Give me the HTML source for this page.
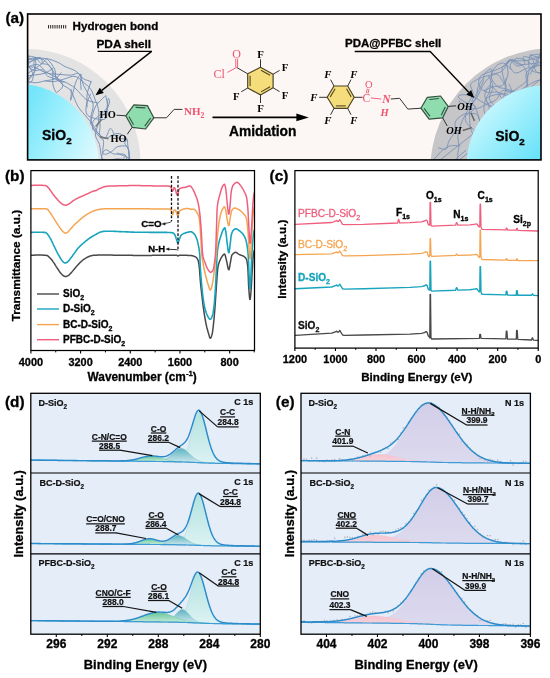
<!DOCTYPE html>
<html lang="en"><head><meta charset="utf-8"><title>Figure</title>
<style>
html,body{margin:0;padding:0;background:#fff;}
body{width:550px;height:678px;overflow:hidden;}
svg{display:block;}
</style></head><body>
<svg width="550" height="678" viewBox="0 0 550 678" font-family='"Liberation Sans", sans-serif' font-weight="bold">
<defs>
<clipPath id="clipA"><rect x="27.6" y="14" width="513.4" height="145.9"/></clipPath>
<linearGradient id="sphL" gradientUnits="userSpaceOnUse" x1="27" y1="105" x2="102" y2="140"><stop offset="0" stop-color="#74e5fa"/><stop offset="0.5" stop-color="#a6f1fd"/><stop offset="1" stop-color="#dcfafe"/></linearGradient>
<linearGradient id="sphR" gradientUnits="userSpaceOnUse" x1="541" y1="158" x2="478" y2="98"><stop offset="0" stop-color="#66e1f9"/><stop offset="0.5" stop-color="#9ceefc"/><stop offset="1" stop-color="#d4f9fe"/></linearGradient>
<clipPath id="clipB"><rect x="30.9" y="170.6" width="223.6" height="179.9"/></clipPath>
<linearGradient id="g1" x1="0" y1="0" x2="0" y2="1"><stop offset="0" stop-color="#b2e2df" stop-opacity="1"/><stop offset="1" stop-color="#dcf2f3" stop-opacity="1"/></linearGradient>
<linearGradient id="g2" x1="0" y1="0" x2="0" y2="1"><stop offset="0" stop-color="#5db4c1" stop-opacity="1"/><stop offset="1" stop-color="#d3e9ef" stop-opacity="1"/></linearGradient>
<linearGradient id="g3" x1="0" y1="0" x2="0" y2="1"><stop offset="0" stop-color="#66c69b" stop-opacity="1"/><stop offset="1" stop-color="#cdeedd" stop-opacity="1"/></linearGradient>
<linearGradient id="g4" x1="0" y1="0" x2="0" y2="1"><stop offset="0" stop-color="#d3cee9" stop-opacity="1"/><stop offset="1" stop-color="#dcdaee" stop-opacity="1"/></linearGradient>
<linearGradient id="g5" x1="0" y1="0" x2="0" y2="1"><stop offset="0" stop-color="#f6c3cf" stop-opacity="1"/><stop offset="1" stop-color="#f3d3de" stop-opacity="1"/></linearGradient>
</defs>
<rect x="0" y="0" width="550" height="678" fill="#ffffff"/>
<rect x="27.6" y="14" width="513.4" height="145.9" fill="#fcf7f4"/>
<g clip-path="url(#clipA)">
<circle cx="26" cy="163.6" r="114.5" fill="#e3e3e3"/>
<circle cx="552" cy="170" r="121.7" fill="#c6c6c8"/>
<path d="M81.14 89.47 C81.04 88.05 80.58 83.51 80.55 80.95 C80.53 78.39 81.72 74.06 80.99 74.09 C80.27 74.13 77.47 78.29 76.2 81.14 C74.92 83.99 74.32 88.01 73.36 91.21 C72.41 94.42 70.9 100.46 70.48 100.37 C70.06 100.28 72.25 93.4 70.82 90.7 C69.4 87.99 64.48 86.69 61.9 84.13 C59.33 81.58 57.11 77.94 55.37 75.37 C53.63 72.81 53.49 71.38 51.48 68.73 C49.46 66.09 46.2 61 43.29 59.51 C40.38 58.01 36.96 58.62 34 59.76 C31.03 60.89 28.23 64.49 25.49 66.32 C22.74 68.15 20.09 69.9 17.51 70.73 C14.93 71.57 12.5 72.27 10 71.33 C7.51 70.38 4.04 67.3 2.55 65.06 C1.06 62.81 0.99 59.11 1.05 57.85 C1.12 56.59 2.84 56.96 2.94 57.51 C3.04 58.07 0.59 60.77 1.68 61.2 C2.77 61.63 6.93 60.06 9.47 60.1 C12.01 60.15 13.59 61.23 16.94 61.48 C20.28 61.74 26.23 62.09 29.53 61.63 C32.84 61.17 35 59.38 36.76 58.73 C38.52 58.07 39.53 57.86 40.09 57.69" fill="none" stroke="#7590b6" stroke-width="0.95" stroke-linecap="round" stroke-linejoin="round"/>
<path d="M87.12 106.94 C87.13 104.81 86.6 98.14 87.18 94.14 C87.75 90.15 89.92 85.06 90.56 82.97 C91.21 80.89 92.27 82.37 91.03 81.63 C89.8 80.89 85.71 80.28 83.15 78.52 C80.59 76.75 78.67 73.05 75.65 71.05 C72.64 69.06 67.99 67.99 65.05 66.55 C62.1 65.1 60.68 63.62 57.96 62.38 C55.24 61.13 51.69 59.78 48.71 59.09 C45.74 58.4 43.5 58.17 40.09 58.23 C36.67 58.3 30.33 59.83 28.23 59.49 C26.14 59.15 27.69 55.13 27.52 56.2 C27.34 57.26 27.98 63.12 27.2 65.86 C26.42 68.6 23.26 69.67 22.83 72.62 C22.39 75.57 22.98 83.2 24.59 83.58 C26.2 83.96 30.56 77.5 32.5 74.89 C34.43 72.28 34.52 69.86 36.22 67.92 C37.92 65.98 40.91 64.71 42.72 63.25 C44.52 61.8 45.05 58.15 47.06 59.17 C49.06 60.2 53.19 66.01 54.73 69.39 C56.26 72.77 54.66 77.33 56.27 79.43 C57.88 81.54 63.03 81.58 64.38 82.01" fill="none" stroke="#7590b6" stroke-width="0.95" stroke-linecap="round" stroke-linejoin="round"/>
<path d="M42.47 62.38 C42.01 61.59 41.94 58.2 39.75 57.63 C37.55 57.06 32.61 58.13 29.28 58.95 C25.96 59.77 22.16 60.89 19.79 62.55 C17.41 64.21 17.21 66.81 15.04 68.9 C12.88 70.99 8.48 73.49 6.79 75.1 C5.11 76.71 4.64 79.5 4.92 78.55 C5.2 77.6 6.47 71.91 8.49 69.4 C10.5 66.9 14.49 65.75 17.01 63.52 C19.54 61.29 21.88 55.73 23.65 56.03 C25.42 56.34 25.94 62.97 27.63 65.35 C29.32 67.73 31.32 69.52 33.79 70.31 C36.26 71.1 40.16 69.12 42.46 70.08 C44.76 71.04 45.2 74.52 47.6 76.05 C49.99 77.58 53.86 78.23 56.82 79.26 C59.78 80.3 62.44 80.88 65.36 82.25 C68.29 83.62 71.9 85.64 74.36 87.5 C76.83 89.36 77.96 91.29 80.14 93.41 C82.32 95.53 84.55 98.63 87.43 100.21 C90.32 101.79 95.78 102.44 97.45 102.88" fill="none" stroke="#7590b6" stroke-width="0.95" stroke-linecap="round" stroke-linejoin="round"/>
<path d="M117.18 153.06 C119.1 153.87 126.69 157.15 128.7 157.93 C130.72 158.71 129.81 155.95 129.29 157.74 C128.77 159.52 125.85 165.46 125.57 168.64 C125.29 171.82 127.34 177.21 127.59 176.82 C127.84 176.44 127.45 169.98 127.05 166.33 C126.66 162.68 127.41 156.99 125.22 154.93 C123.02 152.86 117.19 154.82 113.89 153.97 C110.58 153.12 107.43 149.13 105.41 149.83 C103.38 150.53 100.91 156.03 101.75 158.17 C102.59 160.31 107.75 160.66 110.46 162.66 C113.16 164.67 115.04 169.68 117.97 170.21 C120.89 170.75 126.12 168.07 128 165.86 C129.88 163.65 129.26 160.31 129.24 156.96 C129.22 153.61 128.4 149.03 127.87 145.78 C127.35 142.54 127.89 139.53 126.08 137.48 C124.27 135.42 120.39 133.35 117.01 133.45 C113.64 133.56 108.82 137.96 105.84 138.13 C102.85 138.3 101.17 136.62 99.1 134.48 C97.03 132.34 95.47 128.19 93.4 125.3 C91.33 122.41 89.11 120.02 86.7 117.13 C84.3 114.23 80.94 110.83 78.97 107.93 C77 105.03 76.23 102.85 74.87 99.74 C73.51 96.63 71.49 91.02 70.81 89.27" fill="none" stroke="#7590b6" stroke-width="0.95" stroke-linecap="round" stroke-linejoin="round"/>
<path d="M45.31 80.98 C46.78 81.08 51.08 81.86 54.12 81.57 C57.16 81.28 60.06 80.12 63.57 79.25 C67.07 78.38 71.64 75.69 75.13 76.35 C78.62 77.02 81.91 81.1 84.52 83.26 C87.12 85.42 88.94 86.36 90.79 89.3 C92.64 92.24 94.33 97.47 95.62 100.9 C96.9 104.33 98.05 106.31 98.51 109.87 C98.97 113.44 98.88 118.13 98.37 122.3 C97.85 126.46 95.25 131.15 95.43 134.85 C95.62 138.55 98.45 140.8 99.49 144.48 C100.52 148.16 100.45 153.33 101.64 156.92 C102.84 160.51 104.14 163.34 106.63 166 C109.13 168.66 113.18 172.23 116.61 172.91 C120.03 173.58 125.02 171.57 127.17 170.06 C129.32 168.56 130.41 165.66 129.5 163.86 C128.59 162.07 124.57 159.96 121.69 159.29 C118.82 158.61 115.42 158.79 112.26 159.79 C109.1 160.8 104.53 163 102.73 165.33 C100.93 167.67 100.61 174.06 101.46 173.8 C102.31 173.54 104.62 165.3 107.82 163.76 C111.03 162.23 117.1 163.98 120.71 164.62 C124.31 165.25 129.15 166.42 129.46 167.56 C129.77 168.7 124.45 170.11 122.56 171.47 C120.67 172.84 118.28 176.83 118.11 175.73 C117.95 174.62 120.58 167.86 121.57 164.83 C122.57 161.81 123.66 158.77 124.08 157.56" fill="none" stroke="#7590b6" stroke-width="0.95" stroke-linecap="round" stroke-linejoin="round"/>
<path d="M52.94 68.37 C51.46 69.22 47.52 72.29 44.03 73.44 C40.54 74.59 35.88 74.68 32 75.29 C28.13 75.9 24.73 76.68 20.8 77.09 C16.87 77.51 11.26 78.65 8.41 77.78 C5.56 76.91 2.6 71.96 3.67 71.87 C4.74 71.77 12.38 75.27 14.84 77.21 C17.3 79.16 19 83.52 18.42 83.54 C17.84 83.57 13.71 79.39 11.35 77.37 C8.98 75.35 5.86 74.23 4.23 71.39 C2.59 68.56 1.71 60.86 1.52 60.35 C1.33 59.85 1.34 66.99 3.07 68.39 C4.8 69.78 8.91 68.91 11.9 68.71 C14.88 68.5 17.31 67.42 20.97 67.16 C24.63 66.9 29.97 66.35 33.84 67.16 C37.71 67.98 41.24 70.93 44.2 72.05 C47.15 73.16 48.78 73.44 51.57 73.86 C54.35 74.27 57.73 74.3 60.92 74.52 C64.12 74.73 67.66 75.27 70.72 75.16 C73.79 75.04 77.18 72.12 79.32 73.82 C81.45 75.52 81.99 81.9 83.53 85.34 C85.06 88.79 86.91 91.26 88.53 94.5 C90.14 97.74 92.81 100.92 93.21 104.76 C93.61 108.6 90.95 113.38 90.94 117.56 C90.92 121.73 92.76 127.77 93.12 129.82" fill="none" stroke="#7590b6" stroke-width="0.95" stroke-linecap="round" stroke-linejoin="round"/>
<path d="M90.51 94.11 C89.82 95.93 86.93 101.56 86.39 105.02 C85.85 108.49 85.5 112.58 87.27 114.9 C89.05 117.22 94.03 118.3 97.07 118.93 C100.1 119.56 103.78 120.17 105.47 118.66 C107.15 117.16 106.75 113.24 107.17 109.92 C107.59 106.6 107.58 100.11 107.98 98.75 C108.38 97.4 109.9 99.66 109.56 101.81 C109.22 103.97 107.49 108.85 105.95 111.67 C104.42 114.49 101.33 116.18 100.34 118.71 C99.36 121.24 100.16 124.23 100.06 126.83 C99.96 129.44 99.16 131.97 99.73 134.35 C100.3 136.73 102.93 137.9 103.49 141.12 C104.06 144.34 101.84 151.84 103.11 153.66 C104.38 155.48 108.77 153.19 111.12 152.06 C113.47 150.92 114.53 147.7 117.21 146.85 C119.9 145.99 125.21 144.91 127.24 146.92 C129.26 148.94 128.99 155.53 129.36 158.94 C129.73 162.35 129.57 164.37 129.46 167.37 C129.35 170.37 128.7 176.98 128.7 176.95 C128.71 176.92 129.35 170.01 129.47 167.19 C129.58 164.37 129.57 162.94 129.41 160.05 C129.25 157.16 129.31 152.64 128.51 149.87 C127.71 147.09 125.27 144.46 124.62 143.38" fill="none" stroke="#7590b6" stroke-width="0.95" stroke-linecap="round" stroke-linejoin="round"/>
<path d="M60.98 72.84 C60.05 73.82 57.98 77.44 55.36 78.77 C52.73 80.09 48.63 80.1 45.25 80.78 C41.86 81.45 38.35 82.83 35.03 82.82 C31.72 82.81 28.65 80.65 25.36 80.72 C22.06 80.78 18.3 83.08 15.24 83.2 C12.19 83.33 8.88 82.83 7.05 81.46 C5.22 80.09 2.94 76.39 4.25 74.97 C5.57 73.55 11.28 74.08 14.92 72.92 C18.57 71.76 22.34 69.43 26.11 68.02 C29.87 66.6 34.04 63.69 37.52 64.45 C41 65.21 43.55 70.23 46.97 72.57 C50.4 74.92 55.41 76.33 58.05 78.53 C60.7 80.73 62.95 83.54 62.85 85.78 C62.75 88.03 58.71 91.13 57.47 92.02 C56.22 92.91 56.15 92.56 55.36 91.15 C54.58 89.74 53.21 86.8 52.75 83.56 C52.29 80.32 53.38 74.83 52.61 71.71 C51.84 68.59 50.13 66.27 48.15 64.84 C46.17 63.42 43.01 64.43 40.74 63.16 C38.47 61.89 37.65 58.41 34.52 57.21 C31.39 56.02 25.93 55.75 21.94 56 C17.95 56.25 14.07 58.41 10.59 58.71 C7.11 59.02 2.64 57.99 1.05 57.85" fill="none" stroke="#7590b6" stroke-width="0.95" stroke-linecap="round" stroke-linejoin="round"/>
<path d="M27.48 79.25 C28.68 78.06 33.61 74.7 34.68 72.09 C35.74 69.48 33.79 66.11 33.89 63.59 C34 61.06 35.07 56.27 35.3 56.95 C35.53 57.62 36.38 65.01 35.29 67.64 C34.21 70.26 30.85 70.93 28.8 72.71 C26.76 74.48 24.88 76.48 23.02 78.29 C21.17 80.1 19.42 83.84 17.65 83.57 C15.87 83.3 14.5 78.22 12.39 76.69 C10.29 75.16 6.63 76.01 5.02 74.37 C3.42 72.74 2.18 66.86 2.74 66.89 C3.3 66.92 7.6 71.96 8.39 74.57 C9.18 77.18 7.32 80.92 7.5 82.54 C7.68 84.17 8.79 86.02 9.48 84.32 C10.17 82.63 9.36 75.25 11.64 72.39 C13.92 69.52 20.91 69.74 23.16 67.12 C25.41 64.5 24.17 58.48 25.13 56.67 C26.09 54.87 28.38 55 28.92 56.29 C29.45 57.58 27.63 61.3 28.34 64.41 C29.05 67.52 32.82 71.9 33.16 74.94 C33.5 77.99 32.39 81.39 30.38 82.69 C28.36 83.99 24.06 82.54 21.06 82.75 C18.06 82.96 15.02 84.42 12.37 83.96 C9.73 83.5 5.58 79.93 5.19 79.98 C4.81 80.02 9.25 83.53 10.07 84.24" fill="none" stroke="#7590b6" stroke-width="0.95" stroke-linecap="round" stroke-linejoin="round"/>
<path d="M124.93 142.27 C125.2 141.8 128.03 140.32 126.57 139.47 C125.12 138.62 118.87 139.01 116.19 137.17 C113.52 135.33 112.38 128.3 110.5 128.42 C108.62 128.55 107.34 137.49 104.9 137.93 C102.47 138.37 98.07 133.2 95.87 131.04 C93.67 128.89 92.61 126.36 91.71 124.98 C90.8 123.61 90.29 124.55 90.45 122.81 C90.6 121.06 91.67 117.38 92.61 114.51 C93.55 111.64 94.08 108.6 96.08 105.6 C98.09 102.6 102.98 97.92 104.64 96.51 C106.3 95.1 105.65 95.25 106.04 97.11 C106.43 98.98 108.25 104.53 106.99 107.69 C105.73 110.85 100.8 113.73 98.47 116.08 C96.13 118.42 93.78 119.54 92.98 121.78 C92.18 124.02 92.21 126.59 93.67 129.5 C95.12 132.4 100.37 137.6 101.71 139.22" fill="none" stroke="#7590b6" stroke-width="0.95" stroke-linecap="round" stroke-linejoin="round"/>
<path d="M538.9 57.82 C540.48 57.58 545.23 56.78 548.38 56.4 C551.54 56.02 555.02 55.72 557.81 55.54 C560.61 55.36 563.31 55.24 565.13 55.31 C566.96 55.37 568.93 55.95 568.78 55.93 C568.63 55.9 565.18 53.35 564.23 55.17 C563.28 56.99 563.5 63.34 563.07 66.85 C562.65 70.37 562.35 73.37 561.7 76.28 C561.05 79.2 560.37 82.68 559.17 84.34 C557.97 86 553.89 86.54 554.5 86.26 C555.1 85.98 561.61 85.39 562.79 82.65 C563.97 79.92 563.04 72.61 561.57 69.85 C560.1 67.1 556.92 66.66 553.96 66.12 C551 65.58 546.88 66.79 543.81 66.61 C540.75 66.42 538.45 63.98 535.57 65.01 C532.69 66.03 527.96 69.72 526.53 72.73 C525.09 75.75 526.69 80.46 526.97 83.08 C527.26 85.7 528.02 87.56 528.23 88.45" fill="none" stroke="#7b93b9" stroke-width="0.9" stroke-linecap="round" stroke-linejoin="round"/>
<path d="M482.39 79.55 C481.63 80.9 478.82 84.8 477.8 87.66 C476.78 90.52 477.55 93.52 476.28 96.71 C475.02 99.9 471.35 103.79 470.23 106.82 C469.11 109.84 469.55 111.57 469.57 114.88 C469.58 118.19 469.65 123.33 470.3 126.67 C470.96 130 472.69 134.08 473.51 134.87 C474.33 135.66 476.46 133.46 475.25 131.39 C474.03 129.33 467.66 125.26 466.21 122.47 C464.76 119.68 464.87 116.08 466.56 114.67 C468.24 113.27 474.06 112.7 476.33 114.04 C478.6 115.38 480.13 123.3 480.18 122.71 C480.24 122.12 478.03 114.08 476.66 110.49 C475.29 106.89 471.91 104.02 471.97 101.14 C472.02 98.25 475.15 96.4 476.99 93.19 C478.83 89.97 481.75 85.01 483.01 81.82 C484.27 78.63 483.13 76.17 484.55 74.06 C485.97 71.94 490.49 67.84 491.51 69.14 C492.53 70.43 491.02 78 490.66 81.83 C490.3 85.67 490.11 89.15 489.33 92.16 C488.55 95.17 485.59 97.45 485.96 99.89 C486.33 102.33 490.14 105.74 491.56 106.8 C492.98 107.85 494.86 107.6 494.49 106.2 C494.11 104.79 489.56 101.64 489.32 98.36 C489.08 95.08 493.16 90.21 493.04 86.5 C492.91 82.8 489.31 77.87 488.56 76.15" fill="none" stroke="#7b93b9" stroke-width="0.9" stroke-linecap="round" stroke-linejoin="round"/>
<path d="M468.57 102.37 C469.33 100.91 472.81 96.55 473.12 93.64 C473.43 90.73 470.1 87.07 470.43 84.9 C470.77 82.74 473.08 81.93 475.11 80.65 C477.15 79.37 479.34 78.42 482.65 77.25 C485.95 76.07 491.58 74.74 494.93 73.62 C498.28 72.5 500.49 72.64 502.75 70.54 C505.02 68.44 507.08 62.75 508.52 61.01 C509.95 59.27 512.4 58.97 511.37 60.1 C510.34 61.24 503.5 64.41 502.32 67.83 C501.14 71.24 503.66 77.24 504.28 80.61 C504.9 83.98 506.42 84.79 506.02 88.04 C505.63 91.29 503.93 97.02 501.92 100.12 C499.9 103.23 497.07 106.29 493.94 106.68 C490.8 107.08 486.74 104.29 483.12 102.5 C479.49 100.71 475.79 97.23 472.17 95.95 C468.56 94.68 463.7 94.55 461.44 94.86 C459.19 95.17 457.65 96.4 458.66 97.81 C459.67 99.22 464.66 101.9 467.49 103.35 C470.33 104.8 475.2 105.03 475.65 106.5 C476.11 107.97 472.31 110.78 470.21 112.14 C468.11 113.5 465.49 113.14 463.04 114.67 C460.59 116.19 456.87 118.56 455.53 121.29 C454.2 124.01 456.15 127.69 455.04 131.02 C453.93 134.34 450.35 138.2 448.87 141.22 C447.39 144.24 447.87 148.05 446.14 149.15 C444.42 150.24 439.79 148.02 438.52 147.8" fill="none" stroke="#7b93b9" stroke-width="0.9" stroke-linecap="round" stroke-linejoin="round"/>
<path d="M533.53 66.33 C532.29 65.32 529 61.53 526.09 60.25 C523.18 58.96 518.75 57.64 516.08 58.6 C513.4 59.56 510.11 63.6 510.05 66 C509.99 68.4 512.98 72.6 515.73 73.01 C518.48 73.42 522.83 69.66 526.54 68.45 C530.26 67.25 534.81 66.52 538.04 65.78 C541.28 65.03 542.98 64.56 545.96 64 C548.94 63.44 553.32 64 555.91 62.41 C558.51 60.82 559.4 55.54 561.54 54.46 C563.68 53.38 568.96 55.41 568.78 55.93 C568.59 56.44 562.63 55.9 560.44 57.53 C558.25 59.16 557.43 62.44 555.64 65.71 C553.84 68.98 550.28 73.76 549.64 77.16 C549.01 80.56 550.96 86.47 551.83 86.09 C552.71 85.71 553.65 78.79 554.89 74.9 C556.14 71.01 556.96 66 559.29 62.75 C561.62 59.5 568.6 55.88 568.87 55.4 C569.15 54.92 563.71 60.1 560.93 59.88 C558.15 59.66 555.32 54.04 552.2 54.08 C549.08 54.11 543.86 59.1 542.2 60.1" fill="none" stroke="#7b93b9" stroke-width="0.9" stroke-linecap="round" stroke-linejoin="round"/>
<path d="M465.78 150.69 C464.5 151.72 460.21 154.53 458.11 156.86 C456 159.19 435.26 178.61 453.16 164.67 C471.07 150.73 548.23 89.64 565.54 73.21 C582.86 56.78 559.62 68.83 557.05 66.09 C554.47 63.36 551.59 58.83 550.09 56.82 C548.6 54.8 549.7 54.42 548.06 54 C546.41 53.58 542.16 52.32 540.21 54.27 C538.25 56.22 538.11 63.17 536.35 65.71 C534.58 68.24 531.27 66.99 529.63 69.5 C527.99 72.01 528.37 77.76 526.51 80.75 C524.65 83.73 520.93 85.63 518.46 87.4 C516 89.18 514.39 90.85 511.74 91.39 C509.08 91.94 505.09 89.32 502.53 90.67 C499.96 92.01 498.84 97.28 496.34 99.45 C493.84 101.62 490.69 102.19 487.53 103.69 C484.37 105.18 480.72 107.79 477.38 108.4 C474.04 109.01 470.56 108.59 467.48 107.36 C464.41 106.12 460.35 102.05 458.93 100.99" fill="none" stroke="#7b93b9" stroke-width="0.9" stroke-linecap="round" stroke-linejoin="round"/>
<path d="M546.42 68.99 C546.86 67.05 547.97 59.79 549.06 57.31 C550.15 54.83 552.54 52.99 552.97 54.11 C553.39 55.23 550.59 62.4 551.61 64.03 C552.64 65.65 556.39 64.58 559.13 63.86 C561.87 63.14 567.59 58.54 568.07 59.71 C568.55 60.87 564.31 67.65 561.99 70.84 C559.68 74.04 557.19 78.36 554.18 78.86 C551.16 79.36 546.92 75.08 543.88 73.84 C540.85 72.59 537.76 73.73 535.96 71.39 C534.16 69.05 534 62.45 533.09 59.78 C532.17 57.11 529.29 55.8 530.47 55.37 C531.64 54.94 536.77 57.43 540.12 57.21 C543.48 56.98 547.2 54.45 550.61 54.03 C554.02 53.61 557.74 53.46 560.59 54.7 C563.45 55.95 567.14 61.44 567.73 61.51 C568.32 61.59 564.14 55.23 564.15 55.16 C564.16 55.09 568.93 60.95 567.81 61.1 C566.69 61.24 560.53 57.31 557.41 56.03 C554.3 54.74 552.22 53.44 549.11 53.39 C546.01 53.35 541.01 54.16 538.79 55.76 C536.57 57.36 537.21 59.92 535.78 63.01 C534.35 66.1 531.14 72.42 530.21 74.31" fill="none" stroke="#7b93b9" stroke-width="0.9" stroke-linecap="round" stroke-linejoin="round"/>
<path d="M508.8 84.11 C509.23 85.36 512.24 89.09 511.37 91.62 C510.5 94.15 505.95 99.33 503.56 99.28 C501.16 99.23 499.29 93.55 497 91.32 C494.71 89.09 491.88 85.15 489.83 85.88 C487.79 86.61 484.82 92.14 484.72 95.68 C484.62 99.23 489.07 103.88 489.23 107.14 C489.4 110.4 486.57 115.28 485.69 115.25 C484.81 115.22 483.82 109.73 483.94 106.96 C484.06 104.19 484.73 100.6 486.39 98.62 C488.05 96.65 490.51 95.9 493.9 95.11 C497.28 94.33 504.29 93.7 506.71 93.9 C509.13 94.11 509.98 96.62 508.41 96.34 C506.83 96.06 500.95 92.93 497.25 92.22 C493.56 91.51 489.27 93.15 486.25 92.08 C483.24 91.02 480.16 88.43 479.16 85.85 C478.16 83.26 478.61 78.85 480.24 76.57 C481.88 74.29 486.04 73.37 488.97 72.15 C491.9 70.94 494.72 70.69 497.81 69.29 C500.91 67.89 505.39 65.25 507.54 63.75 C509.68 62.26 509.15 59.97 510.7 60.33 C512.25 60.7 514.48 65.4 516.82 65.92 C519.15 66.45 523.6 65.01 524.71 63.47 C525.82 61.93 521.76 57.32 523.48 56.69 C525.2 56.07 531.67 58.27 535.05 59.71 C538.42 61.16 542.29 64.44 543.73 65.38" fill="none" stroke="#7b93b9" stroke-width="0.9" stroke-linecap="round" stroke-linejoin="round"/>
<path d="M484.38 90.35 C486.11 89.69 491.71 87.24 494.76 86.38 C497.82 85.52 500.51 87.21 502.72 85.19 C504.92 83.18 507.34 78.04 507.99 74.3 C508.64 70.56 506.1 65.09 506.62 62.74 C507.14 60.39 509 59.89 511.14 60.18 C513.27 60.47 516.06 63.89 519.43 64.47 C522.81 65.05 527.58 64.08 531.37 63.67 C535.17 63.27 538.97 63.07 542.22 62.02 C545.47 60.97 547.6 58.57 550.89 57.38 C554.18 56.19 559.12 54.35 561.96 54.87 C564.8 55.38 567.71 60.42 567.93 60.45 C568.15 60.48 565.26 55.5 563.29 55.04 C561.31 54.58 558.57 57.13 556.09 57.69 C553.61 58.26 551.77 58.43 548.43 58.44 C545.09 58.46 539.62 57.45 536.05 57.78 C532.48 58.11 530.38 59.95 527.01 60.42 C523.64 60.9 518.25 60.76 515.81 60.65 C513.36 60.55 511.18 58.97 512.33 59.78 C513.48 60.59 520.25 63.13 522.69 65.52 C525.12 67.91 526.24 70.83 526.94 74.1 C527.63 77.37 528.28 82.22 526.86 85.13 C525.44 88.05 521.88 90.96 518.42 91.59 C514.96 92.23 509.65 89.8 506.11 88.92 C502.57 88.04 499.64 88.34 497.17 86.32 C494.7 84.3 491.53 80.1 491.28 76.82 C491.03 73.54 493.62 68.93 495.69 66.64 C497.75 64.34 501.13 62.58 503.69 63.05 C506.24 63.53 509.8 68.41 511.02 69.48" fill="none" stroke="#7b93b9" stroke-width="0.9" stroke-linecap="round" stroke-linejoin="round"/>
<path d="M459.81 145.85 C457.98 145.92 452.33 144.87 448.82 146.24 C445.32 147.6 440.96 151.19 438.79 154.02 C436.62 156.86 414.12 179.6 435.79 163.25 C457.45 146.9 547.43 73.95 568.78 55.93 C590.12 37.9 565.89 54.75 563.84 55.12 C561.8 55.48 558.92 55.91 556.49 58.13 C554.07 60.36 551.71 65.2 549.31 68.47 C546.9 71.75 543.36 74.74 542.08 77.79 C540.8 80.84 540.57 85.42 541.64 86.79 C542.7 88.16 546.19 87.97 548.45 86 C550.71 84.03 554.89 78.02 555.17 74.97 C555.45 71.92 551 70.23 550.14 67.69 C549.28 65.14 550.95 61.94 550 59.67 C549.04 57.4 547.11 54.85 544.41 54.06 C541.71 53.26 536.19 54.67 533.8 54.9 C531.4 55.13 530.83 53.43 530.04 55.44 C529.24 57.44 527.94 64.07 529.02 66.92 C530.1 69.76 533.28 71.89 536.53 72.51 C539.79 73.13 545.35 71.43 548.56 70.64 C551.77 69.85 553.16 69.61 555.8 67.77 C558.44 65.93 562.24 61.58 564.4 59.62 C566.56 57.65 569.39 56.47 568.77 55.97 C568.14 55.46 562.55 55.02 560.66 56.6 C558.76 58.19 558.95 63.11 557.4 65.48 C555.85 67.85 552.38 69.94 551.38 70.83" fill="none" stroke="#7b93b9" stroke-width="0.9" stroke-linecap="round" stroke-linejoin="round"/>
<path d="M505.08 85.27 C503.86 83.48 500.3 75.91 497.71 74.57 C495.11 73.23 492.01 75.41 489.5 77.25 C487 79.1 484.59 82.6 482.69 85.63 C480.8 88.66 479.96 92.27 478.15 95.42 C476.34 98.57 473.68 101.87 471.84 104.55 C470.01 107.24 468.7 108.87 467.14 111.51 C465.58 114.14 463.8 117.38 462.47 120.37 C461.14 123.36 459.9 126.7 459.14 129.46 C458.37 132.21 457.94 134.11 457.89 136.92 C457.83 139.74 458.81 142.84 458.81 146.37 C458.8 149.9 456.78 154.93 457.86 158.12 C458.95 161.31 447.79 177.36 465.3 165.51 C482.82 153.65 546.53 101.5 562.96 86.99 C579.4 72.49 563.5 80.72 563.92 78.48 C564.34 76.24 565.79 73.28 565.48 73.57 C565.16 73.86 563.17 78.05 562.01 80.24 C560.85 82.43 558.23 86.17 558.51 86.68 C558.78 87.2 563.87 83.33 563.65 83.31 C563.44 83.28 557.25 86.41 557.22 86.53 C557.2 86.65 563.79 84.06 563.52 84.03 C563.24 84.01 557.96 86.65 555.58 86.36 C553.2 86.06 552.14 83.28 549.23 82.28 C546.33 81.28 541.9 79.7 538.14 80.34 C534.38 80.97 530.02 84.32 526.7 86.09 C523.39 87.86 521.64 90.16 518.25 90.97 C514.85 91.78 508.35 93.03 506.32 90.96 C504.29 88.88 506.1 80.58 506.06 78.51" fill="none" stroke="#7b93b9" stroke-width="0.9" stroke-linecap="round" stroke-linejoin="round"/>
<circle cx="17.3" cy="165.5" r="81.8" fill="url(#sphL)"/>
<circle cx="546" cy="164.7" r="79.4" fill="url(#sphR)"/>
</g>
<rect x="27.6" y="14" width="513.4" height="145.9" fill="none" stroke="#000" stroke-width="1.6"/>
<text x="5.4" y="23.2" font-size="15.3" stroke="#000" stroke-width="0.3">(a)</text>
<text x="42" y="140.2" font-size="14" stroke="#000" stroke-width="0.3">SiO<tspan font-size="9.8" dy="4.2">2</tspan></text>
<text x="495.2" y="140.7" font-size="14" stroke="#000" stroke-width="0.3">SiO<tspan font-size="9.8" dy="4.2">2</tspan></text>
<line x1="48" y1="26.7" x2="66.2" y2="26.7" stroke="#333" stroke-width="3.4" stroke-dasharray="1.05 1.1"/>
<text x="72.6" y="29.9" font-size="11.6" stroke="#000" stroke-width="0.3">Hydrogen bond</text>
<text x="96.5" y="47.7" font-size="11.8" stroke="#000" stroke-width="0.3">PDA shell</text>
<line x1="97.6" y1="51.4" x2="152" y2="51.4" stroke="#000" stroke-width="1.35"/>
<path d="M95.5 95.3 L99.75 87.76 L103.83 92.95 Z" fill="#000"/>
<line x1="151.6" y1="51.4" x2="101.79" y2="90.36" stroke="#000" stroke-width="1.35"/>
<text x="345.1" y="46.8" font-size="11.5" stroke="#000" stroke-width="0.3">PDA@PFBC shell</text>
<line x1="354.7" y1="51.5" x2="430.6" y2="51.5" stroke="#000" stroke-width="1.35"/>
<path d="M474.2 98 L466.32 94.43 L471.13 89.91 Z" fill="#000"/>
<line x1="430.2" y1="51.5" x2="468.72" y2="92.17" stroke="#000" stroke-width="1.35"/>
<line x1="212.5" y1="117.4" x2="299" y2="117.4" stroke="#000" stroke-width="1.8"/>
<path d="M308.8 117.4 L296.4 113.6 L296.4 121.2 Z" fill="#000"/>
<text x="229" y="136.2" font-size="13.8" stroke="#000" stroke-width="0.3">Amidation</text>
<path d="M125.8 115.8 L133.9 104.9 L147.4 105.6 L153.8 117.8 L145.6 129 L132.2 127.3Z" fill="#8fdcae" stroke="#35503f" stroke-width="1.2" stroke-linejoin="round"/>
<line x1="135.61" y1="107.39" x2="145.33" y2="107.9" stroke="#35503f" stroke-width="1.08"/>
<line x1="150.66" y1="118.03" x2="144.76" y2="126.09" stroke="#35503f" stroke-width="1.08"/>
<line x1="133.5" y1="124.71" x2="128.89" y2="116.43" stroke="#35503f" stroke-width="1.08"/>
<path d="M153.8 117.8 L166.5 117.8 L174.1 109.4 L182 109.4" fill="none" stroke="#333" stroke-width="1" stroke-linejoin="round" stroke-linecap="round"/>
<line x1="116.5" y1="115.2" x2="125.8" y2="115.8" stroke="#333" stroke-width="1"/>
<line x1="132.2" y1="127.3" x2="127.3" y2="134.2" stroke="#333" stroke-width="1"/>
<text x="107.7" y="117.9" font-size="10.4" font-family='"Liberation Serif", serif' text-anchor="middle">HO</text>
<text x="118.5" y="142.4" font-size="10.4" font-family='"Liberation Serif", serif' text-anchor="middle">HO</text>
<text x="184" y="114.8" font-size="11" font-family='"Liberation Serif", serif' fill="#f0506e">NH<tspan font-size="7.7" dy="3.3">2</tspan></text>
<line x1="95.8" y1="126.5" x2="101.6" y2="119.6" stroke="#777" stroke-width="1.5"/>
<line x1="99.8" y1="136.7" x2="108.5" y2="138.7" stroke="#777" stroke-width="1.5"/>
<path d="M260.5 67.3 L273.1 74.2 L273.1 87.8 L260.5 94.9 L247.7 88 L247.7 73.8Z" fill="#f5dd7c" stroke="#4d4526" stroke-width="1.2" stroke-linejoin="round"/>
<line x1="261" y1="70.3" x2="270.07" y2="75.27" stroke="#4d4526" stroke-width="1.08"/>
<line x1="270.08" y1="86.75" x2="261.01" y2="91.86" stroke="#4d4526" stroke-width="1.08"/>
<line x1="250.1" y1="86.03" x2="250.1" y2="75.81" stroke="#4d4526" stroke-width="1.08"/>
<line x1="260.5" y1="67.3" x2="260.5" y2="59.3" stroke="#333" stroke-width="1"/>
<line x1="273.1" y1="74.2" x2="279.6" y2="70.4" stroke="#333" stroke-width="1"/>
<line x1="273.1" y1="87.8" x2="279.6" y2="91.6" stroke="#333" stroke-width="1"/>
<line x1="260.5" y1="94.9" x2="260.5" y2="103" stroke="#333" stroke-width="1"/>
<line x1="247.7" y1="88" x2="241.2" y2="91.8" stroke="#333" stroke-width="1"/>
<line x1="247.7" y1="73.8" x2="236.6" y2="67.4" stroke="#333" stroke-width="1"/>
<text x="260.5" y="57.9" font-size="10.8" font-family='"Liberation Serif", serif' text-anchor="middle">F</text>
<text x="285" y="71" font-size="10.8" font-family='"Liberation Serif", serif' text-anchor="middle">F</text>
<text x="285" y="99.2" font-size="10.8" font-family='"Liberation Serif", serif' text-anchor="middle">F</text>
<text x="260.5" y="112.4" font-size="10.8" font-family='"Liberation Serif", serif' text-anchor="middle">F</text>
<text x="236.4" y="99.6" font-size="10.8" font-family='"Liberation Serif", serif' text-anchor="middle">F</text>
<line x1="235.8" y1="67.4" x2="235.8" y2="58.6" stroke="#f0506e" stroke-width="0.9"/>
<line x1="237.6" y1="67.4" x2="237.6" y2="58.6" stroke="#f0506e" stroke-width="0.9"/>
<line x1="236.6" y1="67.4" x2="227.4" y2="72.4" stroke="#f0506e" stroke-width="0.9"/>
<text x="236.6" y="57.6" font-size="12" font-family='"Liberation Serif", serif' font-weight="normal" fill="#f0506e" text-anchor="middle">O</text>
<text x="219.2" y="78.4" font-size="12" font-family='"Liberation Serif", serif' font-weight="normal" fill="#f0506e" text-anchor="middle">Cl</text>
<path d="M327.2 97.3 L334 86 L347.7 86 L354.2 97.3 L347.7 108.3 L334 108.3Z" fill="#f5dd7c" stroke="#4d4526" stroke-width="1.2" stroke-linejoin="round"/>
<line x1="330.26" y1="96.87" x2="335.16" y2="88.73" stroke="#4d4526" stroke-width="1.08"/>
<line x1="346.5" y1="88.73" x2="351.18" y2="96.87" stroke="#4d4526" stroke-width="1.08"/>
<line x1="345.77" y1="105.9" x2="335.91" y2="105.9" stroke="#4d4526" stroke-width="1.08"/>
<line x1="334" y1="86" x2="330.6" y2="79.6" stroke="#333" stroke-width="1"/>
<line x1="347.7" y1="86" x2="351" y2="79.6" stroke="#333" stroke-width="1"/>
<line x1="327.2" y1="97.3" x2="319.2" y2="97.3" stroke="#333" stroke-width="1"/>
<line x1="334" y1="108.3" x2="330.6" y2="114.8" stroke="#333" stroke-width="1"/>
<line x1="347.7" y1="108.3" x2="351" y2="114.8" stroke="#333" stroke-width="1"/>
<text x="327.9" y="78.1" font-size="10.8" font-family='"Liberation Serif", serif' text-anchor="middle" font-style="italic">F</text>
<text x="353.9" y="78.1" font-size="10.8" font-family='"Liberation Serif", serif' text-anchor="middle" font-style="italic">F</text>
<text x="313.9" y="101.2" font-size="10.8" font-family='"Liberation Serif", serif' text-anchor="middle" font-style="italic">F</text>
<text x="327.9" y="123.6" font-size="10.8" font-family='"Liberation Serif", serif' text-anchor="middle" font-style="italic">F</text>
<text x="353.9" y="123.6" font-size="10.8" font-family='"Liberation Serif", serif' text-anchor="middle" font-style="italic">F</text>
<line x1="354.2" y1="97.3" x2="362.6" y2="97.3" stroke="#333" stroke-width="1"/>
<text x="366.4" y="101.6" font-size="11.5" font-family='"Liberation Serif", serif' font-weight="normal" fill="#f0506e" text-anchor="middle">C</text>
<line x1="366.3" y1="93.2" x2="367.3" y2="88.6" stroke="#f0506e" stroke-width="0.9"/>
<line x1="368" y1="93.5" x2="369" y2="88.9" stroke="#f0506e" stroke-width="0.9"/>
<text x="368.8" y="88.2" font-size="10.5" font-family='"Liberation Serif", serif' font-weight="normal" fill="#f0506e" text-anchor="middle">O</text>
<line x1="370.8" y1="98" x2="381.2" y2="99" stroke="#f0506e" stroke-width="0.9"/>
<text x="386.4" y="103" font-size="11.5" font-family='"Liberation Serif", serif' fill="#f0506e" text-anchor="middle" font-style="italic">N</text>
<text x="384.6" y="116.4" font-size="10.5" font-family='"Liberation Serif", serif' fill="#f0506e" text-anchor="middle" font-style="italic">H</text>
<path d="M391.2 99 L399.6 98.3 L407.8 109.1 L420.9 108.2" fill="none" stroke="#333" stroke-width="1" stroke-linejoin="round" stroke-linecap="round"/>
<path d="M420.9 108.2 L427.3 97.3 L440.5 96 L448.2 106.4 L442.7 117.8 L429.1 119.1Z" fill="#8fdcae" stroke="#35503f" stroke-width="1.2" stroke-linejoin="round"/>
<line x1="429.34" y1="99.51" x2="438.85" y2="98.57" stroke="#35503f" stroke-width="1.08"/>
<line x1="445.23" y1="107.04" x2="441.27" y2="115.25" stroke="#35503f" stroke-width="1.08"/>
<line x1="429.98" y1="116.29" x2="424.08" y2="108.44" stroke="#35503f" stroke-width="1.08"/>
<line x1="448.2" y1="106.4" x2="456.2" y2="105.8" stroke="#333" stroke-width="1"/>
<line x1="442.7" y1="117.8" x2="447.2" y2="126" stroke="#333" stroke-width="1"/>
<text x="465" y="110" font-size="10.4" font-family='"Liberation Serif", serif' text-anchor="middle" font-style="italic">OH</text>
<text x="454" y="133.6" font-size="10.4" font-family='"Liberation Serif", serif' text-anchor="middle" font-style="italic">OH</text>
<line x1="470.9" y1="112.7" x2="474.5" y2="120.9" stroke="#666" stroke-width="1.5"/>
<line x1="462.7" y1="130.5" x2="471.8" y2="127.6" stroke="#666" stroke-width="1.5"/>
<rect x="30.9" y="170.6" width="223.6" height="179.9" fill="#fff"/>
<g clip-path="url(#clipB)">
<path d="M31 255.3 L31.4 255.3 L31.8 255.3 L32.2 255.2 L32.6 255.2 L33 255.2 L33.4 255.2 L33.8 255.2 L34.2 255.2 L34.6 255.2 L35 255.1 L35.4 255.1 L35.8 255.1 L36.2 255.1 L36.6 255.1 L37 255.1 L37.4 255.1 L37.8 255.1 L38.2 255.1 L38.6 255.1 L39 255.1 L39.4 255.1 L39.8 255.1 L40.2 255.1 L40.6 255.1 L41 255.1 L41.4 255.1 L41.8 255.1 L42.2 255.1 L42.6 255.1 L43 255.2 L43.4 255.2 L43.8 255.2 L44.2 255.2 L44.6 255.2 L45 255.3 L45.4 255.3 L45.8 255.3 L46.2 255.4 L46.6 255.4 L47 255.5 L47.4 255.6 L47.8 255.9 L48.2 256.2 L48.6 256.6 L49 257 L49.4 257.4 L49.8 257.8 L50.2 258.2 L50.6 258.6 L51 259 L51.4 259.5 L51.8 260 L52.2 260.5 L52.6 261 L53 261.6 L53.4 262.1 L53.8 262.7 L54.2 263.3 L54.6 263.9 L55 264.6 L55.4 265.3 L55.8 265.9 L56.2 266.6 L56.6 267.2 L57 267.8 L57.4 268.4 L57.8 269 L58.2 269.6 L58.6 270.2 L59 270.8 L59.4 271.4 L59.8 272 L60.2 272.5 L60.6 273 L61 273.4 L61.4 273.9 L61.8 274.4 L62.2 274.8 L62.6 275.2 L63 275.5 L63.4 275.8 L63.8 275.9 L64.2 276.1 L64.6 276.3 L65 276.4 L65.4 276.5 L65.8 276.5 L66.2 276.5 L66.6 276.4 L67 276.2 L67.4 276 L67.8 275.8 L68.2 275.6 L68.6 275.3 L69 275 L69.4 274.6 L69.8 274.2 L70.2 273.8 L70.6 273.4 L71 273 L71.4 272.6 L71.8 272.1 L72.2 271.6 L72.6 271.1 L73 270.6 L73.4 270.1 L73.8 269.6 L74.2 269.2 L74.6 268.7 L75 268.2 L75.4 267.7 L75.8 267.3 L76.2 266.8 L76.6 266.3 L77 265.9 L77.4 265.4 L77.8 265 L78.2 264.5 L78.6 264.1 L79 263.7 L79.4 263.3 L79.8 262.8 L80.2 262.4 L80.6 262.1 L81 261.7 L81.4 261.3 L81.8 261 L82.2 260.6 L82.6 260.3 L83 260 L83.4 259.7 L83.8 259.4 L84.2 259.1 L84.6 258.9 L85 258.6 L85.4 258.4 L85.8 258.1 L86.2 257.9 L86.6 257.7 L87 257.5 L87.4 257.2 L87.8 257 L88.2 256.8 L88.6 256.6 L89 256.5 L89.4 256.3 L89.8 256.2 L90.2 256 L90.6 255.9 L91 255.8 L91.4 255.7 L91.8 255.6 L92.2 255.5 L92.6 255.4 L93 255.4 L93.4 255.3 L93.8 255.3 L94.2 255.3 L94.6 255.3 L95 255.2 L95.4 255.2 L95.8 255.2 L96.2 255.2 L96.6 255.2 L97 255.2 L97.4 255.1 L97.8 255.1 L98.2 255.1 L98.6 255.1 L99 255.1 L99.4 255.1 L99.8 255.1 L100.2 255.1 L100.6 255.1 L101 255.1 L101.4 255.1 L101.8 255.1 L102.2 255.1 L102.6 255.1 L103 255.1 L103.4 255.1 L103.8 255.1 L104.2 255.1 L104.6 255.1 L105 255.1 L105.4 255.1 L105.8 255.1 L106.2 255.1 L106.6 255.1 L107 255.1 L107.4 255.1 L107.8 255.1 L108.2 255.1 L108.6 255.1 L109 255.1 L109.4 255.1 L109.8 255.1 L110.2 255.1 L110.6 255.1 L111 255.1 L111.4 255.1 L111.8 255.1 L112.2 255.1 L112.6 255.1 L113 255.2 L113.4 255.2 L113.8 255.2 L114.2 255.2 L114.6 255.2 L115 255.2 L115.4 255.2 L115.8 255.2 L116.2 255.2 L116.6 255.2 L117 255.2 L117.4 255.2 L117.8 255.2 L118.2 255.2 L118.6 255.2 L119 255.2 L119.4 255.2 L119.8 255.2 L120.2 255.2 L120.6 255.2 L121 255.2 L121.4 255.2 L121.8 255.2 L122.2 255.2 L122.6 255.2 L123 255.2 L123.4 255.2 L123.8 255.2 L124.2 255.2 L124.6 255.2 L125 255.2 L125.4 255.3 L125.8 255.3 L126.2 255.3 L126.6 255.3 L127 255.3 L127.4 255.3 L127.8 255.3 L128.2 255.3 L128.6 255.3 L129 255.3 L129.4 255.3 L129.8 255.3 L130.2 255.3 L130.6 255.3 L131 255.3 L131.4 255.3 L131.8 255.3 L132.2 255.3 L132.6 255.3 L133 255.4 L133.4 255.4 L133.8 255.4 L134.2 255.4 L134.6 255.4 L135 255.4 L135.4 255.4 L135.8 255.4 L136.2 255.4 L136.6 255.4 L137 255.4 L137.4 255.4 L137.8 255.4 L138.2 255.4 L138.6 255.4 L139 255.4 L139.4 255.4 L139.8 255.4 L140.2 255.4 L140.6 255.4 L141 255.4 L141.4 255.4 L141.8 255.4 L142.2 255.4 L142.6 255.4 L143 255.4 L143.4 255.4 L143.8 255.4 L144.2 255.4 L144.6 255.4 L145 255.4 L145.4 255.4 L145.8 255.4 L146.2 255.4 L146.6 255.4 L147 255.4 L147.4 255.4 L147.8 255.4 L148.2 255.4 L148.6 255.4 L149 255.4 L149.4 255.4 L149.8 255.4 L150.2 255.4 L150.6 255.4 L151 255.4 L151.4 255.4 L151.8 255.4 L152.2 255.3 L152.6 255.3 L153 255.3 L153.4 255.3 L153.8 255.3 L154.2 255.3 L154.6 255.3 L155 255.3 L155.4 255.3 L155.8 255.3 L156.2 255.3 L156.6 255.3 L157 255.3 L157.4 255.3 L157.8 255.3 L158.2 255.3 L158.6 255.3 L159 255.3 L159.4 255.3 L159.8 255.3 L160.2 255.3 L160.6 255.3 L161 255.3 L161.4 255.3 L161.8 255.3 L162.2 255.3 L162.6 255.3 L163 255.3 L163.4 255.3 L163.8 255.3 L164.2 255.3 L164.6 255.3 L165 255.3 L165.4 255.3 L165.8 255.3 L166.2 255.3 L166.6 255.3 L167 255.2 L167.4 255.2 L167.8 255.2 L168.2 255.2 L168.6 255.2 L169 255.2 L169.4 255.2 L169.8 255.2 L170.2 255.2 L170.6 255.2 L171 255.2 L171.4 255.2 L171.8 255.2 L172.2 255.2 L172.6 255.2 L173 255.2 L173.4 255.2 L173.8 255.2 L174.2 255.2 L174.6 255.2 L175 255.2 L175.4 255.2 L175.8 255.2 L176.2 255.2 L176.6 255.2 L177 255.4 L177.4 255.7 L177.8 256 L178.2 256 L178.6 255.7 L179 255.4 L179.4 255.2 L179.8 255.2 L180.2 255.2 L180.6 255.2 L181 255.2 L181.4 255.2 L181.8 255.2 L182.2 255.2 L182.6 255.2 L183 255.2 L183.4 255.2 L183.8 255.2 L184.2 255.3 L184.6 255.3 L185 255.3 L185.4 255.3 L185.8 255.3 L186.2 255.3 L186.6 255.3 L187 255.3 L187.4 255.3 L187.8 255.4 L188.2 255.4 L188.6 255.4 L189 255.4 L189.4 255.4 L189.8 255.5 L190.2 255.5 L190.6 255.5 L191 255.6 L191.4 255.6 L191.8 255.7 L192.2 255.7 L192.6 255.8 L193 255.9 L193.4 256.1 L193.8 256.2 L194.2 256.4 L194.6 256.5 L195 256.7 L195.4 256.9 L195.8 257.2 L196.2 257.4 L196.6 257.8 L197 258.3 L197.4 258.9 L197.8 259.7 L198.2 260.6 L198.6 262.3 L199 264.9 L199.4 268.3 L199.8 273.6 L200.2 279.4 L200.6 283.8 L201 287.6 L201.4 291.2 L201.8 294.7 L202.2 298.2 L202.6 301.6 L203 304.9 L203.4 307.8 L203.8 310.6 L204.2 313.3 L204.6 315.9 L205 318.3 L205.4 320.5 L205.8 322.6 L206.2 324.5 L206.6 326.3 L207 328 L207.4 329.5 L207.8 331 L208.2 332.4 L208.6 333.7 L209 335.1 L209.4 336.5 L209.8 337.7 L210.2 338.3 L210.6 338.1 L211 337.5 L211.4 336.5 L211.8 335.2 L212.2 333.7 L212.6 331.6 L213 328.5 L213.4 324.9 L213.8 321.2 L214.2 316.9 L214.6 312.2 L215 307.1 L215.4 301.4 L215.8 295.3 L216.2 289.3 L216.6 283.4 L217 277.8 L217.4 272.2 L217.8 268 L218.2 265.8 L218.6 264.2 L219 262.9 L219.4 261.8 L219.8 260.8 L220.2 259.9 L220.6 259 L221 258.2 L221.4 257.5 L221.8 256.8 L222.2 256.3 L222.6 255.7 L223 255.2 L223.4 254.7 L223.8 254.3 L224.2 254.1 L224.6 254 L225 254.7 L225.4 256 L225.8 257.7 L226.2 259.4 L226.6 261 L227 262.8 L227.4 265 L227.8 267 L228.2 268.8 L228.6 269.8 L229 269.7 L229.4 268.3 L229.8 266.1 L230.2 263.6 L230.6 261.5 L231 259.1 L231.4 256.8 L231.8 255.3 L232.2 254.6 L232.6 254.1 L233 253.8 L233.4 253.5 L233.8 253.2 L234.2 252.9 L234.6 252.7 L235 252.5 L235.4 252.3 L235.8 252.3 L236.2 252.4 L236.6 252.6 L237 252.8 L237.4 253.2 L237.8 253.5 L238.2 253.9 L238.6 254.2 L239 254.4 L239.4 254.6 L239.8 254.8 L240.2 254.9 L240.6 255.1 L241 255.2 L241.4 255.3 L241.8 255.4 L242.2 255.6 L242.6 255.8 L243 255.9 L243.4 256.2 L243.8 256.4 L244.2 256.7 L244.6 257 L245 257.3 L245.4 257.8 L245.8 258.3 L246.2 258.9 L246.6 259.8 L247 261.4 L247.4 263.9 L247.8 267.3 L248.2 275.4 L248.6 285.5 L249 291.4 L249.4 296.3 L249.8 299.4 L250.2 299.3 L250.6 296.1 L251 291.2 L251.4 285.8 L251.8 278.5 L252.2 270.6 L252.6 264.4 L253 258.8 L253.4 254.7 L253.8 252.3 L254.2 250.5" fill="none" stroke="#484848" stroke-width="1.5" stroke-linejoin="round" stroke-linecap="round"/>
<path d="M31 232.4 L31.4 232.4 L31.8 232.4 L32.2 232.4 L32.6 232.4 L33 232.3 L33.4 232.3 L33.8 232.3 L34.2 232.3 L34.6 232.3 L35 232.3 L35.4 232.3 L35.8 232.3 L36.2 232.3 L36.6 232.3 L37 232.3 L37.4 232.3 L37.8 232.3 L38.2 232.3 L38.6 232.3 L39 232.3 L39.4 232.3 L39.8 232.3 L40.2 232.3 L40.6 232.3 L41 232.3 L41.4 232.3 L41.8 232.3 L42.2 232.3 L42.6 232.3 L43 232.4 L43.4 232.4 L43.8 232.4 L44.2 232.4 L44.6 232.4 L45 232.5 L45.4 232.5 L45.8 232.6 L46.2 232.9 L46.6 233.2 L47 233.6 L47.4 234.1 L47.8 234.6 L48.2 235 L48.6 235.6 L49 236.2 L49.4 236.9 L49.8 237.5 L50.2 238.3 L50.6 239 L51 239.7 L51.4 240.5 L51.8 241.3 L52.2 242.2 L52.6 243 L53 243.9 L53.4 244.8 L53.8 245.6 L54.2 246.4 L54.6 247.2 L55 248 L55.4 248.8 L55.8 249.7 L56.2 250.5 L56.6 251.3 L57 252 L57.4 252.8 L57.8 253.6 L58.2 254.3 L58.6 255 L59 255.7 L59.4 256.5 L59.8 257.2 L60.2 257.8 L60.6 258.5 L61 259.1 L61.4 259.7 L61.8 260.2 L62.2 260.7 L62.6 261.3 L63 261.7 L63.4 262.1 L63.8 262.4 L64.2 262.6 L64.6 262.8 L65 263 L65.4 263 L65.8 262.9 L66.2 262.7 L66.6 262.5 L67 262.2 L67.4 262 L67.8 261.7 L68.2 261.3 L68.6 260.9 L69 260.4 L69.4 259.9 L69.8 259.4 L70.2 258.8 L70.6 258.3 L71 257.8 L71.4 257.3 L71.8 256.7 L72.2 256.2 L72.6 255.6 L73 255.1 L73.4 254.5 L73.8 254 L74.2 253.4 L74.6 252.9 L75 252.3 L75.4 251.8 L75.8 251.2 L76.2 250.6 L76.6 250.1 L77 249.6 L77.4 249 L77.8 248.5 L78.2 248 L78.6 247.6 L79 247.2 L79.4 246.7 L79.8 246.3 L80.2 246 L80.6 245.6 L81 245.2 L81.4 244.8 L81.8 244.5 L82.2 244.1 L82.6 243.8 L83 243.4 L83.4 243.1 L83.8 242.7 L84.2 242.4 L84.6 242.1 L85 241.7 L85.4 241.4 L85.8 241 L86.2 240.7 L86.6 240.4 L87 240.1 L87.4 239.8 L87.8 239.5 L88.2 239.2 L88.6 238.9 L89 238.6 L89.4 238.3 L89.8 238 L90.2 237.8 L90.6 237.5 L91 237.2 L91.4 237 L91.8 236.7 L92.2 236.5 L92.6 236.2 L93 236 L93.4 235.8 L93.8 235.6 L94.2 235.3 L94.6 235.1 L95 234.9 L95.4 234.7 L95.8 234.5 L96.2 234.3 L96.6 234 L97 233.8 L97.4 233.6 L97.8 233.3 L98.2 233.1 L98.6 232.9 L99 232.7 L99.4 232.5 L99.8 232.3 L100.2 232.2 L100.6 232 L101 231.9 L101.4 231.8 L101.8 231.7 L102.2 231.6 L102.6 231.6 L103 231.5 L103.4 231.4 L103.8 231.4 L104.2 231.4 L104.6 231.3 L105 231.3 L105.4 231.3 L105.8 231.3 L106.2 231.3 L106.6 231.2 L107 231.2 L107.4 231.2 L107.8 231.2 L108.2 231.2 L108.6 231.2 L109 231.2 L109.4 231.2 L109.8 231.2 L110.2 231.2 L110.6 231.2 L111 231.2 L111.4 231.2 L111.8 231.2 L112.2 231.3 L112.6 231.3 L113 231.3 L113.4 231.3 L113.8 231.3 L114.2 231.3 L114.6 231.4 L115 231.4 L115.4 231.4 L115.8 231.4 L116.2 231.4 L116.6 231.5 L117 231.5 L117.4 231.5 L117.8 231.5 L118.2 231.5 L118.6 231.5 L119 231.6 L119.4 231.6 L119.8 231.6 L120.2 231.6 L120.6 231.6 L121 231.6 L121.4 231.7 L121.8 231.7 L122.2 231.7 L122.6 231.7 L123 231.7 L123.4 231.7 L123.8 231.8 L124.2 231.8 L124.6 231.8 L125 231.8 L125.4 231.8 L125.8 231.8 L126.2 231.9 L126.6 231.9 L127 231.9 L127.4 231.9 L127.8 231.9 L128.2 231.9 L128.6 232 L129 232 L129.4 232 L129.8 232 L130.2 232 L130.6 232 L131 232.1 L131.4 232.1 L131.8 232.1 L132.2 232.1 L132.6 232.1 L133 232.1 L133.4 232.1 L133.8 232.2 L134.2 232.2 L134.6 232.2 L135 232.2 L135.4 232.2 L135.8 232.2 L136.2 232.2 L136.6 232.2 L137 232.3 L137.4 232.3 L137.8 232.3 L138.2 232.3 L138.6 232.3 L139 232.3 L139.4 232.3 L139.8 232.3 L140.2 232.3 L140.6 232.3 L141 232.3 L141.4 232.3 L141.8 232.3 L142.2 232.3 L142.6 232.3 L143 232.3 L143.4 232.3 L143.8 232.3 L144.2 232.3 L144.6 232.3 L145 232.3 L145.4 232.3 L145.8 232.3 L146.2 232.3 L146.6 232.3 L147 232.3 L147.4 232.3 L147.8 232.3 L148.2 232.3 L148.6 232.3 L149 232.4 L149.4 232.4 L149.8 232.4 L150.2 232.4 L150.6 232.4 L151 232.4 L151.4 232.4 L151.8 232.4 L152.2 232.4 L152.6 232.4 L153 232.4 L153.4 232.4 L153.8 232.4 L154.2 232.4 L154.6 232.4 L155 232.4 L155.4 232.4 L155.8 232.4 L156.2 232.4 L156.6 232.4 L157 232.4 L157.4 232.4 L157.8 232.4 L158.2 232.4 L158.6 232.4 L159 232.4 L159.4 232.4 L159.8 232.4 L160.2 232.4 L160.6 232.4 L161 232.4 L161.4 232.4 L161.8 232.4 L162.2 232.4 L162.6 232.4 L163 232.4 L163.4 232.4 L163.8 232.4 L164.2 232.4 L164.6 232.4 L165 232.4 L165.4 232.4 L165.8 232.4 L166.2 232.4 L166.6 232.4 L167 232.4 L167.4 232.5 L167.8 232.5 L168.2 232.5 L168.6 232.5 L169 232.5 L169.4 232.5 L169.8 232.5 L170.2 232.5 L170.6 232.5 L171 232.6 L171.4 232.6 L171.8 232.7 L172.2 232.8 L172.6 232.9 L173 233 L173.4 233.2 L173.8 233.5 L174.2 233.9 L174.6 234.4 L175 235.1 L175.4 236.1 L175.8 237.3 L176.2 238.6 L176.6 239.8 L177 241.1 L177.4 242.3 L177.8 243 L178.2 242.7 L178.6 241.7 L179 240.5 L179.4 239.3 L179.8 238.2 L180.2 237 L180.6 236.1 L181 235.5 L181.4 235.1 L181.8 234.7 L182.2 234.4 L182.6 234.1 L183 233.9 L183.4 233.7 L183.8 233.5 L184.2 233.4 L184.6 233.2 L185 233.1 L185.4 232.9 L185.8 232.8 L186.2 232.7 L186.6 232.6 L187 232.4 L187.4 232.3 L187.8 232.2 L188.2 232.2 L188.6 232.1 L189 231.9 L189.4 231.9 L189.8 231.8 L190.2 231.7 L190.6 231.7 L191 231.7 L191.4 231.8 L191.8 232 L192.2 232.2 L192.6 232.5 L193 232.8 L193.4 233.2 L193.8 233.5 L194.2 233.9 L194.6 234.4 L195 235 L195.4 235.7 L195.8 236.5 L196.2 237.4 L196.6 238.4 L197 239.5 L197.4 240.9 L197.8 242.6 L198.2 244.4 L198.6 246.4 L199 248.5 L199.4 251.2 L199.8 255.5 L200.2 265.3 L200.6 271.9 L201 277.1 L201.4 281.8 L201.8 286.2 L202.2 290.2 L202.6 293.8 L203 297 L203.4 300 L203.8 302.8 L204.2 305.1 L204.6 307.1 L205 308.7 L205.4 310.2 L205.8 311.6 L206.2 312.8 L206.6 313.8 L207 314.7 L207.4 315.5 L207.8 316.3 L208.2 317 L208.6 317.7 L209 318.3 L209.4 318.8 L209.8 319.1 L210.2 319.3 L210.6 319.2 L211 318.8 L211.4 318.2 L211.8 317.3 L212.2 316.2 L212.6 315.1 L213 313.4 L213.4 311 L213.8 307.9 L214.2 304.5 L214.6 300.2 L215 294.9 L215.4 288.8 L215.8 281.8 L216.2 273.4 L216.6 265.3 L217 257.1 L217.4 251.8 L217.8 248.3 L218.2 246 L218.6 244 L219 242.3 L219.4 240.8 L219.8 239.4 L220.2 238.1 L220.6 236.8 L221 235.5 L221.4 234.2 L221.8 233.1 L222.2 232 L222.6 231 L223 230.2 L223.4 229.5 L223.8 228.8 L224.2 228.2 L224.6 227.8 L225 228 L225.4 229.6 L225.8 231.7 L226.2 234.4 L226.6 238 L227 241.8 L227.4 245 L227.8 248 L228.2 250.8 L228.6 252.7 L229 252.7 L229.4 250.5 L229.8 247.3 L230.2 244.2 L230.6 240.6 L231 236.8 L231.4 234.4 L231.8 233.2 L232.2 232.2 L232.6 231.3 L233 230.7 L233.4 230.2 L233.8 229.8 L234.2 229.5 L234.6 229.2 L235 229 L235.4 228.9 L235.8 228.8 L236.2 228.8 L236.6 228.9 L237 229.1 L237.4 229.3 L237.8 229.6 L238.2 229.9 L238.6 230.2 L239 230.5 L239.4 230.8 L239.8 231.1 L240.2 231.4 L240.6 231.7 L241 232.1 L241.4 232.5 L241.8 232.9 L242.2 233.3 L242.6 233.8 L243 234.3 L243.4 234.8 L243.8 235.4 L244.2 236.1 L244.6 236.8 L245 237.6 L245.4 238.6 L245.8 239.7 L246.2 241.1 L246.6 242.9 L247 245.1 L247.4 247.7 L247.8 250.9 L248.2 255.3 L248.6 262.1 L249 273.3 L249.4 282 L249.8 288.7 L250.2 288.7 L250.6 281.9 L251 273.9 L251.4 263.9 L251.8 255 L252.2 248.2 L252.6 242.3 L253 238 L253.4 234.8 L253.8 232.2 L254.2 230.4" fill="none" stroke="#17a4bc" stroke-width="1.6" stroke-linejoin="round" stroke-linecap="round"/>
<path d="M31 208.8 L31.4 208.8 L31.8 208.8 L32.2 208.8 L32.6 208.8 L33 208.7 L33.4 208.7 L33.8 208.7 L34.2 208.7 L34.6 208.7 L35 208.7 L35.4 208.7 L35.8 208.7 L36.2 208.7 L36.6 208.7 L37 208.7 L37.4 208.7 L37.8 208.7 L38.2 208.7 L38.6 208.7 L39 208.7 L39.4 208.7 L39.8 208.7 L40.2 208.7 L40.6 208.7 L41 208.7 L41.4 208.7 L41.8 208.7 L42.2 208.7 L42.6 208.7 L43 208.7 L43.4 208.7 L43.8 208.8 L44.2 208.8 L44.6 208.8 L45 208.8 L45.4 208.8 L45.8 208.8 L46.2 208.9 L46.6 208.9 L47 209 L47.4 209.2 L47.8 209.6 L48.2 210 L48.6 210.5 L49 211.1 L49.4 211.7 L49.8 212.2 L50.2 212.8 L50.6 213.3 L51 213.9 L51.4 214.5 L51.8 215.1 L52.2 215.8 L52.6 216.4 L53 217 L53.4 217.7 L53.8 218.3 L54.2 218.9 L54.6 219.5 L55 220.2 L55.4 220.8 L55.8 221.4 L56.2 222.1 L56.6 222.7 L57 223.3 L57.4 223.9 L57.8 224.5 L58.2 225.2 L58.6 225.8 L59 226.4 L59.4 227 L59.8 227.6 L60.2 228.1 L60.6 228.7 L61 229.2 L61.4 229.7 L61.8 230.2 L62.2 230.7 L62.6 231.2 L63 231.6 L63.4 231.9 L63.8 232.2 L64.2 232.5 L64.6 232.8 L65 233 L65.4 233.1 L65.8 233.2 L66.2 233.1 L66.6 232.9 L67 232.6 L67.4 232.3 L67.8 232 L68.2 231.6 L68.6 231.3 L69 230.8 L69.4 230.4 L69.8 229.9 L70.2 229.4 L70.6 228.9 L71 228.5 L71.4 228 L71.8 227.6 L72.2 227.1 L72.6 226.7 L73 226.2 L73.4 225.8 L73.8 225.3 L74.2 224.9 L74.6 224.5 L75 224.1 L75.4 223.7 L75.8 223.4 L76.2 223 L76.6 222.6 L77 222.3 L77.4 222 L77.8 221.6 L78.2 221.3 L78.6 220.9 L79 220.6 L79.4 220.2 L79.8 219.9 L80.2 219.5 L80.6 219.2 L81 218.8 L81.4 218.5 L81.8 218.2 L82.2 217.8 L82.6 217.5 L83 217.2 L83.4 216.9 L83.8 216.6 L84.2 216.3 L84.6 216 L85 215.7 L85.4 215.4 L85.8 215.1 L86.2 214.9 L86.6 214.6 L87 214.3 L87.4 214.1 L87.8 213.8 L88.2 213.6 L88.6 213.4 L89 213.1 L89.4 212.9 L89.8 212.7 L90.2 212.5 L90.6 212.3 L91 212.1 L91.4 211.9 L91.8 211.7 L92.2 211.5 L92.6 211.3 L93 211.2 L93.4 211 L93.8 210.9 L94.2 210.8 L94.6 210.6 L95 210.5 L95.4 210.4 L95.8 210.3 L96.2 210.1 L96.6 210 L97 209.9 L97.4 209.8 L97.8 209.7 L98.2 209.6 L98.6 209.6 L99 209.5 L99.4 209.4 L99.8 209.3 L100.2 209.3 L100.6 209.2 L101 209.1 L101.4 209.1 L101.8 209 L102.2 209 L102.6 208.9 L103 208.9 L103.4 208.9 L103.8 208.8 L104.2 208.8 L104.6 208.8 L105 208.7 L105.4 208.7 L105.8 208.7 L106.2 208.7 L106.6 208.7 L107 208.7 L107.4 208.7 L107.8 208.7 L108.2 208.7 L108.6 208.7 L109 208.7 L109.4 208.7 L109.8 208.7 L110.2 208.7 L110.6 208.7 L111 208.7 L111.4 208.7 L111.8 208.7 L112.2 208.7 L112.6 208.7 L113 208.7 L113.4 208.8 L113.8 208.8 L114.2 208.8 L114.6 208.8 L115 208.8 L115.4 208.8 L115.8 208.8 L116.2 208.8 L116.6 208.8 L117 208.8 L117.4 208.8 L117.8 208.8 L118.2 208.8 L118.6 208.8 L119 208.8 L119.4 208.8 L119.8 208.8 L120.2 208.8 L120.6 208.8 L121 208.8 L121.4 208.8 L121.8 208.8 L122.2 208.8 L122.6 208.8 L123 208.8 L123.4 208.8 L123.8 208.8 L124.2 208.8 L124.6 208.8 L125 208.8 L125.4 208.8 L125.8 208.8 L126.2 208.8 L126.6 208.8 L127 208.8 L127.4 208.8 L127.8 208.8 L128.2 208.8 L128.6 208.8 L129 208.8 L129.4 208.8 L129.8 208.8 L130.2 208.8 L130.6 208.8 L131 208.8 L131.4 208.8 L131.8 208.8 L132.2 208.8 L132.6 208.8 L133 208.8 L133.4 208.8 L133.8 208.8 L134.2 208.8 L134.6 208.8 L135 208.8 L135.4 208.8 L135.8 208.8 L136.2 208.8 L136.6 208.8 L137 208.8 L137.4 208.8 L137.8 208.8 L138.2 208.8 L138.6 208.8 L139 208.8 L139.4 208.8 L139.8 208.8 L140.2 208.8 L140.6 208.8 L141 208.8 L141.4 208.8 L141.8 208.8 L142.2 208.8 L142.6 208.8 L143 208.8 L143.4 208.8 L143.8 208.8 L144.2 208.8 L144.6 208.8 L145 208.8 L145.4 208.8 L145.8 208.8 L146.2 208.8 L146.6 208.8 L147 208.8 L147.4 208.8 L147.8 208.8 L148.2 208.8 L148.6 208.8 L149 208.8 L149.4 208.8 L149.8 208.8 L150.2 208.9 L150.6 208.9 L151 208.9 L151.4 208.9 L151.8 208.9 L152.2 208.9 L152.6 208.9 L153 208.9 L153.4 208.9 L153.8 208.9 L154.2 208.9 L154.6 208.9 L155 208.9 L155.4 208.9 L155.8 208.9 L156.2 208.9 L156.6 208.9 L157 208.9 L157.4 208.9 L157.8 208.9 L158.2 208.9 L158.6 208.9 L159 208.9 L159.4 208.9 L159.8 208.9 L160.2 208.9 L160.6 208.9 L161 208.9 L161.4 208.9 L161.8 208.9 L162.2 208.9 L162.6 208.9 L163 208.9 L163.4 208.9 L163.8 208.9 L164.2 208.9 L164.6 208.9 L165 208.9 L165.4 208.9 L165.8 208.9 L166.2 208.9 L166.6 208.9 L167 208.9 L167.4 208.9 L167.8 208.9 L168.2 208.9 L168.6 208.9 L169 208.9 L169.4 208.9 L169.8 208.9 L170.2 209 L170.6 209.4 L171 210 L171.4 210.8 L171.8 212.3 L172.2 213.9 L172.6 214.6 L173 213.8 L173.4 212 L173.8 210.4 L174.2 209.9 L174.6 210 L175 210.1 L175.4 210.3 L175.8 210.8 L176.2 211.8 L176.6 213 L177 214.1 L177.4 215.1 L177.8 215.6 L178.2 215.3 L178.6 214.4 L179 213.1 L179.4 211.8 L179.8 211 L180.2 210.6 L180.6 210.3 L181 210 L181.4 209.8 L181.8 209.6 L182.2 209.5 L182.6 209.4 L183 209.2 L183.4 209.1 L183.8 209 L184.2 209 L184.6 208.9 L185 208.8 L185.4 208.7 L185.8 208.6 L186.2 208.6 L186.6 208.5 L187 208.5 L187.4 208.5 L187.8 208.5 L188.2 208.6 L188.6 208.7 L189 208.7 L189.4 208.8 L189.8 208.9 L190.2 209 L190.6 209.1 L191 209.2 L191.4 209.2 L191.8 209.2 L192.2 209.2 L192.6 209.2 L193 209.3 L193.4 209.3 L193.8 209.3 L194.2 209.3 L194.6 209.5 L195 209.8 L195.4 210.3 L195.8 210.8 L196.2 211.4 L196.6 212 L197 212.7 L197.4 213.4 L197.8 214.1 L198.2 214.9 L198.6 215.9 L199 217.3 L199.4 219.1 L199.8 222.9 L200.2 228.4 L200.6 234.4 L201 241.7 L201.4 249.7 L201.8 255 L202.2 258.2 L202.6 260.8 L203 263 L203.4 265.1 L203.8 267.3 L204.2 269.2 L204.6 271.1 L205 272.9 L205.4 274.6 L205.8 276.2 L206.2 277.8 L206.6 279.3 L207 280.7 L207.4 282.1 L207.8 283.5 L208.2 284.7 L208.6 285.9 L209 287.2 L209.4 288.5 L209.8 289.5 L210.2 290.1 L210.6 289.9 L211 289.2 L211.4 288 L211.8 286.5 L212.2 284.9 L212.6 283.1 L213 280.6 L213.4 277.7 L213.8 274.6 L214.2 271.6 L214.6 268.3 L215 264.8 L215.4 261.4 L215.8 258.3 L216.2 255 L216.6 250.1 L217 243.4 L217.4 236.9 L217.8 232.3 L218.2 228.4 L218.6 225.1 L219 222.3 L219.4 220 L219.8 218 L220.2 216.1 L220.6 214.4 L221 213 L221.4 211.7 L221.8 210.7 L222.2 209.9 L222.6 209.1 L223 208.3 L223.4 207.7 L223.8 207.2 L224.2 206.9 L224.6 206.8 L225 207.6 L225.4 208.9 L225.8 210.5 L226.2 212.7 L226.6 215.7 L227 218.7 L227.4 221.1 L227.8 222.9 L228.2 224.6 L228.6 225.6 L229 225.5 L229.4 223.3 L229.8 220.4 L230.2 218 L230.6 215.7 L231 213.5 L231.4 211.6 L231.8 210.5 L232.2 209.9 L232.6 209.4 L233 208.9 L233.4 208.6 L233.8 208.3 L234.2 208.1 L234.6 208.1 L235 208.1 L235.4 208.2 L235.8 208.3 L236.2 208.4 L236.6 208.6 L237 208.7 L237.4 208.9 L237.8 209.1 L238.2 209.3 L238.6 209.5 L239 209.7 L239.4 210 L239.8 210.2 L240.2 210.5 L240.6 210.8 L241 211.1 L241.4 211.5 L241.8 211.8 L242.2 212.2 L242.6 212.7 L243 213.1 L243.4 213.5 L243.8 214 L244.2 214.4 L244.6 214.9 L245 215.5 L245.4 216.2 L245.8 217 L246.2 217.9 L246.6 219.3 L247 221.8 L247.4 225.5 L247.8 229.8 L248.2 234.4 L248.6 240.4 L249 247.5 L249.4 253.3 L249.8 258.4 L250.2 258.6 L250.6 254.5 L251 249.1 L251.4 241.6 L251.8 234 L252.2 226.8 L252.6 219.9 L253 215 L253.4 211.7 L253.8 209 L254.2 207.3" fill="none" stroke="#f5a552" stroke-width="1.5" stroke-linejoin="round" stroke-linecap="round"/>
<path d="M31 185.4 L31.4 185.4 L31.8 185.4 L32.2 185.4 L32.6 185.4 L33 185.3 L33.4 185.3 L33.8 185.3 L34.2 185.3 L34.6 185.3 L35 185.3 L35.4 185.3 L35.8 185.3 L36.2 185.3 L36.6 185.3 L37 185.3 L37.4 185.3 L37.8 185.3 L38.2 185.3 L38.6 185.3 L39 185.3 L39.4 185.3 L39.8 185.3 L40.2 185.3 L40.6 185.3 L41 185.3 L41.4 185.3 L41.8 185.3 L42.2 185.3 L42.6 185.3 L43 185.4 L43.4 185.4 L43.8 185.4 L44.2 185.4 L44.6 185.4 L45 185.5 L45.4 185.5 L45.8 185.6 L46.2 185.8 L46.6 186 L47 186.4 L47.4 186.8 L47.8 187.2 L48.2 187.6 L48.6 188.1 L49 188.5 L49.4 188.9 L49.8 189.5 L50.2 190 L50.6 190.6 L51 191.2 L51.4 191.8 L51.8 192.4 L52.2 193 L52.6 193.6 L53 194.2 L53.4 194.7 L53.8 195.2 L54.2 195.7 L54.6 196.2 L55 196.7 L55.4 197.2 L55.8 197.6 L56.2 198.1 L56.6 198.5 L57 199 L57.4 199.5 L57.8 199.9 L58.2 200.4 L58.6 200.8 L59 201.3 L59.4 201.7 L59.8 202.1 L60.2 202.5 L60.6 202.8 L61 203.1 L61.4 203.5 L61.8 203.8 L62.2 204 L62.6 204.3 L63 204.5 L63.4 204.7 L63.8 204.8 L64.2 204.9 L64.6 205 L65 205.1 L65.4 205.2 L65.8 205.2 L66.2 205.2 L66.6 205.1 L67 204.9 L67.4 204.7 L67.8 204.6 L68.2 204.3 L68.6 204.2 L69 203.9 L69.4 203.7 L69.8 203.4 L70.2 203.1 L70.6 202.8 L71 202.5 L71.4 202.1 L71.8 201.8 L72.2 201.5 L72.6 201.2 L73 200.9 L73.4 200.6 L73.8 200.3 L74.2 200.1 L74.6 199.9 L75 199.6 L75.4 199.4 L75.8 199.2 L76.2 198.9 L76.6 198.7 L77 198.5 L77.4 198.3 L77.8 198.1 L78.2 197.9 L78.6 197.7 L79 197.5 L79.4 197.3 L79.8 197.2 L80.2 197 L80.6 196.8 L81 196.6 L81.4 196.5 L81.8 196.3 L82.2 196.1 L82.6 195.9 L83 195.8 L83.4 195.6 L83.8 195.4 L84.2 195.2 L84.6 195.1 L85 194.9 L85.4 194.7 L85.8 194.5 L86.2 194.3 L86.6 194.1 L87 194 L87.4 193.8 L87.8 193.6 L88.2 193.4 L88.6 193.3 L89 193.1 L89.4 192.9 L89.8 192.7 L90.2 192.5 L90.6 192.3 L91 192.1 L91.4 191.9 L91.8 191.7 L92.2 191.6 L92.6 191.4 L93 191.3 L93.4 191.1 L93.8 191 L94.2 190.9 L94.6 190.8 L95 190.7 L95.4 190.7 L95.8 190.6 L96.2 190.5 L96.6 190.4 L97 190.1 L97.4 189.8 L97.8 189.5 L98.2 189.2 L98.6 189 L99 188.8 L99.4 188.6 L99.8 188.5 L100.2 188.3 L100.6 188.2 L101 188.1 L101.4 187.9 L101.8 187.7 L102.2 187.5 L102.6 187.3 L103 187.2 L103.4 187 L103.8 186.9 L104.2 186.8 L104.6 186.7 L105 186.6 L105.4 186.5 L105.8 186.5 L106.2 186.4 L106.6 186.3 L107 186.3 L107.4 186.2 L107.8 186.2 L108.2 186.2 L108.6 186.1 L109 186.1 L109.4 186.1 L109.8 186.1 L110.2 186 L110.6 186 L111 186 L111.4 186 L111.8 186 L112.2 186 L112.6 186 L113 185.9 L113.4 185.9 L113.8 185.9 L114.2 185.9 L114.6 185.9 L115 185.9 L115.4 185.9 L115.8 185.9 L116.2 185.9 L116.6 185.9 L117 185.9 L117.4 185.8 L117.8 185.8 L118.2 185.8 L118.6 185.8 L119 185.8 L119.4 185.8 L119.8 185.8 L120.2 185.8 L120.6 185.8 L121 185.8 L121.4 185.8 L121.8 185.8 L122.2 185.8 L122.6 185.8 L123 185.7 L123.4 185.7 L123.8 185.7 L124.2 185.7 L124.6 185.7 L125 185.7 L125.4 185.7 L125.8 185.7 L126.2 185.7 L126.6 185.7 L127 185.7 L127.4 185.7 L127.8 185.7 L128.2 185.7 L128.6 185.6 L129 185.6 L129.4 185.6 L129.8 185.6 L130.2 185.6 L130.6 185.6 L131 185.6 L131.4 185.6 L131.8 185.6 L132.2 185.6 L132.6 185.6 L133 185.6 L133.4 185.6 L133.8 185.6 L134.2 185.6 L134.6 185.6 L135 185.6 L135.4 185.6 L135.8 185.6 L136.2 185.6 L136.6 185.6 L137 185.6 L137.4 185.6 L137.8 185.6 L138.2 185.6 L138.6 185.6 L139 185.6 L139.4 185.6 L139.8 185.6 L140.2 185.6 L140.6 185.6 L141 185.7 L141.4 185.7 L141.8 185.7 L142.2 185.7 L142.6 185.7 L143 185.7 L143.4 185.7 L143.8 185.7 L144.2 185.7 L144.6 185.7 L145 185.7 L145.4 185.7 L145.8 185.7 L146.2 185.7 L146.6 185.7 L147 185.7 L147.4 185.8 L147.8 185.8 L148.2 185.8 L148.6 185.8 L149 185.8 L149.4 185.8 L149.8 185.8 L150.2 185.8 L150.6 185.8 L151 185.8 L151.4 185.8 L151.8 185.8 L152.2 185.8 L152.6 185.8 L153 185.9 L153.4 185.9 L153.8 185.9 L154.2 185.9 L154.6 185.9 L155 185.9 L155.4 185.9 L155.8 185.9 L156.2 185.9 L156.6 185.9 L157 185.9 L157.4 185.9 L157.8 186 L158.2 186 L158.6 186 L159 186 L159.4 186 L159.8 186 L160.2 186 L160.6 186 L161 186 L161.4 186 L161.8 186 L162.2 186 L162.6 186 L163 186 L163.4 186 L163.8 186.1 L164.2 186.1 L164.6 186.1 L165 186.1 L165.4 186.1 L165.8 186.1 L166.2 186.1 L166.6 186.1 L167 186.1 L167.4 186.1 L167.8 186.1 L168.2 186.1 L168.6 186.2 L169 186.2 L169.4 186.2 L169.8 186.4 L170.2 186.6 L170.6 187 L171 187.4 L171.4 188.2 L171.8 189.5 L172.2 190.7 L172.6 191.2 L173 190.6 L173.4 189.2 L173.8 188 L174.2 187.6 L174.6 188 L175 188.5 L175.4 189.4 L175.8 190.9 L176.2 192.5 L176.6 194 L177 194.9 L177.4 194.8 L177.8 193.8 L178.2 192.3 L178.6 190.8 L179 189.8 L179.4 189.2 L179.8 188.7 L180.2 188.4 L180.6 188.2 L181 188.1 L181.4 187.9 L181.8 187.8 L182.2 187.8 L182.6 187.7 L183 187.6 L183.4 187.6 L183.8 187.6 L184.2 187.5 L184.6 187.5 L185 187.4 L185.4 187.3 L185.8 187.2 L186.2 187 L186.6 186.9 L187 186.7 L187.4 186.6 L187.8 186.5 L188.2 186.3 L188.6 186.2 L189 186.1 L189.4 186 L189.8 185.9 L190.2 185.9 L190.6 186.2 L191 186.6 L191.4 187.1 L191.8 187.6 L192.2 188.2 L192.6 188.8 L193 189.5 L193.4 190.3 L193.8 191.1 L194.2 192 L194.6 192.9 L195 193.9 L195.4 194.8 L195.8 195.8 L196.2 196.8 L196.6 197.8 L197 199 L197.4 200.3 L197.8 201.7 L198.2 203.4 L198.6 205.4 L199 207.8 L199.4 210.5 L199.8 213.7 L200.2 217.4 L200.6 222.1 L201 227.4 L201.4 233.3 L201.8 241 L202.2 249 L202.6 254 L203 256.2 L203.4 258 L203.8 259.4 L204.2 260.5 L204.6 261.5 L205 262.5 L205.4 263.6 L205.8 264.7 L206.2 265.7 L206.6 266.7 L207 267.6 L207.4 268.4 L207.8 269.1 L208.2 269.8 L208.6 270.4 L209 271 L209.4 271.5 L209.8 271.9 L210.2 272.2 L210.6 272.3 L211 272.2 L211.4 272 L211.8 271.7 L212.2 271.3 L212.6 270.8 L213 270.2 L213.4 269.4 L213.8 267.5 L214.2 264.9 L214.6 262 L215 259.1 L215.4 255.2 L215.8 248.1 L216.2 237.1 L216.6 224.6 L217 211.4 L217.4 206 L217.8 203.1 L218.2 200.8 L218.6 199.1 L219 197.6 L219.4 196.3 L219.8 195 L220.2 193.5 L220.6 192 L221 190.6 L221.4 189.3 L221.8 188.1 L222.2 187.2 L222.6 186.4 L223 185.7 L223.4 185.1 L223.8 184.6 L224.2 184.3 L224.6 184.2 L225 185.2 L225.4 187 L225.8 189.2 L226.2 192.3 L226.6 196.7 L227 201.3 L227.4 205.2 L227.8 208.7 L228.2 212 L228.6 214.2 L229 214.1 L229.4 211.7 L229.8 208.1 L230.2 204.2 L230.6 198.8 L231 193.5 L231.4 190.8 L231.8 188.9 L232.2 187.4 L232.6 186.2 L233 185.4 L233.4 184.9 L233.8 184.4 L234.2 184 L234.6 183.6 L235 183.2 L235.4 182.9 L235.8 182.7 L236.2 182.5 L236.6 182.4 L237 182.3 L237.4 182.3 L237.8 182.5 L238.2 182.8 L238.6 183.2 L239 183.6 L239.4 184.1 L239.8 184.6 L240.2 185.1 L240.6 185.5 L241 186.1 L241.4 186.6 L241.8 187.2 L242.2 187.9 L242.6 188.5 L243 189.2 L243.4 190 L243.8 190.7 L244.2 191.5 L244.6 192.3 L245 193 L245.4 193.8 L245.8 194.7 L246.2 195.9 L246.6 197.5 L247 200.1 L247.4 203.6 L247.8 207.8 L248.2 214 L248.6 222.2 L249 230.1 L249.4 236.9 L249.8 242.7 L250.2 243.2 L250.6 240.1 L251 235.4 L251.4 230.4 L251.8 223.9 L252.2 216 L252.6 208.3 L253 202.3 L253.4 198.4 L253.8 195.1 L254.2 192.7" fill="none" stroke="#ef5f7d" stroke-width="1.5" stroke-linejoin="round" stroke-linecap="round"/>
</g>
<line x1="171.5" y1="176" x2="171.5" y2="221" stroke="#111" stroke-width="1.3" stroke-dasharray="2.7 1.7"/>
<line x1="178" y1="176" x2="178" y2="250" stroke="#111" stroke-width="1.3" stroke-dasharray="2.7 1.7"/>
<path d="M171.5 221 L170.5 222.3 L164.5 223.6" fill="none" stroke="#222" stroke-width="0.8" stroke-linejoin="round" stroke-linecap="round"/>
<path d="M161.3 224.1 L165.3 222.2 L165.5 225.4 Z" fill="#222"/>
<path d="M178 250 L176.8 249.7 L168.5 249.3" fill="none" stroke="#222" stroke-width="0.9" stroke-linejoin="round" stroke-linecap="round"/>
<path d="M165.3 249.0 L169.3 247.5 L169.2 250.7 Z" fill="#222"/>
<text x="141.2" y="227" font-size="9.8" stroke="#000" stroke-width="0.3">C=O</text>
<text x="148.2" y="251.6" font-size="9.5" stroke="#000" stroke-width="0.3">N-H</text>
<rect x="30.9" y="170.6" width="223.6" height="179.9" fill="none" stroke="#000" stroke-width="1.25"/>
<line x1="30.9" y1="350.5" x2="30.9" y2="353.5" stroke="#000" stroke-width="1.1"/>
<text x="30.9" y="365.5" font-size="10.9" text-anchor="middle" stroke="#000" stroke-width="0.3">4000</text>
<line x1="80.59" y1="350.5" x2="80.59" y2="353.5" stroke="#000" stroke-width="1.1"/>
<text x="80.59" y="365.5" font-size="10.9" text-anchor="middle" stroke="#000" stroke-width="0.3">3200</text>
<line x1="130.28" y1="350.5" x2="130.28" y2="353.5" stroke="#000" stroke-width="1.1"/>
<text x="130.28" y="365.5" font-size="10.9" text-anchor="middle" stroke="#000" stroke-width="0.3">2400</text>
<line x1="179.97" y1="350.5" x2="179.97" y2="353.5" stroke="#000" stroke-width="1.1"/>
<text x="179.97" y="365.5" font-size="10.9" text-anchor="middle" stroke="#000" stroke-width="0.3">1600</text>
<line x1="229.66" y1="350.5" x2="229.66" y2="353.5" stroke="#000" stroke-width="1.1"/>
<text x="229.66" y="365.5" font-size="10.9" text-anchor="middle" stroke="#000" stroke-width="0.3">800</text>
<line x1="55.74" y1="350.5" x2="55.74" y2="352.4" stroke="#000" stroke-width="1"/>
<line x1="105.43" y1="350.5" x2="105.43" y2="352.4" stroke="#000" stroke-width="1"/>
<line x1="155.12" y1="350.5" x2="155.12" y2="352.4" stroke="#000" stroke-width="1"/>
<line x1="204.81" y1="350.5" x2="204.81" y2="352.4" stroke="#000" stroke-width="1"/>
<line x1="254.2" y1="350.5" x2="254.2" y2="352.4" stroke="#000" stroke-width="1"/>
<text x="87.6" y="380.8" font-size="11.85" stroke="#000" stroke-width="0.3">Wavenumber (cm<tspan font-size="7.82" dy="-4.5">-1</tspan><tspan dy="4.5">)</tspan></text>
<text x="20.1" y="265.6" font-size="11.8" text-anchor="middle" stroke="#000" stroke-width="0.3" transform="rotate(-90 20.1 265.6)">Transmittance (a.u.)</text>
<text x="5" y="181" font-size="15.3" stroke="#000" stroke-width="0.3">(b)</text>
<line x1="37" y1="294" x2="59" y2="294" stroke="#484848" stroke-width="1.4"/>
<text x="63" y="297.1" font-size="10" stroke="#000" stroke-width="0.3">SiO<tspan font-size="7" dy="3">2</tspan></text>
<line x1="37" y1="309" x2="59" y2="309" stroke="#17a4bc" stroke-width="1.4"/>
<text x="63" y="312.1" font-size="10" stroke="#000" stroke-width="0.3">D-SiO<tspan font-size="7" dy="3">2</tspan></text>
<line x1="37" y1="324.6" x2="59" y2="324.6" stroke="#f5a552" stroke-width="1.4"/>
<text x="63" y="327.7" font-size="10" stroke="#000" stroke-width="0.3">BC-D-SiO<tspan font-size="7" dy="3">2</tspan></text>
<line x1="37" y1="339.7" x2="59" y2="339.7" stroke="#ef5f7d" stroke-width="1.4"/>
<text x="63" y="342.8" font-size="10" stroke="#000" stroke-width="0.3">PFBC-D-SiO<tspan font-size="7" dy="3">2</tspan></text>
<rect x="294.9" y="170.6" width="243.3" height="177.5" fill="#fff"/>
<path d="M295.4 335.3 L331.7 333.2 L335.4 331.8 L336.6 331.2 L337.6 332.2 L338.6 332 L339.8 330.4 L340.8 332.1 L342.6 335 L344.5 335.3 L363.6 335 L410 334.2 L421.5 333.4 L424.5 332.6 L426 331.6 L427 332 L428.2 335.8 L429.2 336.8 L429.8 338 L430.1 294.3 L430.5 294.3 L431 338 L431.8 339 L479.4 338.3 L479.8 334.3 L480.5 334.3 L481 338.3 L505.3 338.9 L505.9 338.9 L506.3 331.1 L506.9 331.1 L507.5 339.1 L515.8 339.2 L516.3 339.2 L516.6 330.4 L517.2 330.4 L517.8 339.3 L531.6 340 L532.2 338 L532.7 338 L533.3 340.1 L537.6 340.4" fill="none" stroke="#484848" stroke-width="1.3" stroke-linejoin="round" stroke-linecap="round"/>
<path d="M295.4 288.7 L331.7 287 L335.4 285.6 L336.6 285 L337.6 286 L338.6 285.8 L339.8 284.2 L340.8 285.9 L342.6 288.8 L344.5 289.1 L363.6 288.8 L410 287.4 L421.5 286.6 L424.5 285.8 L426 284.8 L427 285.2 L428.2 289 L429.2 290 L429.8 290.1 L430.1 261.2 L430.5 261.2 L431 290.1 L431.8 291.1 L455.6 290.2 L456.4 287.7 L456.9 287.7 L457.7 290.1 L470 289.8 L474 289.1 L476.8 288.7 L478 290.3 L479.2 291.9 L479.8 290.7 L480.1 266.6 L480.5 266.6 L481 292.3 L482 294.3 L505.3 294.9 L505.9 294.9 L506.3 291.1 L506.9 291.1 L507.5 295.1 L515.8 295.2 L516.3 295.2 L516.6 290.6 L517.2 290.6 L517.8 295.3 L531.6 295.2 L532.2 294 L532.7 294 L533.3 295.3 L537.6 295.6" fill="none" stroke="#17a4bc" stroke-width="1.4" stroke-linejoin="round" stroke-linecap="round"/>
<path d="M295.4 254.7 L331.7 253.8 L335.4 252.4 L336.6 251.8 L337.6 252.8 L338.6 252.6 L339.8 251 L340.8 252.7 L342.6 255.6 L344.5 255.9 L363.6 255.6 L410 254.2 L421.5 253.4 L424.5 252.6 L426 251.6 L427 252 L428.2 255.8 L429.2 256.8 L429.8 255.3 L430.1 238.6 L430.5 238.6 L431 255.3 L431.8 256.3 L455.6 255.4 L456.4 254.2 L456.9 254.2 L457.7 255.3 L470 255 L474 254.7 L476.8 254.3 L478 255.9 L479.2 257.5 L479.8 256.3 L480.1 230.5 L480.5 230.5 L481 257.5 L482 259.5 L505.3 260.1 L505.9 260.1 L506.3 258.6 L506.9 258.6 L507.5 260.3 L515.8 260.4 L516.3 260.4 L516.6 258.8 L517.2 258.8 L517.8 260.5 L537.6 260.7" fill="none" stroke="#f5a552" stroke-width="1.3" stroke-linejoin="round" stroke-linecap="round"/>
<path d="M295.4 224.4 L331.7 222.5 L335.4 221.1 L336.6 220.5 L337.6 221.5 L338.6 221.3 L339.8 219.7 L340.8 221.4 L342.6 224.3 L344.5 224.6 L363.6 224.3 L397.6 223 L398.5 219.4 L398.8 219.4 L399.6 222.9 L410 222.6 L421.5 221.8 L424.5 221 L426 220 L427 220.4 L428.2 224.2 L429.2 225.2 L429.8 225.1 L430.1 202.3 L430.5 202.3 L431 225.1 L431.8 226.1 L455.6 225.2 L456.4 222.6 L456.9 222.6 L457.7 225.1 L470 224.8 L474 224.3 L476.8 223.9 L478 225.5 L479.2 227.1 L479.8 225.9 L480.1 204.2 L480.5 204.2 L481 227.3 L482 229.3 L505.3 229.9 L505.9 229.9 L506.3 228.2 L506.9 228.2 L507.5 230.1 L515.8 230.2 L516.3 230.2 L516.6 228.3 L517.2 228.3 L517.8 230.3 L537.6 231" fill="none" stroke="#ef5f7d" stroke-width="1.3" stroke-linejoin="round" stroke-linecap="round"/>
<rect x="294.9" y="170.6" width="243.3" height="177.5" fill="none" stroke="#000" stroke-width="1.25"/>
<line x1="538.2" y1="348.1" x2="538.2" y2="350.9" stroke="#000" stroke-width="1.1"/>
<text x="538.2" y="362.6" font-size="10.9" text-anchor="middle" stroke="#000" stroke-width="0.3">0</text>
<line x1="497.65" y1="348.1" x2="497.65" y2="350.9" stroke="#000" stroke-width="1.1"/>
<text x="497.65" y="362.6" font-size="10.9" text-anchor="middle" stroke="#000" stroke-width="0.3">200</text>
<line x1="457.1" y1="348.1" x2="457.1" y2="350.9" stroke="#000" stroke-width="1.1"/>
<text x="457.1" y="362.6" font-size="10.9" text-anchor="middle" stroke="#000" stroke-width="0.3">400</text>
<line x1="416.55" y1="348.1" x2="416.55" y2="350.9" stroke="#000" stroke-width="1.1"/>
<text x="416.55" y="362.6" font-size="10.9" text-anchor="middle" stroke="#000" stroke-width="0.3">600</text>
<line x1="376" y1="348.1" x2="376" y2="350.9" stroke="#000" stroke-width="1.1"/>
<text x="376" y="362.6" font-size="10.9" text-anchor="middle" stroke="#000" stroke-width="0.3">800</text>
<line x1="335.45" y1="348.1" x2="335.45" y2="350.9" stroke="#000" stroke-width="1.1"/>
<text x="335.45" y="362.6" font-size="10.9" text-anchor="middle" stroke="#000" stroke-width="0.3">1000</text>
<line x1="294.9" y1="348.1" x2="294.9" y2="350.9" stroke="#000" stroke-width="1.1"/>
<text x="294.9" y="362.6" font-size="10.9" text-anchor="middle" stroke="#000" stroke-width="0.3">1200</text>
<line x1="517.93" y1="348.1" x2="517.93" y2="349.9" stroke="#000" stroke-width="1"/>
<line x1="477.38" y1="348.1" x2="477.38" y2="349.9" stroke="#000" stroke-width="1"/>
<line x1="436.83" y1="348.1" x2="436.83" y2="349.9" stroke="#000" stroke-width="1"/>
<line x1="396.27" y1="348.1" x2="396.27" y2="349.9" stroke="#000" stroke-width="1"/>
<line x1="355.73" y1="348.1" x2="355.73" y2="349.9" stroke="#000" stroke-width="1"/>
<line x1="315.17" y1="348.1" x2="315.17" y2="349.9" stroke="#000" stroke-width="1"/>
<text x="361.2" y="381.4" font-size="11.65" stroke="#000" stroke-width="0.3">Binding Energy (eV)</text>
<text x="286.5" y="259.2" font-size="11.7" text-anchor="middle" stroke="#000" stroke-width="0.3" transform="rotate(-90 286.5 259.2)">Intensity (a.u.)</text>
<text x="269.6" y="181" font-size="15.3" stroke="#000" stroke-width="0.3">(c)</text>
<text x="298" y="216.6" font-size="10.2" font-weight="normal" fill="#ef5f7d" stroke="#ef5f7d" stroke-width="0.3">PFBC-D-SiO<tspan font-size="7.14" dy="3.06">2</tspan></text>
<text x="298" y="248.4" font-size="10.2" font-weight="normal" fill="#f5a552" stroke="#f5a552" stroke-width="0.3">BC-D-SiO<tspan font-size="7.14" dy="3.06">2</tspan></text>
<text x="298" y="281.1" font-size="10.1" fill="#17a4bc" stroke="#17a4bc" stroke-width="0.3">D-SiO<tspan font-size="7.07" dy="3.03">2</tspan></text>
<text x="298" y="328.8" font-size="10.1" fill="#111" stroke="#111" stroke-width="0.3">SiO<tspan font-size="7.07" dy="3.03">2</tspan></text>
<text x="396" y="215.8" font-size="10.1" stroke="#000" stroke-width="0.3">F<tspan font-size="7.07" dy="3.03">1s</tspan></text>
<text x="425.9" y="199" font-size="10.1" stroke="#000" stroke-width="0.3">O<tspan font-size="7.07" dy="3.03">1s</tspan></text>
<text x="477.6" y="199" font-size="10.1" stroke="#000" stroke-width="0.3">C<tspan font-size="7.07" dy="3.03">1s</tspan></text>
<text x="453.2" y="218.1" font-size="10.1" stroke="#000" stroke-width="0.3">N<tspan font-size="7.07" dy="3.03">1s</tspan></text>
<text x="513.2" y="222.7" font-size="10.1" stroke="#000" stroke-width="0.3">Si<tspan font-size="7.07" dy="3.03">2p</tspan></text>
<rect x="30.8" y="393.3" width="229.5" height="240.9" fill="#e5edf9"/>
<g>
<path d="M134.4 461.1 L134.9 461.1 L135.4 461.1 L135.9 461.1 L136.4 461.1 L136.9 461.1 L137.4 461.1 L137.9 461.1 L138.4 461.1 L138.9 461.1 L139.4 461.1 L139.9 461.1 L140.4 461.1 L140.9 461.1 L141.4 461.1 L141.9 461.1 L142.4 461.1 L142.9 461.1 L143.4 461.2 L143.9 461.2 L144.4 461.2 L144.9 461.2 L145.4 461.2 L145.9 461.2 L146.4 461.2 L146.9 461.2 L147.4 461.2 L147.9 461.2 L148.4 461.2 L148.9 461.2 L149.4 461.2 L149.9 461.2 L150.4 461.2 L150.9 461.2 L151.4 461.2 L151.9 461.2 L152.4 461.2 L152.9 461.2 L153.4 461.2 L153.9 461.2 L154.4 461.2 L154.9 461.2 L155.4 461.2 L155.9 461.2 L156.4 461.2 L156.9 461.2 L157.4 461.2 L157.9 461.2 L158.4 461.2 L158.9 461.2 L159.4 461.2 L159.9 461.2 L160.4 461.2 L160.9 461.2 L161.4 461.2 L161.9 461.2 L162.4 461.2 L162.9 461.2 L163.4 461.2 L163.9 461.2 L164.4 461.2 L164.9 461.2 L165.4 461.2 L165.9 461.2 L166.4 461.1 L166.9 461.1 L167.4 461.1 L167.9 461.1 L168.4 461.1 L168.9 461.1 L169.4 461.1 L169.9 461.1 L170.4 461.1 L170.9 461.1 L171.4 461.1 L171.9 461 L172.4 461 L172.9 461 L173.4 461 L173.9 460.9 L174.4 460.9 L174.9 460.9 L175.4 460.8 L175.9 460.8 L176.4 460.7 L176.9 460.6 L177.4 460.5 L177.9 460.4 L178.4 460.3 L178.9 460.1 L179.4 459.9 L179.9 459.7 L180.4 459.4 L180.9 459.1 L181.4 458.8 L181.9 458.4 L182.4 458 L182.9 457.4 L183.4 456.9 L183.9 456.2 L184.4 455.4 L184.9 454.6 L185.4 453.7 L185.9 452.6 L186.4 451.5 L186.9 450.3 L187.4 448.9 L187.9 447.5 L188.4 445.9 L188.9 444.3 L189.4 442.5 L189.9 440.6 L190.4 438.7 L190.9 436.7 L191.4 434.7 L191.9 432.6 L192.4 430.5 L192.9 428.3 L193.4 426.2 L193.9 424.2 L194.4 422.2 L194.9 420.4 L195.4 418.6 L195.9 417 L196.4 415.6 L196.9 414.4 L197.4 413.4 L197.9 412.6 L198.4 412.1 L198.9 411.9 L199.4 411.9 L199.9 412.2 L200.4 412.7 L200.9 413.4 L201.4 414.4 L201.9 415.5 L202.4 416.8 L202.9 418.3 L203.4 419.9 L203.9 421.6 L204.4 423.4 L204.9 425.3 L205.4 427.2 L205.9 429.2 L206.4 431.2 L206.9 433.2 L207.4 435.1 L207.9 437.1 L208.4 439 L208.9 440.8 L209.4 442.6 L209.9 444.3 L210.4 445.9 L210.9 447.4 L211.4 448.9 L211.9 450.2 L212.4 451.5 L212.9 452.6 L213.4 453.7 L213.9 454.7 L214.4 455.6 L214.9 456.4 L215.4 457.2 L215.9 457.8 L216.4 458.5 L216.9 459 L217.4 459.5 L217.9 459.9 L218.4 460.3 L218.9 460.6 L219.4 460.9 L219.9 461.2 L220.4 461.4 L220.9 461.6 L221.4 461.8 L221.9 461.9 L222.4 462 L222.9 462.2 L223.4 462.3 L223.9 462.4 L224.4 462.4 L224.9 462.5 L225.4 462.6 L225.9 462.6 L226.4 462.7 L226.9 462.7 L227.4 462.8 L227.9 462.8 L228.4 462.8 L228.9 462.9 L229.4 462.9 L229.9 462.9 L230.4 463 L230.9 463 L231.4 463 L231.9 463 L232.4 463.1 L232.9 463.1 L233.4 463.1 L233.9 463.1 L234.4 463.1 L234.9 463.2 L235.4 463.2 L235.9 463.2 L236.4 463.2 L236.9 463.2 L237.4 463.2 L237.9 463.3 L238.4 463.3 L238.9 463.3 L239.4 463.3 L239.9 463.3 L240.4 463.3 L240.9 463.3 L241.4 463.4 L241.9 463.4 L242.4 463.4 L242.9 463.4 L243.4 463.4 L243.9 463.4 L244.4 463.4 L244.9 463.4 L245.4 463.5 L245.9 463.5 L246.4 463.5 L246.9 463.5 L247.4 463.5 L247.9 463.5 L248.4 463.5 L248.9 463.5 L249.4 463.5 L249.9 463.6 L250.4 463.6 L250.9 463.6 L251.4 463.6 L251.9 463.6 L252.4 463.6 L252.9 463.6 L253.4 463.6 L253.9 463.6 L254.4 463.6 L254.9 463.6 L255.4 463.7 L255.9 463.7 L256.4 463.7 L256.9 463.7 L257.4 463.7 L257.9 463.7 L258.4 463.7 L258.9 463.7 L259.4 463.7 L259.4 463.9 L258.9 463.9 L258.4 463.9 L257.9 463.9 L257.4 463.9 L256.9 463.9 L256.4 463.9 L255.9 463.9 L255.4 463.8 L254.9 463.8 L254.4 463.8 L253.9 463.8 L253.4 463.8 L252.9 463.8 L252.4 463.8 L251.9 463.8 L251.4 463.8 L250.9 463.8 L250.4 463.8 L249.9 463.8 L249.4 463.8 L248.9 463.8 L248.4 463.8 L247.9 463.8 L247.4 463.8 L246.9 463.8 L246.4 463.7 L245.9 463.7 L245.4 463.7 L244.9 463.7 L244.4 463.7 L243.9 463.7 L243.4 463.7 L242.9 463.7 L242.4 463.7 L241.9 463.7 L241.4 463.7 L240.9 463.7 L240.4 463.7 L239.9 463.7 L239.4 463.7 L238.9 463.7 L238.4 463.7 L237.9 463.6 L237.4 463.6 L236.9 463.6 L236.4 463.6 L235.9 463.6 L235.4 463.6 L234.9 463.6 L234.4 463.6 L233.9 463.6 L233.4 463.6 L232.9 463.6 L232.4 463.6 L231.9 463.6 L231.4 463.6 L230.9 463.6 L230.4 463.5 L229.9 463.5 L229.4 463.5 L228.9 463.5 L228.4 463.5 L227.9 463.5 L227.4 463.5 L226.9 463.5 L226.4 463.5 L225.9 463.5 L225.4 463.5 L224.9 463.5 L224.4 463.5 L223.9 463.4 L223.4 463.4 L222.9 463.4 L222.4 463.4 L221.9 463.4 L221.4 463.4 L220.9 463.4 L220.4 463.4 L219.9 463.4 L219.4 463.4 L218.9 463.4 L218.4 463.3 L217.9 463.3 L217.4 463.3 L216.9 463.3 L216.4 463.3 L215.9 463.3 L215.4 463.3 L214.9 463.3 L214.4 463.2 L213.9 463.2 L213.4 463.2 L212.9 463.2 L212.4 463.2 L211.9 463.2 L211.4 463.2 L210.9 463.1 L210.4 463.1 L209.9 463.1 L209.4 463.1 L208.9 463.1 L208.4 463.1 L207.9 463 L207.4 463 L206.9 463 L206.4 463 L205.9 463 L205.4 462.9 L204.9 462.9 L204.4 462.9 L203.9 462.9 L203.4 462.9 L202.9 462.8 L202.4 462.8 L201.9 462.8 L201.4 462.8 L200.9 462.8 L200.4 462.7 L199.9 462.7 L199.4 462.7 L198.9 462.7 L198.4 462.6 L197.9 462.6 L197.4 462.6 L196.9 462.6 L196.4 462.5 L195.9 462.5 L195.4 462.5 L194.9 462.5 L194.4 462.4 L193.9 462.4 L193.4 462.4 L192.9 462.4 L192.4 462.4 L191.9 462.3 L191.4 462.3 L190.9 462.3 L190.4 462.3 L189.9 462.2 L189.4 462.2 L188.9 462.2 L188.4 462.2 L187.9 462.2 L187.4 462.1 L186.9 462.1 L186.4 462.1 L185.9 462.1 L185.4 462.1 L184.9 462 L184.4 462 L183.9 462 L183.4 462 L182.9 462 L182.4 462 L181.9 461.9 L181.4 461.9 L180.9 461.9 L180.4 461.9 L179.9 461.9 L179.4 461.9 L178.9 461.9 L178.4 461.8 L177.9 461.8 L177.4 461.8 L176.9 461.8 L176.4 461.8 L175.9 461.8 L175.4 461.8 L174.9 461.8 L174.4 461.8 L173.9 461.7 L173.4 461.7 L172.9 461.7 L172.4 461.7 L171.9 461.7 L171.4 461.7 L170.9 461.7 L170.4 461.7 L169.9 461.7 L169.4 461.7 L168.9 461.6 L168.4 461.6 L167.9 461.6 L167.4 461.6 L166.9 461.6 L166.4 461.6 L165.9 461.6 L165.4 461.6 L164.9 461.6 L164.4 461.6 L163.9 461.6 L163.4 461.6 L162.9 461.6 L162.4 461.5 L161.9 461.5 L161.4 461.5 L160.9 461.5 L160.4 461.5 L159.9 461.5 L159.4 461.5 L158.9 461.5 L158.4 461.5 L157.9 461.5 L157.4 461.5 L156.9 461.5 L156.4 461.5 L155.9 461.5 L155.4 461.5 L154.9 461.4 L154.4 461.4 L153.9 461.4 L153.4 461.4 L152.9 461.4 L152.4 461.4 L151.9 461.4 L151.4 461.4 L150.9 461.4 L150.4 461.4 L149.9 461.4 L149.4 461.4 L148.9 461.4 L148.4 461.4 L147.9 461.4 L147.4 461.4 L146.9 461.4 L146.4 461.3 L145.9 461.3 L145.4 461.3 L144.9 461.3 L144.4 461.3 L143.9 461.3 L143.4 461.3 L142.9 461.3 L142.4 461.3 L141.9 461.3 L141.4 461.3 L140.9 461.3 L140.4 461.3 L139.9 461.3 L139.4 461.3 L138.9 461.3 L138.4 461.3 L137.9 461.3 L137.4 461.2 L136.9 461.2 L136.4 461.2 L135.9 461.2 L135.4 461.2 L134.9 461.2 L134.4 461.2Z" fill="url(#g1)" stroke="#9fd8d6" stroke-width="0.5"/>
<path d="M148.4 461.3 L148.9 461.3 L149.4 461.3 L149.9 461.3 L150.4 461.2 L150.9 461.2 L151.4 461.2 L151.9 461.2 L152.4 461.2 L152.9 461.2 L153.4 461.2 L153.9 461.2 L154.4 461.2 L154.9 461.2 L155.4 461.2 L155.9 461.1 L156.4 461.1 L156.9 461.1 L157.4 461 L157.9 461 L158.4 460.9 L158.9 460.9 L159.4 460.8 L159.9 460.8 L160.4 460.7 L160.9 460.6 L161.4 460.5 L161.9 460.3 L162.4 460.2 L162.9 460.1 L163.4 459.9 L163.9 459.7 L164.4 459.5 L164.9 459.3 L165.4 459.1 L165.9 458.8 L166.4 458.5 L166.9 458.2 L167.4 457.9 L167.9 457.6 L168.4 457.3 L168.9 456.9 L169.4 456.5 L169.9 456.1 L170.4 455.7 L170.9 455.2 L171.4 454.8 L171.9 454.3 L172.4 453.9 L172.9 453.4 L173.4 453 L173.9 452.5 L174.4 452 L174.9 451.6 L175.4 451.2 L175.9 450.8 L176.4 450.4 L176.9 450 L177.4 449.7 L177.9 449.4 L178.4 449.1 L178.9 448.9 L179.4 448.7 L179.9 448.6 L180.4 448.5 L180.9 448.4 L181.4 448.4 L181.9 448.5 L182.4 448.6 L182.9 448.7 L183.4 448.9 L183.9 449.2 L184.4 449.5 L184.9 449.8 L185.4 450.1 L185.9 450.5 L186.4 450.9 L186.9 451.4 L187.4 451.8 L187.9 452.3 L188.4 452.8 L188.9 453.2 L189.4 453.7 L189.9 454.2 L190.4 454.7 L190.9 455.2 L191.4 455.7 L191.9 456.2 L192.4 456.6 L192.9 457.1 L193.4 457.5 L193.9 457.9 L194.4 458.3 L194.9 458.7 L195.4 459 L195.9 459.3 L196.4 459.6 L196.9 459.9 L197.4 460.2 L197.9 460.5 L198.4 460.7 L198.9 460.9 L199.4 461.1 L199.9 461.3 L200.4 461.5 L200.9 461.6 L201.4 461.8 L201.9 461.9 L202.4 462 L202.9 462.1 L203.4 462.2 L203.9 462.3 L204.4 462.4 L204.9 462.5 L205.4 462.5 L205.9 462.6 L206.4 462.6 L206.9 462.7 L207.4 462.7 L207.9 462.8 L208.4 462.8 L208.9 462.9 L209.4 462.9 L209.9 462.9 L210.4 463 L210.9 463 L211.4 463 L211.9 463 L212.4 463 L212.9 463.1 L213.4 463.1 L213.9 463.1 L213.9 463.2 L213.4 463.2 L212.9 463.2 L212.4 463.2 L211.9 463.2 L211.4 463.2 L210.9 463.1 L210.4 463.1 L209.9 463.1 L209.4 463.1 L208.9 463.1 L208.4 463.1 L207.9 463 L207.4 463 L206.9 463 L206.4 463 L205.9 463 L205.4 462.9 L204.9 462.9 L204.4 462.9 L203.9 462.9 L203.4 462.9 L202.9 462.8 L202.4 462.8 L201.9 462.8 L201.4 462.8 L200.9 462.8 L200.4 462.7 L199.9 462.7 L199.4 462.7 L198.9 462.7 L198.4 462.6 L197.9 462.6 L197.4 462.6 L196.9 462.6 L196.4 462.5 L195.9 462.5 L195.4 462.5 L194.9 462.5 L194.4 462.4 L193.9 462.4 L193.4 462.4 L192.9 462.4 L192.4 462.4 L191.9 462.3 L191.4 462.3 L190.9 462.3 L190.4 462.3 L189.9 462.2 L189.4 462.2 L188.9 462.2 L188.4 462.2 L187.9 462.2 L187.4 462.1 L186.9 462.1 L186.4 462.1 L185.9 462.1 L185.4 462.1 L184.9 462 L184.4 462 L183.9 462 L183.4 462 L182.9 462 L182.4 462 L181.9 461.9 L181.4 461.9 L180.9 461.9 L180.4 461.9 L179.9 461.9 L179.4 461.9 L178.9 461.9 L178.4 461.8 L177.9 461.8 L177.4 461.8 L176.9 461.8 L176.4 461.8 L175.9 461.8 L175.4 461.8 L174.9 461.8 L174.4 461.8 L173.9 461.7 L173.4 461.7 L172.9 461.7 L172.4 461.7 L171.9 461.7 L171.4 461.7 L170.9 461.7 L170.4 461.7 L169.9 461.7 L169.4 461.7 L168.9 461.6 L168.4 461.6 L167.9 461.6 L167.4 461.6 L166.9 461.6 L166.4 461.6 L165.9 461.6 L165.4 461.6 L164.9 461.6 L164.4 461.6 L163.9 461.6 L163.4 461.6 L162.9 461.6 L162.4 461.5 L161.9 461.5 L161.4 461.5 L160.9 461.5 L160.4 461.5 L159.9 461.5 L159.4 461.5 L158.9 461.5 L158.4 461.5 L157.9 461.5 L157.4 461.5 L156.9 461.5 L156.4 461.5 L155.9 461.5 L155.4 461.5 L154.9 461.4 L154.4 461.4 L153.9 461.4 L153.4 461.4 L152.9 461.4 L152.4 461.4 L151.9 461.4 L151.4 461.4 L150.9 461.4 L150.4 461.4 L149.9 461.4 L149.4 461.4 L148.9 461.4 L148.4 461.4Z" fill="url(#g2)" stroke="#6fbac6" stroke-width="0.5"/>
<path d="M121.4 460.9 L121.9 460.9 L122.4 460.9 L122.9 460.9 L123.4 460.9 L123.9 460.9 L124.4 460.9 L124.9 460.8 L125.4 460.8 L125.9 460.8 L126.4 460.7 L126.9 460.7 L127.4 460.7 L127.9 460.6 L128.4 460.6 L128.9 460.5 L129.4 460.5 L129.9 460.4 L130.4 460.3 L130.9 460.3 L131.4 460.2 L131.9 460.1 L132.4 460 L132.9 459.9 L133.4 459.8 L133.9 459.7 L134.4 459.6 L134.9 459.5 L135.4 459.4 L135.9 459.3 L136.4 459.2 L136.9 459.1 L137.4 459 L137.9 458.8 L138.4 458.7 L138.9 458.6 L139.4 458.4 L139.9 458.3 L140.4 458.2 L140.9 458 L141.4 457.9 L141.9 457.8 L142.4 457.6 L142.9 457.5 L143.4 457.4 L143.9 457.3 L144.4 457.1 L144.9 457 L145.4 456.9 L145.9 456.8 L146.4 456.7 L146.9 456.6 L147.4 456.6 L147.9 456.5 L148.4 456.4 L148.9 456.4 L149.4 456.4 L149.9 456.3 L150.4 456.3 L150.9 456.3 L151.4 456.3 L151.9 456.3 L152.4 456.3 L152.9 456.4 L153.4 456.4 L153.9 456.5 L154.4 456.5 L154.9 456.6 L155.4 456.7 L155.9 456.8 L156.4 456.9 L156.9 457 L157.4 457.1 L157.9 457.2 L158.4 457.4 L158.9 457.5 L159.4 457.6 L159.9 457.8 L160.4 457.9 L160.9 458 L161.4 458.2 L161.9 458.3 L162.4 458.5 L162.9 458.6 L163.4 458.8 L163.9 458.9 L164.4 459.1 L164.9 459.2 L165.4 459.3 L165.9 459.5 L166.4 459.6 L166.9 459.7 L167.4 459.9 L167.9 460 L168.4 460.1 L168.9 460.2 L169.4 460.3 L169.9 460.4 L170.4 460.5 L170.9 460.6 L171.4 460.7 L171.9 460.8 L172.4 460.9 L172.9 461 L173.4 461.1 L173.9 461.1 L174.4 461.2 L174.9 461.3 L175.4 461.3 L175.9 461.4 L176.4 461.4 L176.9 461.5 L177.4 461.5 L177.9 461.6 L178.4 461.6 L178.9 461.6 L179.4 461.7 L179.9 461.7 L180.4 461.7 L180.9 461.8 L181.4 461.8 L181.4 461.9 L180.9 461.9 L180.4 461.9 L179.9 461.9 L179.4 461.9 L178.9 461.9 L178.4 461.8 L177.9 461.8 L177.4 461.8 L176.9 461.8 L176.4 461.8 L175.9 461.8 L175.4 461.8 L174.9 461.8 L174.4 461.8 L173.9 461.7 L173.4 461.7 L172.9 461.7 L172.4 461.7 L171.9 461.7 L171.4 461.7 L170.9 461.7 L170.4 461.7 L169.9 461.7 L169.4 461.7 L168.9 461.6 L168.4 461.6 L167.9 461.6 L167.4 461.6 L166.9 461.6 L166.4 461.6 L165.9 461.6 L165.4 461.6 L164.9 461.6 L164.4 461.6 L163.9 461.6 L163.4 461.6 L162.9 461.6 L162.4 461.5 L161.9 461.5 L161.4 461.5 L160.9 461.5 L160.4 461.5 L159.9 461.5 L159.4 461.5 L158.9 461.5 L158.4 461.5 L157.9 461.5 L157.4 461.5 L156.9 461.5 L156.4 461.5 L155.9 461.5 L155.4 461.5 L154.9 461.4 L154.4 461.4 L153.9 461.4 L153.4 461.4 L152.9 461.4 L152.4 461.4 L151.9 461.4 L151.4 461.4 L150.9 461.4 L150.4 461.4 L149.9 461.4 L149.4 461.4 L148.9 461.4 L148.4 461.4 L147.9 461.4 L147.4 461.4 L146.9 461.4 L146.4 461.3 L145.9 461.3 L145.4 461.3 L144.9 461.3 L144.4 461.3 L143.9 461.3 L143.4 461.3 L142.9 461.3 L142.4 461.3 L141.9 461.3 L141.4 461.3 L140.9 461.3 L140.4 461.3 L139.9 461.3 L139.4 461.3 L138.9 461.3 L138.4 461.3 L137.9 461.3 L137.4 461.2 L136.9 461.2 L136.4 461.2 L135.9 461.2 L135.4 461.2 L134.9 461.2 L134.4 461.2 L133.9 461.2 L133.4 461.2 L132.9 461.2 L132.4 461.2 L131.9 461.2 L131.4 461.2 L130.9 461.2 L130.4 461.2 L129.9 461.2 L129.4 461.2 L128.9 461.2 L128.4 461.2 L127.9 461.1 L127.4 461.1 L126.9 461.1 L126.4 461.1 L125.9 461.1 L125.4 461.1 L124.9 461.1 L124.4 461.1 L123.9 461.1 L123.4 461.1 L122.9 461.1 L122.4 461.1 L121.9 461.1 L121.4 461.1Z" fill="url(#g3)" stroke="#74c8a2" stroke-width="0.5"/>
<path d="M31.4 460.1 L31.9 460.1 L32.4 460.1 L32.9 460.1 L33.4 460.1 L33.9 460.1 L34.4 460.1 L34.9 460.1 L35.4 460.1 L35.9 460.2 L36.4 460.2 L36.9 460.2 L37.4 460.2 L37.9 460.2 L38.4 460.2 L38.9 460.2 L39.4 460.2 L39.9 460.2 L40.4 460.2 L40.9 460.2 L41.4 460.2 L41.9 460.2 L42.4 460.2 L42.9 460.2 L43.4 460.2 L43.9 460.2 L44.4 460.2 L44.9 460.3 L45.4 460.3 L45.9 460.3 L46.4 460.3 L46.9 460.3 L47.4 460.3 L47.9 460.3 L48.4 460.3 L48.9 460.3 L49.4 460.3 L49.9 460.3 L50.4 460.3 L50.9 460.3 L51.4 460.3 L51.9 460.3 L52.4 460.3 L52.9 460.3 L53.4 460.3 L53.9 460.3 L54.4 460.4 L54.9 460.4 L55.4 460.4 L55.9 460.4 L56.4 460.4 L56.9 460.4 L57.4 460.4 L57.9 460.4 L58.4 460.4 L58.9 460.4 L59.4 460.4 L59.9 460.4 L60.4 460.4 L60.9 460.4 L61.4 460.4 L61.9 460.4 L62.4 460.4 L62.9 460.4 L63.4 460.5 L63.9 460.5 L64.4 460.5 L64.9 460.5 L65.4 460.5 L65.9 460.5 L66.4 460.5 L66.9 460.5 L67.4 460.5 L67.9 460.5 L68.4 460.5 L68.9 460.5 L69.4 460.5 L69.9 460.5 L70.4 460.5 L70.9 460.5 L71.4 460.5 L71.9 460.5 L72.4 460.5 L72.9 460.6 L73.4 460.6 L73.9 460.6 L74.4 460.6 L74.9 460.6 L75.4 460.6 L75.9 460.6 L76.4 460.6 L76.9 460.6 L77.4 460.6 L77.9 460.6 L78.4 460.6 L78.9 460.6 L79.4 460.6 L79.9 460.6 L80.4 460.6 L80.9 460.6 L81.4 460.6 L81.9 460.6 L82.4 460.7 L82.9 460.7 L83.4 460.7 L83.9 460.7 L84.4 460.7 L84.9 460.7 L85.4 460.7 L85.9 460.7 L86.4 460.7 L86.9 460.7 L87.4 460.7 L87.9 460.7 L88.4 460.7 L88.9 460.7 L89.4 460.7 L89.9 460.7 L90.4 460.7 L90.9 460.7 L91.4 460.8 L91.9 460.8 L92.4 460.8 L92.9 460.8 L93.4 460.8 L93.9 460.8 L94.4 460.8 L94.9 460.8 L95.4 460.8 L95.9 460.8 L96.4 460.8 L96.9 460.8 L97.4 460.8 L97.9 460.8 L98.4 460.8 L98.9 460.8 L99.4 460.8 L99.9 460.8 L100.4 460.8 L100.9 460.9 L101.4 460.9 L101.9 460.9 L102.4 460.9 L102.9 460.9 L103.4 460.9 L103.9 460.9 L104.4 460.9 L104.9 460.9 L105.4 460.9 L105.9 460.9 L106.4 460.9 L106.9 460.9 L107.4 460.9 L107.9 460.9 L108.4 460.9 L108.9 460.9 L109.4 460.9 L109.9 461 L110.4 461 L110.9 461 L111.4 461 L111.9 461 L112.4 461 L112.9 461 L113.4 461 L113.9 461 L114.4 461 L114.9 461 L115.4 461 L115.9 461 L116.4 461 L116.9 461 L117.4 461 L117.9 461 L118.4 461 L118.9 461 L119.4 461.1 L119.9 461.1 L120.4 461.1 L120.9 461.1 L121.4 461.1 L121.9 461.1 L122.4 461.1 L122.9 461.1 L123.4 461.1 L123.9 461.1 L124.4 461.1 L124.9 461.1 L125.4 461.1 L125.9 461.1 L126.4 461.1 L126.9 461.1 L127.4 461.1 L127.9 461.1 L128.4 461.2 L128.9 461.2 L129.4 461.2 L129.9 461.2 L130.4 461.2 L130.9 461.2 L131.4 461.2 L131.9 461.2 L132.4 461.2 L132.9 461.2 L133.4 461.2 L133.9 461.2 L134.4 461.2 L134.9 461.2 L135.4 461.2 L135.9 461.2 L136.4 461.2 L136.9 461.2 L137.4 461.2 L137.9 461.3 L138.4 461.3 L138.9 461.3 L139.4 461.3 L139.9 461.3 L140.4 461.3 L140.9 461.3 L141.4 461.3 L141.9 461.3 L142.4 461.3 L142.9 461.3 L143.4 461.3 L143.9 461.3 L144.4 461.3 L144.9 461.3 L145.4 461.3 L145.9 461.3 L146.4 461.3 L146.9 461.4 L147.4 461.4 L147.9 461.4 L148.4 461.4 L148.9 461.4 L149.4 461.4 L149.9 461.4 L150.4 461.4 L150.9 461.4 L151.4 461.4 L151.9 461.4 L152.4 461.4 L152.9 461.4 L153.4 461.4 L153.9 461.4 L154.4 461.4 L154.9 461.4 L155.4 461.5 L155.9 461.5 L156.4 461.5 L156.9 461.5 L157.4 461.5 L157.9 461.5 L158.4 461.5 L158.9 461.5 L159.4 461.5 L159.9 461.5 L160.4 461.5 L160.9 461.5 L161.4 461.5 L161.9 461.5 L162.4 461.5 L162.9 461.6 L163.4 461.6 L163.9 461.6 L164.4 461.6 L164.9 461.6 L165.4 461.6 L165.9 461.6 L166.4 461.6 L166.9 461.6 L167.4 461.6 L167.9 461.6 L168.4 461.6 L168.9 461.6 L169.4 461.7 L169.9 461.7 L170.4 461.7 L170.9 461.7 L171.4 461.7 L171.9 461.7 L172.4 461.7 L172.9 461.7 L173.4 461.7 L173.9 461.7 L174.4 461.8 L174.9 461.8 L175.4 461.8 L175.9 461.8 L176.4 461.8 L176.9 461.8 L177.4 461.8 L177.9 461.8 L178.4 461.8 L178.9 461.9 L179.4 461.9 L179.9 461.9 L180.4 461.9 L180.9 461.9 L181.4 461.9 L181.9 461.9 L182.4 462 L182.9 462 L183.4 462 L183.9 462 L184.4 462 L184.9 462 L185.4 462.1 L185.9 462.1 L186.4 462.1 L186.9 462.1 L187.4 462.1 L187.9 462.2 L188.4 462.2 L188.9 462.2 L189.4 462.2 L189.9 462.2 L190.4 462.3 L190.9 462.3 L191.4 462.3 L191.9 462.3 L192.4 462.4 L192.9 462.4 L193.4 462.4 L193.9 462.4 L194.4 462.4 L194.9 462.5 L195.4 462.5 L195.9 462.5 L196.4 462.5 L196.9 462.6 L197.4 462.6 L197.9 462.6 L198.4 462.6 L198.9 462.7 L199.4 462.7 L199.9 462.7 L200.4 462.7 L200.9 462.8 L201.4 462.8 L201.9 462.8 L202.4 462.8 L202.9 462.8 L203.4 462.9 L203.9 462.9 L204.4 462.9 L204.9 462.9 L205.4 462.9 L205.9 463 L206.4 463 L206.9 463 L207.4 463 L207.9 463 L208.4 463.1 L208.9 463.1 L209.4 463.1 L209.9 463.1 L210.4 463.1 L210.9 463.1 L211.4 463.2 L211.9 463.2 L212.4 463.2 L212.9 463.2 L213.4 463.2 L213.9 463.2 L214.4 463.2 L214.9 463.3 L215.4 463.3 L215.9 463.3 L216.4 463.3 L216.9 463.3 L217.4 463.3 L217.9 463.3 L218.4 463.3 L218.9 463.4 L219.4 463.4 L219.9 463.4 L220.4 463.4 L220.9 463.4 L221.4 463.4 L221.9 463.4 L222.4 463.4 L222.9 463.4 L223.4 463.4 L223.9 463.4 L224.4 463.5 L224.9 463.5 L225.4 463.5 L225.9 463.5 L226.4 463.5 L226.9 463.5 L227.4 463.5 L227.9 463.5 L228.4 463.5 L228.9 463.5 L229.4 463.5 L229.9 463.5 L230.4 463.5 L230.9 463.6 L231.4 463.6 L231.9 463.6 L232.4 463.6 L232.9 463.6 L233.4 463.6 L233.9 463.6 L234.4 463.6 L234.9 463.6 L235.4 463.6 L235.9 463.6 L236.4 463.6 L236.9 463.6 L237.4 463.6 L237.9 463.6 L238.4 463.7 L238.9 463.7 L239.4 463.7 L239.9 463.7 L240.4 463.7 L240.9 463.7 L241.4 463.7 L241.9 463.7 L242.4 463.7 L242.9 463.7 L243.4 463.7 L243.9 463.7 L244.4 463.7 L244.9 463.7 L245.4 463.7 L245.9 463.7 L246.4 463.7 L246.9 463.8 L247.4 463.8 L247.9 463.8 L248.4 463.8 L248.9 463.8 L249.4 463.8 L249.9 463.8 L250.4 463.8 L250.9 463.8 L251.4 463.8 L251.9 463.8 L252.4 463.8 L252.9 463.8 L253.4 463.8 L253.9 463.8 L254.4 463.8 L254.9 463.8 L255.4 463.8 L255.9 463.9 L256.4 463.9 L256.9 463.9 L257.4 463.9 L257.9 463.9 L258.4 463.9 L258.9 463.9 L259.4 463.9" fill="none" stroke="#3d9bd6" stroke-width="1.2" stroke-linejoin="round" stroke-linecap="round"/>
<path d="M31.4 460.1 L31.9 460.1 L32.4 460.1 L32.9 460.1 L33.4 460.1 L33.9 460.1 L34.4 460.1 L34.9 460.1 L35.4 460.1 L35.9 460.1 L36.4 460.1 L36.9 460.1 L37.4 460.1 L37.9 460.1 L38.4 460.2 L38.9 460.2 L39.4 460.2 L39.9 460.2 L40.4 460.2 L40.9 460.2 L41.4 460.2 L41.9 460.2 L42.4 460.2 L42.9 460.2 L43.4 460.2 L43.9 460.2 L44.4 460.2 L44.9 460.2 L45.4 460.2 L45.9 460.2 L46.4 460.2 L46.9 460.2 L47.4 460.2 L47.9 460.3 L48.4 460.3 L48.9 460.3 L49.4 460.3 L49.9 460.3 L50.4 460.3 L50.9 460.3 L51.4 460.3 L51.9 460.3 L52.4 460.3 L52.9 460.3 L53.4 460.3 L53.9 460.3 L54.4 460.3 L54.9 460.3 L55.4 460.3 L55.9 460.3 L56.4 460.3 L56.9 460.3 L57.4 460.4 L57.9 460.4 L58.4 460.4 L58.9 460.4 L59.4 460.4 L59.9 460.4 L60.4 460.4 L60.9 460.4 L61.4 460.4 L61.9 460.4 L62.4 460.4 L62.9 460.4 L63.4 460.4 L63.9 460.4 L64.4 460.4 L64.9 460.4 L65.4 460.4 L65.9 460.4 L66.4 460.4 L66.9 460.4 L67.4 460.5 L67.9 460.5 L68.4 460.5 L68.9 460.5 L69.4 460.5 L69.9 460.5 L70.4 460.5 L70.9 460.5 L71.4 460.5 L71.9 460.5 L72.4 460.5 L72.9 460.5 L73.4 460.5 L73.9 460.5 L74.4 460.5 L74.9 460.5 L75.4 460.5 L75.9 460.5 L76.4 460.5 L76.9 460.5 L77.4 460.6 L77.9 460.6 L78.4 460.6 L78.9 460.6 L79.4 460.6 L79.9 460.6 L80.4 460.6 L80.9 460.6 L81.4 460.6 L81.9 460.6 L82.4 460.6 L82.9 460.6 L83.4 460.6 L83.9 460.6 L84.4 460.6 L84.9 460.6 L85.4 460.6 L85.9 460.6 L86.4 460.6 L86.9 460.6 L87.4 460.7 L87.9 460.7 L88.4 460.7 L88.9 460.7 L89.4 460.7 L89.9 460.7 L90.4 460.7 L90.9 460.7 L91.4 460.7 L91.9 460.7 L92.4 460.7 L92.9 460.7 L93.4 460.7 L93.9 460.7 L94.4 460.7 L94.9 460.7 L95.4 460.7 L95.9 460.7 L96.4 460.7 L96.9 460.7 L97.4 460.7 L97.9 460.8 L98.4 460.8 L98.9 460.8 L99.4 460.8 L99.9 460.8 L100.4 460.8 L100.9 460.8 L101.4 460.8 L101.9 460.8 L102.4 460.8 L102.9 460.8 L103.4 460.8 L103.9 460.8 L104.4 460.8 L104.9 460.8 L105.4 460.8 L105.9 460.8 L106.4 460.8 L106.9 460.8 L107.4 460.8 L107.9 460.8 L108.4 460.8 L108.9 460.8 L109.4 460.9 L109.9 460.9 L110.4 460.9 L110.9 460.9 L111.4 460.9 L111.9 460.9 L112.4 460.9 L112.9 460.9 L113.4 460.9 L113.9 460.9 L114.4 460.9 L114.9 460.9 L115.4 460.9 L115.9 460.9 L116.4 460.9 L116.9 460.9 L117.4 460.9 L117.9 460.9 L118.4 460.9 L118.9 460.9 L119.4 460.9 L119.9 460.9 L120.4 460.8 L120.9 460.8 L121.4 460.8 L121.9 460.8 L122.4 460.8 L122.9 460.8 L123.4 460.8 L123.9 460.7 L124.4 460.7 L124.9 460.7 L125.4 460.7 L125.9 460.6 L126.4 460.6 L126.9 460.6 L127.4 460.5 L127.9 460.5 L128.4 460.4 L128.9 460.4 L129.4 460.3 L129.9 460.2 L130.4 460.2 L130.9 460.1 L131.4 460 L131.9 459.9 L132.4 459.9 L132.9 459.8 L133.4 459.7 L133.9 459.6 L134.4 459.5 L134.9 459.4 L135.4 459.2 L135.9 459.1 L136.4 459 L136.9 458.9 L137.4 458.8 L137.9 458.6 L138.4 458.5 L138.9 458.3 L139.4 458.2 L139.9 458.1 L140.4 457.9 L140.9 457.8 L141.4 457.7 L141.9 457.5 L142.4 457.4 L142.9 457.2 L143.4 457.1 L143.9 457 L144.4 456.9 L144.9 456.8 L145.4 456.6 L145.9 456.5 L146.4 456.4 L146.9 456.4 L147.4 456.3 L147.9 456.2 L148.4 456.1 L148.9 456.1 L149.4 456 L149.9 456 L150.4 456 L150.9 455.9 L151.4 455.9 L151.9 455.9 L152.4 455.9 L152.9 455.9 L153.4 456 L153.9 456 L154.4 456 L154.9 456.1 L155.4 456.1 L155.9 456.2 L156.4 456.3 L156.9 456.3 L157.4 456.4 L157.9 456.4 L158.4 456.5 L158.9 456.6 L159.4 456.6 L159.9 456.7 L160.4 456.7 L160.9 456.8 L161.4 456.8 L161.9 456.8 L162.4 456.8 L162.9 456.8 L163.4 456.7 L163.9 456.7 L164.4 456.6 L164.9 456.5 L165.4 456.4 L165.9 456.3 L166.4 456.1 L166.9 455.9 L167.4 455.7 L167.9 455.5 L168.4 455.2 L168.9 454.9 L169.4 454.6 L169.9 454.3 L170.4 454 L170.9 453.6 L171.4 453.2 L171.9 452.8 L172.4 452.4 L172.9 452 L173.4 451.5 L173.9 451.1 L174.4 450.6 L174.9 450.2 L175.4 449.8 L175.9 449.3 L176.4 448.9 L176.9 448.5 L177.4 448.1 L177.9 447.7 L178.4 447.3 L178.9 446.9 L179.4 446.5 L179.9 446.2 L180.4 445.9 L180.9 445.5 L181.4 445.2 L181.9 444.8 L182.4 444.5 L182.9 444.1 L183.4 443.7 L183.9 443.3 L184.4 442.8 L184.9 442.3 L185.4 441.7 L185.9 441 L186.4 440.3 L186.9 439.5 L187.4 438.6 L187.9 437.6 L188.4 436.5 L188.9 435.3 L189.4 434 L189.9 432.6 L190.4 431.2 L190.9 429.6 L191.4 428 L191.9 426.4 L192.4 424.7 L192.9 423 L193.4 421.3 L193.9 419.7 L194.4 418.1 L194.9 416.5 L195.4 415.1 L195.9 413.8 L196.4 412.7 L196.9 411.7 L197.4 411 L197.9 410.5 L198.4 410.2 L198.9 410.1 L199.4 410.4 L199.9 410.8 L200.4 411.5 L200.9 412.3 L201.4 413.4 L201.9 414.6 L202.4 416 L202.9 417.6 L203.4 419.2 L203.9 421 L204.4 422.9 L204.9 424.8 L205.4 426.8 L205.9 428.8 L206.4 430.9 L206.9 432.9 L207.4 434.9 L207.9 436.8 L208.4 438.7 L208.9 440.6 L209.4 442.4 L209.9 444.1 L210.4 445.7 L210.9 447.3 L211.4 448.7 L211.9 450.1 L212.4 451.3 L212.9 452.5 L213.4 453.6 L213.9 454.6 L214.4 455.5 L214.9 456.3 L215.4 457.1 L215.9 457.7 L216.4 458.3 L216.9 458.9 L217.4 459.4 L217.9 459.8 L218.4 460.2 L218.9 460.5 L219.4 460.8 L219.9 461.1 L220.4 461.3 L220.9 461.5 L221.4 461.7 L221.9 461.8 L222.4 462 L222.9 462.1 L223.4 462.2 L223.9 462.3 L224.4 462.4 L224.9 462.4 L225.4 462.5 L225.9 462.6 L226.4 462.6 L226.9 462.7 L227.4 462.7 L227.9 462.7 L228.4 462.8 L228.9 462.8 L229.4 462.9 L229.9 462.9 L230.4 462.9 L230.9 462.9 L231.4 463 L231.9 463 L232.4 463 L232.9 463 L233.4 463.1 L233.9 463.1 L234.4 463.1 L234.9 463.1 L235.4 463.1 L235.9 463.2 L236.4 463.2 L236.9 463.2 L237.4 463.2 L237.9 463.2 L238.4 463.2 L238.9 463.3 L239.4 463.3 L239.9 463.3 L240.4 463.3 L240.9 463.3 L241.4 463.3 L241.9 463.3 L242.4 463.4 L242.9 463.4 L243.4 463.4 L243.9 463.4 L244.4 463.4 L244.9 463.4 L245.4 463.4 L245.9 463.4 L246.4 463.5 L246.9 463.5 L247.4 463.5 L247.9 463.5 L248.4 463.5 L248.9 463.5 L249.4 463.5 L249.9 463.5 L250.4 463.5 L250.9 463.5 L251.4 463.6 L251.9 463.6 L252.4 463.6 L252.9 463.6 L253.4 463.6 L253.9 463.6 L254.4 463.6 L254.9 463.6 L255.4 463.6 L255.9 463.6 L256.4 463.7 L256.9 463.7 L257.4 463.7 L257.9 463.7 L258.4 463.7 L258.9 463.7 L259.4 463.7" fill="none" stroke="#2b8bcb" stroke-width="1.45" stroke-linejoin="round" stroke-linecap="round"/>
</g>
<g>
<path d="M130.9 544.2 L131.4 544.2 L131.9 544.2 L132.4 544.2 L132.9 544.2 L133.4 544.2 L133.9 544.2 L134.4 544.2 L134.9 544.2 L135.4 544.2 L135.9 544.2 L136.4 544.2 L136.9 544.2 L137.4 544.2 L137.9 544.2 L138.4 544.2 L138.9 544.2 L139.4 544.2 L139.9 544.2 L140.4 544.2 L140.9 544.2 L141.4 544.2 L141.9 544.2 L142.4 544.2 L142.9 544.2 L143.4 544.2 L143.9 544.2 L144.4 544.2 L144.9 544.2 L145.4 544.2 L145.9 544.2 L146.4 544.2 L146.9 544.2 L147.4 544.2 L147.9 544.2 L148.4 544.2 L148.9 544.2 L149.4 544.2 L149.9 544.2 L150.4 544.2 L150.9 544.2 L151.4 544.2 L151.9 544.2 L152.4 544.2 L152.9 544.2 L153.4 544.2 L153.9 544.2 L154.4 544.2 L154.9 544.2 L155.4 544.2 L155.9 544.2 L156.4 544.2 L156.9 544.2 L157.4 544.2 L157.9 544.2 L158.4 544.2 L158.9 544.2 L159.4 544.2 L159.9 544.2 L160.4 544.2 L160.9 544.2 L161.4 544.2 L161.9 544.2 L162.4 544.2 L162.9 544.2 L163.4 544.1 L163.9 544.1 L164.4 544.1 L164.9 544.1 L165.4 544.1 L165.9 544.1 L166.4 544.1 L166.9 544.1 L167.4 544.1 L167.9 544.1 L168.4 544.1 L168.9 544 L169.4 544 L169.9 544 L170.4 544 L170.9 544 L171.4 543.9 L171.9 543.9 L172.4 543.9 L172.9 543.8 L173.4 543.8 L173.9 543.8 L174.4 543.7 L174.9 543.6 L175.4 543.5 L175.9 543.5 L176.4 543.3 L176.9 543.2 L177.4 543.1 L177.9 542.9 L178.4 542.7 L178.9 542.5 L179.4 542.2 L179.9 541.9 L180.4 541.5 L180.9 541.1 L181.4 540.7 L181.9 540.1 L182.4 539.5 L182.9 538.8 L183.4 538.1 L183.9 537.2 L184.4 536.3 L184.9 535.3 L185.4 534.2 L185.9 532.9 L186.4 531.6 L186.9 530.1 L187.4 528.6 L187.9 527 L188.4 525.2 L188.9 523.4 L189.4 521.5 L189.9 519.5 L190.4 517.5 L190.9 515.4 L191.4 513.3 L191.9 511.2 L192.4 509.1 L192.9 507.1 L193.4 505.1 L193.9 503.2 L194.4 501.4 L194.9 499.7 L195.4 498.2 L195.9 496.8 L196.4 495.7 L196.9 494.8 L197.4 494.1 L197.9 493.7 L198.4 493.6 L198.9 493.7 L199.4 494 L199.9 494.6 L200.4 495.4 L200.9 496.4 L201.4 497.6 L201.9 499 L202.4 500.5 L202.9 502.2 L203.4 503.9 L203.9 505.8 L204.4 507.7 L204.9 509.7 L205.4 511.7 L205.9 513.7 L206.4 515.8 L206.9 517.8 L207.4 519.7 L207.9 521.6 L208.4 523.5 L208.9 525.3 L209.4 527 L209.9 528.6 L210.4 530.1 L210.9 531.6 L211.4 532.9 L211.9 534.2 L212.4 535.3 L212.9 536.4 L213.4 537.4 L213.9 538.3 L214.4 539.1 L214.9 539.8 L215.4 540.5 L215.9 541.1 L216.4 541.6 L216.9 542.1 L217.4 542.5 L217.9 542.8 L218.4 543.2 L218.9 543.5 L219.4 543.7 L219.9 543.9 L220.4 544.1 L220.9 544.3 L221.4 544.4 L221.9 544.6 L222.4 544.7 L222.9 544.8 L223.4 544.9 L223.9 544.9 L224.4 545 L224.9 545.1 L225.4 545.1 L225.9 545.2 L226.4 545.2 L226.9 545.3 L227.4 545.3 L227.9 545.3 L228.4 545.4 L228.9 545.4 L229.4 545.4 L229.9 545.4 L230.4 545.5 L230.9 545.5 L231.4 545.5 L231.9 545.5 L232.4 545.6 L232.9 545.6 L233.4 545.6 L233.9 545.6 L234.4 545.6 L234.9 545.6 L235.4 545.7 L235.9 545.7 L236.4 545.7 L236.9 545.7 L237.4 545.7 L237.9 545.7 L238.4 545.7 L238.9 545.8 L239.4 545.8 L239.9 545.8 L240.4 545.8 L240.9 545.8 L241.4 545.8 L241.9 545.8 L242.4 545.8 L242.9 545.9 L243.4 545.9 L243.9 545.9 L244.4 545.9 L244.9 545.9 L245.4 545.9 L245.9 545.9 L246.4 545.9 L246.9 545.9 L247.4 545.9 L247.9 546 L248.4 546 L248.9 546 L249.4 546 L249.9 546 L250.4 546 L250.9 546 L251.4 546 L251.9 546 L252.4 546 L252.9 546 L253.4 546 L253.9 546.1 L254.4 546.1 L254.9 546.1 L255.4 546.1 L255.9 546.1 L256.4 546.1 L256.9 546.1 L257.4 546.1 L257.9 546.1 L258.4 546.1 L258.9 546.1 L259.4 546.1 L259.4 546.3 L258.9 546.3 L258.4 546.3 L257.9 546.3 L257.4 546.3 L256.9 546.3 L256.4 546.3 L255.9 546.3 L255.4 546.3 L254.9 546.3 L254.4 546.3 L253.9 546.2 L253.4 546.2 L252.9 546.2 L252.4 546.2 L251.9 546.2 L251.4 546.2 L250.9 546.2 L250.4 546.2 L249.9 546.2 L249.4 546.2 L248.9 546.2 L248.4 546.2 L247.9 546.2 L247.4 546.2 L246.9 546.2 L246.4 546.2 L245.9 546.2 L245.4 546.2 L244.9 546.2 L244.4 546.2 L243.9 546.2 L243.4 546.2 L242.9 546.2 L242.4 546.2 L241.9 546.1 L241.4 546.1 L240.9 546.1 L240.4 546.1 L239.9 546.1 L239.4 546.1 L238.9 546.1 L238.4 546.1 L237.9 546.1 L237.4 546.1 L236.9 546.1 L236.4 546.1 L235.9 546.1 L235.4 546.1 L234.9 546.1 L234.4 546.1 L233.9 546.1 L233.4 546.1 L232.9 546.1 L232.4 546.1 L231.9 546.1 L231.4 546.1 L230.9 546 L230.4 546 L229.9 546 L229.4 546 L228.9 546 L228.4 546 L227.9 546 L227.4 546 L226.9 546 L226.4 546 L225.9 546 L225.4 546 L224.9 546 L224.4 546 L223.9 546 L223.4 546 L222.9 546 L222.4 545.9 L221.9 545.9 L221.4 545.9 L220.9 545.9 L220.4 545.9 L219.9 545.9 L219.4 545.9 L218.9 545.9 L218.4 545.9 L217.9 545.9 L217.4 545.9 L216.9 545.9 L216.4 545.9 L215.9 545.8 L215.4 545.8 L214.9 545.8 L214.4 545.8 L213.9 545.8 L213.4 545.8 L212.9 545.8 L212.4 545.8 L211.9 545.8 L211.4 545.8 L210.9 545.7 L210.4 545.7 L209.9 545.7 L209.4 545.7 L208.9 545.7 L208.4 545.7 L207.9 545.7 L207.4 545.7 L206.9 545.6 L206.4 545.6 L205.9 545.6 L205.4 545.6 L204.9 545.6 L204.4 545.6 L203.9 545.6 L203.4 545.5 L202.9 545.5 L202.4 545.5 L201.9 545.5 L201.4 545.5 L200.9 545.5 L200.4 545.4 L199.9 545.4 L199.4 545.4 L198.9 545.4 L198.4 545.4 L197.9 545.4 L197.4 545.3 L196.9 545.3 L196.4 545.3 L195.9 545.3 L195.4 545.3 L194.9 545.2 L194.4 545.2 L193.9 545.2 L193.4 545.2 L192.9 545.2 L192.4 545.2 L191.9 545.1 L191.4 545.1 L190.9 545.1 L190.4 545.1 L189.9 545.1 L189.4 545.1 L188.9 545 L188.4 545 L187.9 545 L187.4 545 L186.9 545 L186.4 545 L185.9 545 L185.4 544.9 L184.9 544.9 L184.4 544.9 L183.9 544.9 L183.4 544.9 L182.9 544.9 L182.4 544.9 L181.9 544.9 L181.4 544.8 L180.9 544.8 L180.4 544.8 L179.9 544.8 L179.4 544.8 L178.9 544.8 L178.4 544.8 L177.9 544.8 L177.4 544.8 L176.9 544.8 L176.4 544.7 L175.9 544.7 L175.4 544.7 L174.9 544.7 L174.4 544.7 L173.9 544.7 L173.4 544.7 L172.9 544.7 L172.4 544.7 L171.9 544.7 L171.4 544.7 L170.9 544.7 L170.4 544.7 L169.9 544.7 L169.4 544.6 L168.9 544.6 L168.4 544.6 L167.9 544.6 L167.4 544.6 L166.9 544.6 L166.4 544.6 L165.9 544.6 L165.4 544.6 L164.9 544.6 L164.4 544.6 L163.9 544.6 L163.4 544.6 L162.9 544.6 L162.4 544.6 L161.9 544.6 L161.4 544.6 L160.9 544.6 L160.4 544.5 L159.9 544.5 L159.4 544.5 L158.9 544.5 L158.4 544.5 L157.9 544.5 L157.4 544.5 L156.9 544.5 L156.4 544.5 L155.9 544.5 L155.4 544.5 L154.9 544.5 L154.4 544.5 L153.9 544.5 L153.4 544.5 L152.9 544.5 L152.4 544.5 L151.9 544.5 L151.4 544.5 L150.9 544.5 L150.4 544.5 L149.9 544.4 L149.4 544.4 L148.9 544.4 L148.4 544.4 L147.9 544.4 L147.4 544.4 L146.9 544.4 L146.4 544.4 L145.9 544.4 L145.4 544.4 L144.9 544.4 L144.4 544.4 L143.9 544.4 L143.4 544.4 L142.9 544.4 L142.4 544.4 L141.9 544.4 L141.4 544.4 L140.9 544.4 L140.4 544.4 L139.9 544.4 L139.4 544.4 L138.9 544.4 L138.4 544.4 L137.9 544.4 L137.4 544.3 L136.9 544.3 L136.4 544.3 L135.9 544.3 L135.4 544.3 L134.9 544.3 L134.4 544.3 L133.9 544.3 L133.4 544.3 L132.9 544.3 L132.4 544.3 L131.9 544.3 L131.4 544.3 L130.9 544.3Z" fill="url(#g1)" stroke="#9fd8d6" stroke-width="0.5"/>
<path d="M151.4 544.3 L151.9 544.3 L152.4 544.3 L152.9 544.3 L153.4 544.3 L153.9 544.3 L154.4 544.3 L154.9 544.3 L155.4 544.2 L155.9 544.2 L156.4 544.2 L156.9 544.2 L157.4 544.1 L157.9 544.1 L158.4 544 L158.9 544 L159.4 543.9 L159.9 543.8 L160.4 543.7 L160.9 543.7 L161.4 543.5 L161.9 543.4 L162.4 543.3 L162.9 543.2 L163.4 543 L163.9 542.8 L164.4 542.6 L164.9 542.4 L165.4 542.2 L165.9 542 L166.4 541.7 L166.9 541.5 L167.4 541.2 L167.9 540.9 L168.4 540.6 L168.9 540.3 L169.4 540 L169.9 539.6 L170.4 539.3 L170.9 539 L171.4 538.6 L171.9 538.3 L172.4 538 L172.9 537.7 L173.4 537.4 L173.9 537.1 L174.4 536.8 L174.9 536.5 L175.4 536.3 L175.9 536.1 L176.4 535.9 L176.9 535.8 L177.4 535.7 L177.9 535.6 L178.4 535.6 L178.9 535.6 L179.4 535.6 L179.9 535.7 L180.4 535.8 L180.9 536 L181.4 536.2 L181.9 536.4 L182.4 536.6 L182.9 536.9 L183.4 537.2 L183.9 537.5 L184.4 537.8 L184.9 538.2 L185.4 538.5 L185.9 538.9 L186.4 539.2 L186.9 539.6 L187.4 539.9 L187.9 540.3 L188.4 540.6 L188.9 541 L189.4 541.3 L189.9 541.6 L190.4 541.9 L190.9 542.2 L191.4 542.5 L191.9 542.7 L192.4 543 L192.9 543.2 L193.4 543.4 L193.9 543.6 L194.4 543.8 L194.9 543.9 L195.4 544.1 L195.9 544.2 L196.4 544.4 L196.9 544.5 L197.4 544.6 L197.9 544.7 L198.4 544.8 L198.9 544.9 L199.4 545 L199.9 545 L200.4 545.1 L200.9 545.1 L201.4 545.2 L201.9 545.2 L202.4 545.3 L202.9 545.3 L203.4 545.3 L203.9 545.4 L204.4 545.4 L204.9 545.4 L205.4 545.5 L205.9 545.5 L205.9 545.6 L205.4 545.6 L204.9 545.6 L204.4 545.6 L203.9 545.6 L203.4 545.5 L202.9 545.5 L202.4 545.5 L201.9 545.5 L201.4 545.5 L200.9 545.5 L200.4 545.4 L199.9 545.4 L199.4 545.4 L198.9 545.4 L198.4 545.4 L197.9 545.4 L197.4 545.3 L196.9 545.3 L196.4 545.3 L195.9 545.3 L195.4 545.3 L194.9 545.2 L194.4 545.2 L193.9 545.2 L193.4 545.2 L192.9 545.2 L192.4 545.2 L191.9 545.1 L191.4 545.1 L190.9 545.1 L190.4 545.1 L189.9 545.1 L189.4 545.1 L188.9 545 L188.4 545 L187.9 545 L187.4 545 L186.9 545 L186.4 545 L185.9 545 L185.4 544.9 L184.9 544.9 L184.4 544.9 L183.9 544.9 L183.4 544.9 L182.9 544.9 L182.4 544.9 L181.9 544.9 L181.4 544.8 L180.9 544.8 L180.4 544.8 L179.9 544.8 L179.4 544.8 L178.9 544.8 L178.4 544.8 L177.9 544.8 L177.4 544.8 L176.9 544.8 L176.4 544.7 L175.9 544.7 L175.4 544.7 L174.9 544.7 L174.4 544.7 L173.9 544.7 L173.4 544.7 L172.9 544.7 L172.4 544.7 L171.9 544.7 L171.4 544.7 L170.9 544.7 L170.4 544.7 L169.9 544.7 L169.4 544.6 L168.9 544.6 L168.4 544.6 L167.9 544.6 L167.4 544.6 L166.9 544.6 L166.4 544.6 L165.9 544.6 L165.4 544.6 L164.9 544.6 L164.4 544.6 L163.9 544.6 L163.4 544.6 L162.9 544.6 L162.4 544.6 L161.9 544.6 L161.4 544.6 L160.9 544.6 L160.4 544.5 L159.9 544.5 L159.4 544.5 L158.9 544.5 L158.4 544.5 L157.9 544.5 L157.4 544.5 L156.9 544.5 L156.4 544.5 L155.9 544.5 L155.4 544.5 L154.9 544.5 L154.4 544.5 L153.9 544.5 L153.4 544.5 L152.9 544.5 L152.4 544.5 L151.9 544.5 L151.4 544.5Z" fill="url(#g2)" stroke="#6fbac6" stroke-width="0.5"/>
<path d="M126.4 544.1 L126.9 544.1 L127.4 544.1 L127.9 544 L128.4 544 L128.9 544 L129.4 543.9 L129.9 543.9 L130.4 543.8 L130.9 543.8 L131.4 543.7 L131.9 543.6 L132.4 543.6 L132.9 543.5 L133.4 543.4 L133.9 543.3 L134.4 543.2 L134.9 543.1 L135.4 542.9 L135.9 542.8 L136.4 542.7 L136.9 542.5 L137.4 542.3 L137.9 542.2 L138.4 542 L138.9 541.8 L139.4 541.7 L139.9 541.5 L140.4 541.3 L140.9 541.1 L141.4 540.9 L141.9 540.7 L142.4 540.5 L142.9 540.4 L143.4 540.2 L143.9 540 L144.4 539.9 L144.9 539.7 L145.4 539.6 L145.9 539.4 L146.4 539.3 L146.9 539.2 L147.4 539.2 L147.9 539.1 L148.4 539.1 L148.9 539 L149.4 539 L149.9 539.1 L150.4 539.1 L150.9 539.1 L151.4 539.2 L151.9 539.3 L152.4 539.4 L152.9 539.5 L153.4 539.7 L153.9 539.8 L154.4 540 L154.9 540.1 L155.4 540.3 L155.9 540.5 L156.4 540.7 L156.9 540.9 L157.4 541.1 L157.9 541.3 L158.4 541.5 L158.9 541.6 L159.4 541.8 L159.9 542 L160.4 542.2 L160.9 542.4 L161.4 542.6 L161.9 542.7 L162.4 542.9 L162.9 543 L163.4 543.2 L163.9 543.3 L164.4 543.5 L164.9 543.6 L165.4 543.7 L165.9 543.8 L166.4 543.9 L166.9 544 L167.4 544.1 L167.9 544.1 L168.4 544.2 L168.9 544.3 L169.4 544.3 L169.9 544.4 L170.4 544.4 L170.9 544.4 L171.4 544.5 L171.9 544.5 L172.4 544.5 L172.4 544.7 L171.9 544.7 L171.4 544.7 L170.9 544.7 L170.4 544.7 L169.9 544.7 L169.4 544.6 L168.9 544.6 L168.4 544.6 L167.9 544.6 L167.4 544.6 L166.9 544.6 L166.4 544.6 L165.9 544.6 L165.4 544.6 L164.9 544.6 L164.4 544.6 L163.9 544.6 L163.4 544.6 L162.9 544.6 L162.4 544.6 L161.9 544.6 L161.4 544.6 L160.9 544.6 L160.4 544.5 L159.9 544.5 L159.4 544.5 L158.9 544.5 L158.4 544.5 L157.9 544.5 L157.4 544.5 L156.9 544.5 L156.4 544.5 L155.9 544.5 L155.4 544.5 L154.9 544.5 L154.4 544.5 L153.9 544.5 L153.4 544.5 L152.9 544.5 L152.4 544.5 L151.9 544.5 L151.4 544.5 L150.9 544.5 L150.4 544.5 L149.9 544.4 L149.4 544.4 L148.9 544.4 L148.4 544.4 L147.9 544.4 L147.4 544.4 L146.9 544.4 L146.4 544.4 L145.9 544.4 L145.4 544.4 L144.9 544.4 L144.4 544.4 L143.9 544.4 L143.4 544.4 L142.9 544.4 L142.4 544.4 L141.9 544.4 L141.4 544.4 L140.9 544.4 L140.4 544.4 L139.9 544.4 L139.4 544.4 L138.9 544.4 L138.4 544.4 L137.9 544.4 L137.4 544.3 L136.9 544.3 L136.4 544.3 L135.9 544.3 L135.4 544.3 L134.9 544.3 L134.4 544.3 L133.9 544.3 L133.4 544.3 L132.9 544.3 L132.4 544.3 L131.9 544.3 L131.4 544.3 L130.9 544.3 L130.4 544.3 L129.9 544.3 L129.4 544.3 L128.9 544.3 L128.4 544.3 L127.9 544.3 L127.4 544.3 L126.9 544.3 L126.4 544.3Z" fill="url(#g3)" stroke="#74c8a2" stroke-width="0.5"/>
<path d="M31.4 543.5 L31.9 543.5 L32.4 543.5 L32.9 543.5 L33.4 543.5 L33.9 543.5 L34.4 543.5 L34.9 543.5 L35.4 543.5 L35.9 543.5 L36.4 543.5 L36.9 543.5 L37.4 543.6 L37.9 543.6 L38.4 543.6 L38.9 543.6 L39.4 543.6 L39.9 543.6 L40.4 543.6 L40.9 543.6 L41.4 543.6 L41.9 543.6 L42.4 543.6 L42.9 543.6 L43.4 543.6 L43.9 543.6 L44.4 543.6 L44.9 543.6 L45.4 543.6 L45.9 543.6 L46.4 543.6 L46.9 543.6 L47.4 543.6 L47.9 543.6 L48.4 543.6 L48.9 543.6 L49.4 543.6 L49.9 543.7 L50.4 543.7 L50.9 543.7 L51.4 543.7 L51.9 543.7 L52.4 543.7 L52.9 543.7 L53.4 543.7 L53.9 543.7 L54.4 543.7 L54.9 543.7 L55.4 543.7 L55.9 543.7 L56.4 543.7 L56.9 543.7 L57.4 543.7 L57.9 543.7 L58.4 543.7 L58.9 543.7 L59.4 543.7 L59.9 543.7 L60.4 543.7 L60.9 543.7 L61.4 543.7 L61.9 543.7 L62.4 543.8 L62.9 543.8 L63.4 543.8 L63.9 543.8 L64.4 543.8 L64.9 543.8 L65.4 543.8 L65.9 543.8 L66.4 543.8 L66.9 543.8 L67.4 543.8 L67.9 543.8 L68.4 543.8 L68.9 543.8 L69.4 543.8 L69.9 543.8 L70.4 543.8 L70.9 543.8 L71.4 543.8 L71.9 543.8 L72.4 543.8 L72.9 543.8 L73.4 543.8 L73.9 543.8 L74.4 543.8 L74.9 543.8 L75.4 543.9 L75.9 543.9 L76.4 543.9 L76.9 543.9 L77.4 543.9 L77.9 543.9 L78.4 543.9 L78.9 543.9 L79.4 543.9 L79.9 543.9 L80.4 543.9 L80.9 543.9 L81.4 543.9 L81.9 543.9 L82.4 543.9 L82.9 543.9 L83.4 543.9 L83.9 543.9 L84.4 543.9 L84.9 543.9 L85.4 543.9 L85.9 543.9 L86.4 543.9 L86.9 543.9 L87.4 543.9 L87.9 544 L88.4 544 L88.9 544 L89.4 544 L89.9 544 L90.4 544 L90.9 544 L91.4 544 L91.9 544 L92.4 544 L92.9 544 L93.4 544 L93.9 544 L94.4 544 L94.9 544 L95.4 544 L95.9 544 L96.4 544 L96.9 544 L97.4 544 L97.9 544 L98.4 544 L98.9 544 L99.4 544 L99.9 544 L100.4 544.1 L100.9 544.1 L101.4 544.1 L101.9 544.1 L102.4 544.1 L102.9 544.1 L103.4 544.1 L103.9 544.1 L104.4 544.1 L104.9 544.1 L105.4 544.1 L105.9 544.1 L106.4 544.1 L106.9 544.1 L107.4 544.1 L107.9 544.1 L108.4 544.1 L108.9 544.1 L109.4 544.1 L109.9 544.1 L110.4 544.1 L110.9 544.1 L111.4 544.1 L111.9 544.1 L112.4 544.1 L112.9 544.2 L113.4 544.2 L113.9 544.2 L114.4 544.2 L114.9 544.2 L115.4 544.2 L115.9 544.2 L116.4 544.2 L116.9 544.2 L117.4 544.2 L117.9 544.2 L118.4 544.2 L118.9 544.2 L119.4 544.2 L119.9 544.2 L120.4 544.2 L120.9 544.2 L121.4 544.2 L121.9 544.2 L122.4 544.2 L122.9 544.2 L123.4 544.2 L123.9 544.2 L124.4 544.2 L124.9 544.2 L125.4 544.3 L125.9 544.3 L126.4 544.3 L126.9 544.3 L127.4 544.3 L127.9 544.3 L128.4 544.3 L128.9 544.3 L129.4 544.3 L129.9 544.3 L130.4 544.3 L130.9 544.3 L131.4 544.3 L131.9 544.3 L132.4 544.3 L132.9 544.3 L133.4 544.3 L133.9 544.3 L134.4 544.3 L134.9 544.3 L135.4 544.3 L135.9 544.3 L136.4 544.3 L136.9 544.3 L137.4 544.3 L137.9 544.4 L138.4 544.4 L138.9 544.4 L139.4 544.4 L139.9 544.4 L140.4 544.4 L140.9 544.4 L141.4 544.4 L141.9 544.4 L142.4 544.4 L142.9 544.4 L143.4 544.4 L143.9 544.4 L144.4 544.4 L144.9 544.4 L145.4 544.4 L145.9 544.4 L146.4 544.4 L146.9 544.4 L147.4 544.4 L147.9 544.4 L148.4 544.4 L148.9 544.4 L149.4 544.4 L149.9 544.4 L150.4 544.5 L150.9 544.5 L151.4 544.5 L151.9 544.5 L152.4 544.5 L152.9 544.5 L153.4 544.5 L153.9 544.5 L154.4 544.5 L154.9 544.5 L155.4 544.5 L155.9 544.5 L156.4 544.5 L156.9 544.5 L157.4 544.5 L157.9 544.5 L158.4 544.5 L158.9 544.5 L159.4 544.5 L159.9 544.5 L160.4 544.5 L160.9 544.6 L161.4 544.6 L161.9 544.6 L162.4 544.6 L162.9 544.6 L163.4 544.6 L163.9 544.6 L164.4 544.6 L164.9 544.6 L165.4 544.6 L165.9 544.6 L166.4 544.6 L166.9 544.6 L167.4 544.6 L167.9 544.6 L168.4 544.6 L168.9 544.6 L169.4 544.6 L169.9 544.7 L170.4 544.7 L170.9 544.7 L171.4 544.7 L171.9 544.7 L172.4 544.7 L172.9 544.7 L173.4 544.7 L173.9 544.7 L174.4 544.7 L174.9 544.7 L175.4 544.7 L175.9 544.7 L176.4 544.7 L176.9 544.8 L177.4 544.8 L177.9 544.8 L178.4 544.8 L178.9 544.8 L179.4 544.8 L179.9 544.8 L180.4 544.8 L180.9 544.8 L181.4 544.8 L181.9 544.9 L182.4 544.9 L182.9 544.9 L183.4 544.9 L183.9 544.9 L184.4 544.9 L184.9 544.9 L185.4 544.9 L185.9 545 L186.4 545 L186.9 545 L187.4 545 L187.9 545 L188.4 545 L188.9 545 L189.4 545.1 L189.9 545.1 L190.4 545.1 L190.9 545.1 L191.4 545.1 L191.9 545.1 L192.4 545.2 L192.9 545.2 L193.4 545.2 L193.9 545.2 L194.4 545.2 L194.9 545.2 L195.4 545.3 L195.9 545.3 L196.4 545.3 L196.9 545.3 L197.4 545.3 L197.9 545.4 L198.4 545.4 L198.9 545.4 L199.4 545.4 L199.9 545.4 L200.4 545.4 L200.9 545.5 L201.4 545.5 L201.9 545.5 L202.4 545.5 L202.9 545.5 L203.4 545.5 L203.9 545.6 L204.4 545.6 L204.9 545.6 L205.4 545.6 L205.9 545.6 L206.4 545.6 L206.9 545.6 L207.4 545.7 L207.9 545.7 L208.4 545.7 L208.9 545.7 L209.4 545.7 L209.9 545.7 L210.4 545.7 L210.9 545.7 L211.4 545.8 L211.9 545.8 L212.4 545.8 L212.9 545.8 L213.4 545.8 L213.9 545.8 L214.4 545.8 L214.9 545.8 L215.4 545.8 L215.9 545.8 L216.4 545.9 L216.9 545.9 L217.4 545.9 L217.9 545.9 L218.4 545.9 L218.9 545.9 L219.4 545.9 L219.9 545.9 L220.4 545.9 L220.9 545.9 L221.4 545.9 L221.9 545.9 L222.4 545.9 L222.9 546 L223.4 546 L223.9 546 L224.4 546 L224.9 546 L225.4 546 L225.9 546 L226.4 546 L226.9 546 L227.4 546 L227.9 546 L228.4 546 L228.9 546 L229.4 546 L229.9 546 L230.4 546 L230.9 546 L231.4 546.1 L231.9 546.1 L232.4 546.1 L232.9 546.1 L233.4 546.1 L233.9 546.1 L234.4 546.1 L234.9 546.1 L235.4 546.1 L235.9 546.1 L236.4 546.1 L236.9 546.1 L237.4 546.1 L237.9 546.1 L238.4 546.1 L238.9 546.1 L239.4 546.1 L239.9 546.1 L240.4 546.1 L240.9 546.1 L241.4 546.1 L241.9 546.1 L242.4 546.2 L242.9 546.2 L243.4 546.2 L243.9 546.2 L244.4 546.2 L244.9 546.2 L245.4 546.2 L245.9 546.2 L246.4 546.2 L246.9 546.2 L247.4 546.2 L247.9 546.2 L248.4 546.2 L248.9 546.2 L249.4 546.2 L249.9 546.2 L250.4 546.2 L250.9 546.2 L251.4 546.2 L251.9 546.2 L252.4 546.2 L252.9 546.2 L253.4 546.2 L253.9 546.2 L254.4 546.3 L254.9 546.3 L255.4 546.3 L255.9 546.3 L256.4 546.3 L256.9 546.3 L257.4 546.3 L257.9 546.3 L258.4 546.3 L258.9 546.3 L259.4 546.3" fill="none" stroke="#3d9bd6" stroke-width="1.2" stroke-linejoin="round" stroke-linecap="round"/>
<path d="M31.4 543.5 L31.9 543.5 L32.4 543.5 L32.9 543.5 L33.4 543.5 L33.9 543.5 L34.4 543.5 L34.9 543.5 L35.4 543.5 L35.9 543.5 L36.4 543.5 L36.9 543.5 L37.4 543.5 L37.9 543.5 L38.4 543.5 L38.9 543.5 L39.4 543.5 L39.9 543.5 L40.4 543.5 L40.9 543.6 L41.4 543.6 L41.9 543.6 L42.4 543.6 L42.9 543.6 L43.4 543.6 L43.9 543.6 L44.4 543.6 L44.9 543.6 L45.4 543.6 L45.9 543.6 L46.4 543.6 L46.9 543.6 L47.4 543.6 L47.9 543.6 L48.4 543.6 L48.9 543.6 L49.4 543.6 L49.9 543.6 L50.4 543.6 L50.9 543.6 L51.4 543.6 L51.9 543.6 L52.4 543.6 L52.9 543.6 L53.4 543.6 L53.9 543.7 L54.4 543.7 L54.9 543.7 L55.4 543.7 L55.9 543.7 L56.4 543.7 L56.9 543.7 L57.4 543.7 L57.9 543.7 L58.4 543.7 L58.9 543.7 L59.4 543.7 L59.9 543.7 L60.4 543.7 L60.9 543.7 L61.4 543.7 L61.9 543.7 L62.4 543.7 L62.9 543.7 L63.4 543.7 L63.9 543.7 L64.4 543.7 L64.9 543.7 L65.4 543.7 L65.9 543.7 L66.4 543.7 L66.9 543.7 L67.4 543.8 L67.9 543.8 L68.4 543.8 L68.9 543.8 L69.4 543.8 L69.9 543.8 L70.4 543.8 L70.9 543.8 L71.4 543.8 L71.9 543.8 L72.4 543.8 L72.9 543.8 L73.4 543.8 L73.9 543.8 L74.4 543.8 L74.9 543.8 L75.4 543.8 L75.9 543.8 L76.4 543.8 L76.9 543.8 L77.4 543.8 L77.9 543.8 L78.4 543.8 L78.9 543.8 L79.4 543.8 L79.9 543.8 L80.4 543.8 L80.9 543.8 L81.4 543.9 L81.9 543.9 L82.4 543.9 L82.9 543.9 L83.4 543.9 L83.9 543.9 L84.4 543.9 L84.9 543.9 L85.4 543.9 L85.9 543.9 L86.4 543.9 L86.9 543.9 L87.4 543.9 L87.9 543.9 L88.4 543.9 L88.9 543.9 L89.4 543.9 L89.9 543.9 L90.4 543.9 L90.9 543.9 L91.4 543.9 L91.9 543.9 L92.4 543.9 L92.9 543.9 L93.4 543.9 L93.9 543.9 L94.4 543.9 L94.9 543.9 L95.4 543.9 L95.9 544 L96.4 544 L96.9 544 L97.4 544 L97.9 544 L98.4 544 L98.9 544 L99.4 544 L99.9 544 L100.4 544 L100.9 544 L101.4 544 L101.9 544 L102.4 544 L102.9 544 L103.4 544 L103.9 544 L104.4 544 L104.9 544 L105.4 544 L105.9 544 L106.4 544 L106.9 544 L107.4 544 L107.9 544 L108.4 544 L108.9 544 L109.4 544 L109.9 544 L110.4 544 L110.9 544 L111.4 544 L111.9 544.1 L112.4 544.1 L112.9 544.1 L113.4 544.1 L113.9 544.1 L114.4 544.1 L114.9 544.1 L115.4 544.1 L115.9 544.1 L116.4 544.1 L116.9 544.1 L117.4 544.1 L117.9 544.1 L118.4 544.1 L118.9 544.1 L119.4 544.1 L119.9 544.1 L120.4 544.1 L120.9 544.1 L121.4 544.1 L121.9 544.1 L122.4 544.1 L122.9 544.1 L123.4 544.1 L123.9 544.1 L124.4 544 L124.9 544 L125.4 544 L125.9 544 L126.4 544 L126.9 544 L127.4 543.9 L127.9 543.9 L128.4 543.9 L128.9 543.8 L129.4 543.8 L129.9 543.7 L130.4 543.7 L130.9 543.6 L131.4 543.6 L131.9 543.5 L132.4 543.4 L132.9 543.3 L133.4 543.2 L133.9 543.1 L134.4 543 L134.9 542.9 L135.4 542.8 L135.9 542.6 L136.4 542.5 L136.9 542.3 L137.4 542.2 L137.9 542 L138.4 541.8 L138.9 541.6 L139.4 541.4 L139.9 541.3 L140.4 541.1 L140.9 540.9 L141.4 540.7 L141.9 540.5 L142.4 540.3 L142.9 540.1 L143.4 539.9 L143.9 539.8 L144.4 539.6 L144.9 539.4 L145.4 539.3 L145.9 539.2 L146.4 539.1 L146.9 539 L147.4 538.9 L147.9 538.8 L148.4 538.8 L148.9 538.7 L149.4 538.7 L149.9 538.7 L150.4 538.8 L150.9 538.8 L151.4 538.8 L151.9 538.9 L152.4 539 L152.9 539.1 L153.4 539.2 L153.9 539.3 L154.4 539.5 L154.9 539.6 L155.4 539.8 L155.9 539.9 L156.4 540.1 L156.9 540.2 L157.4 540.4 L157.9 540.5 L158.4 540.6 L158.9 540.8 L159.4 540.9 L159.9 541 L160.4 541.1 L160.9 541.1 L161.4 541.2 L161.9 541.2 L162.4 541.2 L162.9 541.2 L163.4 541.2 L163.9 541.1 L164.4 541 L164.9 540.9 L165.4 540.8 L165.9 540.7 L166.4 540.5 L166.9 540.3 L167.4 540.1 L167.9 539.8 L168.4 539.6 L168.9 539.3 L169.4 539 L169.9 538.7 L170.4 538.4 L170.9 538.1 L171.4 537.7 L171.9 537.4 L172.4 537 L172.9 536.7 L173.4 536.4 L173.9 536 L174.4 535.7 L174.9 535.4 L175.4 535.1 L175.9 534.8 L176.4 534.5 L176.9 534.2 L177.4 534 L177.9 533.7 L178.4 533.5 L178.9 533.3 L179.4 533 L179.9 532.8 L180.4 532.5 L180.9 532.3 L181.4 532 L181.9 531.7 L182.4 531.3 L182.9 530.9 L183.4 530.4 L183.9 529.8 L184.4 529.2 L184.9 528.5 L185.4 527.7 L185.9 526.8 L186.4 525.8 L186.9 524.7 L187.4 523.5 L187.9 522.2 L188.4 520.8 L188.9 519.3 L189.4 517.7 L189.9 516 L190.4 514.3 L190.9 512.5 L191.4 510.7 L191.9 508.8 L192.4 506.9 L192.9 505.1 L193.4 503.3 L193.9 501.5 L194.4 499.9 L194.9 498.4 L195.4 497 L195.9 495.8 L196.4 494.8 L196.9 494 L197.4 493.4 L197.9 493.1 L198.4 493 L198.9 493.2 L199.4 493.6 L199.9 494.2 L200.4 495 L200.9 496.1 L201.4 497.3 L201.9 498.7 L202.4 500.3 L202.9 501.9 L203.4 503.7 L203.9 505.6 L204.4 507.6 L204.9 509.6 L205.4 511.6 L205.9 513.6 L206.4 515.6 L206.9 517.6 L207.4 519.6 L207.9 521.5 L208.4 523.4 L208.9 525.2 L209.4 526.9 L209.9 528.5 L210.4 530 L210.9 531.5 L211.4 532.8 L211.9 534.1 L212.4 535.2 L212.9 536.3 L213.4 537.3 L213.9 538.2 L214.4 539 L214.9 539.7 L215.4 540.4 L215.9 541 L216.4 541.5 L216.9 542 L217.4 542.4 L217.9 542.8 L218.4 543.1 L218.9 543.4 L219.4 543.7 L219.9 543.9 L220.4 544.1 L220.9 544.3 L221.4 544.4 L221.9 544.5 L222.4 544.6 L222.9 544.7 L223.4 544.8 L223.9 544.9 L224.4 545 L224.9 545 L225.4 545.1 L225.9 545.1 L226.4 545.2 L226.9 545.2 L227.4 545.3 L227.9 545.3 L228.4 545.3 L228.9 545.4 L229.4 545.4 L229.9 545.4 L230.4 545.4 L230.9 545.5 L231.4 545.5 L231.9 545.5 L232.4 545.5 L232.9 545.5 L233.4 545.6 L233.9 545.6 L234.4 545.6 L234.9 545.6 L235.4 545.6 L235.9 545.6 L236.4 545.7 L236.9 545.7 L237.4 545.7 L237.9 545.7 L238.4 545.7 L238.9 545.7 L239.4 545.7 L239.9 545.8 L240.4 545.8 L240.9 545.8 L241.4 545.8 L241.9 545.8 L242.4 545.8 L242.9 545.8 L243.4 545.8 L243.9 545.9 L244.4 545.9 L244.9 545.9 L245.4 545.9 L245.9 545.9 L246.4 545.9 L246.9 545.9 L247.4 545.9 L247.9 545.9 L248.4 545.9 L248.9 546 L249.4 546 L249.9 546 L250.4 546 L250.9 546 L251.4 546 L251.9 546 L252.4 546 L252.9 546 L253.4 546 L253.9 546 L254.4 546 L254.9 546.1 L255.4 546.1 L255.9 546.1 L256.4 546.1 L256.9 546.1 L257.4 546.1 L257.9 546.1 L258.4 546.1 L258.9 546.1 L259.4 546.1" fill="none" stroke="#2b8bcb" stroke-width="1.45" stroke-linejoin="round" stroke-linecap="round"/>
</g>
<g>
<path d="M130.4 621.5 L130.9 621.5 L131.4 621.5 L131.9 621.5 L132.4 621.5 L132.9 621.5 L133.4 621.5 L133.9 621.5 L134.4 621.5 L134.9 621.5 L135.4 621.5 L135.9 621.5 L136.4 621.5 L136.9 621.5 L137.4 621.5 L137.9 621.5 L138.4 621.5 L138.9 621.5 L139.4 621.5 L139.9 621.6 L140.4 621.6 L140.9 621.6 L141.4 621.6 L141.9 621.6 L142.4 621.6 L142.9 621.6 L143.4 621.6 L143.9 621.6 L144.4 621.6 L144.9 621.6 L145.4 621.6 L145.9 621.6 L146.4 621.6 L146.9 621.6 L147.4 621.6 L147.9 621.6 L148.4 621.6 L148.9 621.6 L149.4 621.6 L149.9 621.6 L150.4 621.6 L150.9 621.6 L151.4 621.6 L151.9 621.6 L152.4 621.6 L152.9 621.6 L153.4 621.6 L153.9 621.6 L154.4 621.6 L154.9 621.6 L155.4 621.6 L155.9 621.6 L156.4 621.6 L156.9 621.6 L157.4 621.6 L157.9 621.6 L158.4 621.6 L158.9 621.6 L159.4 621.6 L159.9 621.6 L160.4 621.6 L160.9 621.6 L161.4 621.6 L161.9 621.6 L162.4 621.6 L162.9 621.5 L163.4 621.5 L163.9 621.5 L164.4 621.5 L164.9 621.5 L165.4 621.5 L165.9 621.5 L166.4 621.5 L166.9 621.5 L167.4 621.5 L167.9 621.5 L168.4 621.5 L168.9 621.4 L169.4 621.4 L169.9 621.4 L170.4 621.4 L170.9 621.4 L171.4 621.3 L171.9 621.3 L172.4 621.3 L172.9 621.2 L173.4 621.2 L173.9 621.1 L174.4 621 L174.9 620.9 L175.4 620.8 L175.9 620.7 L176.4 620.6 L176.9 620.4 L177.4 620.3 L177.9 620.1 L178.4 619.8 L178.9 619.5 L179.4 619.2 L179.9 618.8 L180.4 618.4 L180.9 618 L181.4 617.4 L181.9 616.8 L182.4 616.2 L182.9 615.4 L183.4 614.6 L183.9 613.7 L184.4 612.7 L184.9 611.6 L185.4 610.4 L185.9 609.1 L186.4 607.7 L186.9 606.3 L187.4 604.7 L187.9 603.1 L188.4 601.4 L188.9 599.6 L189.4 597.7 L189.9 595.8 L190.4 593.9 L190.9 592 L191.4 590 L191.9 588.1 L192.4 586.2 L192.9 584.3 L193.4 582.6 L193.9 580.9 L194.4 579.3 L194.9 577.9 L195.4 576.7 L195.9 575.6 L196.4 574.7 L196.9 574.1 L197.4 573.7 L197.9 573.5 L198.4 573.5 L198.9 573.8 L199.4 574.3 L199.9 575 L200.4 575.9 L200.9 576.9 L201.4 578.1 L201.9 579.5 L202.4 581 L202.9 582.6 L203.4 584.3 L203.9 586.1 L204.4 587.9 L204.9 589.8 L205.4 591.7 L205.9 593.6 L206.4 595.4 L206.9 597.3 L207.4 599.1 L207.9 600.9 L208.4 602.6 L208.9 604.2 L209.4 605.8 L209.9 607.3 L210.4 608.7 L210.9 610.1 L211.4 611.3 L211.9 612.5 L212.4 613.6 L212.9 614.6 L213.4 615.5 L213.9 616.3 L214.4 617.1 L214.9 617.8 L215.4 618.4 L215.9 619 L216.4 619.5 L216.9 619.9 L217.4 620.3 L217.9 620.7 L218.4 621 L218.9 621.3 L219.4 621.5 L219.9 621.7 L220.4 621.9 L220.9 622.1 L221.4 622.2 L221.9 622.4 L222.4 622.5 L222.9 622.6 L223.4 622.7 L223.9 622.8 L224.4 622.8 L224.9 622.9 L225.4 623 L225.9 623 L226.4 623 L226.9 623.1 L227.4 623.1 L227.9 623.2 L228.4 623.2 L228.9 623.2 L229.4 623.3 L229.9 623.3 L230.4 623.3 L230.9 623.3 L231.4 623.4 L231.9 623.4 L232.4 623.4 L232.9 623.4 L233.4 623.4 L233.9 623.5 L234.4 623.5 L234.9 623.5 L235.4 623.5 L235.9 623.5 L236.4 623.5 L236.9 623.6 L237.4 623.6 L237.9 623.6 L238.4 623.6 L238.9 623.6 L239.4 623.6 L239.9 623.6 L240.4 623.7 L240.9 623.7 L241.4 623.7 L241.9 623.7 L242.4 623.7 L242.9 623.7 L243.4 623.7 L243.9 623.7 L244.4 623.8 L244.9 623.8 L245.4 623.8 L245.9 623.8 L246.4 623.8 L246.9 623.8 L247.4 623.8 L247.9 623.8 L248.4 623.8 L248.9 623.8 L249.4 623.9 L249.9 623.9 L250.4 623.9 L250.9 623.9 L251.4 623.9 L251.9 623.9 L252.4 623.9 L252.9 623.9 L253.4 623.9 L253.9 623.9 L254.4 623.9 L254.9 624 L255.4 624 L255.9 624 L256.4 624 L256.9 624 L257.4 624 L257.9 624 L258.4 624 L258.9 624 L259.4 624 L259.4 624.2 L258.9 624.2 L258.4 624.2 L257.9 624.2 L257.4 624.2 L256.9 624.2 L256.4 624.2 L255.9 624.2 L255.4 624.1 L254.9 624.1 L254.4 624.1 L253.9 624.1 L253.4 624.1 L252.9 624.1 L252.4 624.1 L251.9 624.1 L251.4 624.1 L250.9 624.1 L250.4 624.1 L249.9 624.1 L249.4 624.1 L248.9 624.1 L248.4 624.1 L247.9 624.1 L247.4 624.1 L246.9 624.1 L246.4 624.1 L245.9 624 L245.4 624 L244.9 624 L244.4 624 L243.9 624 L243.4 624 L242.9 624 L242.4 624 L241.9 624 L241.4 624 L240.9 624 L240.4 624 L239.9 624 L239.4 624 L238.9 624 L238.4 624 L237.9 624 L237.4 624 L236.9 623.9 L236.4 623.9 L235.9 623.9 L235.4 623.9 L234.9 623.9 L234.4 623.9 L233.9 623.9 L233.4 623.9 L232.9 623.9 L232.4 623.9 L231.9 623.9 L231.4 623.9 L230.9 623.9 L230.4 623.9 L229.9 623.9 L229.4 623.9 L228.9 623.8 L228.4 623.8 L227.9 623.8 L227.4 623.8 L226.9 623.8 L226.4 623.8 L225.9 623.8 L225.4 623.8 L224.9 623.8 L224.4 623.8 L223.9 623.8 L223.4 623.8 L222.9 623.8 L222.4 623.7 L221.9 623.7 L221.4 623.7 L220.9 623.7 L220.4 623.7 L219.9 623.7 L219.4 623.7 L218.9 623.7 L218.4 623.7 L217.9 623.7 L217.4 623.6 L216.9 623.6 L216.4 623.6 L215.9 623.6 L215.4 623.6 L214.9 623.6 L214.4 623.6 L213.9 623.6 L213.4 623.6 L212.9 623.5 L212.4 623.5 L211.9 623.5 L211.4 623.5 L210.9 623.5 L210.4 623.5 L209.9 623.5 L209.4 623.4 L208.9 623.4 L208.4 623.4 L207.9 623.4 L207.4 623.4 L206.9 623.4 L206.4 623.3 L205.9 623.3 L205.4 623.3 L204.9 623.3 L204.4 623.3 L203.9 623.2 L203.4 623.2 L202.9 623.2 L202.4 623.2 L201.9 623.2 L201.4 623.1 L200.9 623.1 L200.4 623.1 L199.9 623.1 L199.4 623 L198.9 623 L198.4 623 L197.9 623 L197.4 623 L196.9 622.9 L196.4 622.9 L195.9 622.9 L195.4 622.9 L194.9 622.8 L194.4 622.8 L193.9 622.8 L193.4 622.8 L192.9 622.8 L192.4 622.7 L191.9 622.7 L191.4 622.7 L190.9 622.7 L190.4 622.7 L189.9 622.6 L189.4 622.6 L188.9 622.6 L188.4 622.6 L187.9 622.6 L187.4 622.5 L186.9 622.5 L186.4 622.5 L185.9 622.5 L185.4 622.5 L184.9 622.4 L184.4 622.4 L183.9 622.4 L183.4 622.4 L182.9 622.4 L182.4 622.4 L181.9 622.3 L181.4 622.3 L180.9 622.3 L180.4 622.3 L179.9 622.3 L179.4 622.3 L178.9 622.3 L178.4 622.3 L177.9 622.2 L177.4 622.2 L176.9 622.2 L176.4 622.2 L175.9 622.2 L175.4 622.2 L174.9 622.2 L174.4 622.2 L173.9 622.2 L173.4 622.1 L172.9 622.1 L172.4 622.1 L171.9 622.1 L171.4 622.1 L170.9 622.1 L170.4 622.1 L169.9 622.1 L169.4 622.1 L168.9 622.1 L168.4 622.1 L167.9 622 L167.4 622 L166.9 622 L166.4 622 L165.9 622 L165.4 622 L164.9 622 L164.4 622 L163.9 622 L163.4 622 L162.9 622 L162.4 622 L161.9 622 L161.4 622 L160.9 622 L160.4 621.9 L159.9 621.9 L159.4 621.9 L158.9 621.9 L158.4 621.9 L157.9 621.9 L157.4 621.9 L156.9 621.9 L156.4 621.9 L155.9 621.9 L155.4 621.9 L154.9 621.9 L154.4 621.9 L153.9 621.9 L153.4 621.9 L152.9 621.9 L152.4 621.8 L151.9 621.8 L151.4 621.8 L150.9 621.8 L150.4 621.8 L149.9 621.8 L149.4 621.8 L148.9 621.8 L148.4 621.8 L147.9 621.8 L147.4 621.8 L146.9 621.8 L146.4 621.8 L145.9 621.8 L145.4 621.8 L144.9 621.8 L144.4 621.8 L143.9 621.8 L143.4 621.8 L142.9 621.7 L142.4 621.7 L141.9 621.7 L141.4 621.7 L140.9 621.7 L140.4 621.7 L139.9 621.7 L139.4 621.7 L138.9 621.7 L138.4 621.7 L137.9 621.7 L137.4 621.7 L136.9 621.7 L136.4 621.7 L135.9 621.7 L135.4 621.7 L134.9 621.7 L134.4 621.7 L133.9 621.7 L133.4 621.6 L132.9 621.6 L132.4 621.6 L131.9 621.6 L131.4 621.6 L130.9 621.6 L130.4 621.6Z" fill="url(#g1)" stroke="#9fd8d6" stroke-width="0.5"/>
<path d="M156.9 621.8 L157.4 621.8 L157.9 621.8 L158.4 621.8 L158.9 621.8 L159.4 621.8 L159.9 621.7 L160.4 621.7 L160.9 621.7 L161.4 621.7 L161.9 621.7 L162.4 621.7 L162.9 621.6 L163.4 621.6 L163.9 621.5 L164.4 621.5 L164.9 621.4 L165.4 621.3 L165.9 621.2 L166.4 621.1 L166.9 620.9 L167.4 620.8 L167.9 620.6 L168.4 620.4 L168.9 620.2 L169.4 619.9 L169.9 619.7 L170.4 619.4 L170.9 619 L171.4 618.6 L171.9 618.3 L172.4 617.8 L172.9 617.4 L173.4 616.9 L173.9 616.4 L174.4 615.9 L174.9 615.4 L175.4 614.8 L175.9 614.3 L176.4 613.7 L176.9 613.2 L177.4 612.6 L177.9 612.1 L178.4 611.7 L178.9 611.2 L179.4 610.8 L179.9 610.4 L180.4 610.1 L180.9 609.9 L181.4 609.7 L181.9 609.6 L182.4 609.6 L182.9 609.6 L183.4 609.7 L183.9 609.9 L184.4 610.1 L184.9 610.4 L185.4 610.8 L185.9 611.2 L186.4 611.7 L186.9 612.2 L187.4 612.7 L187.9 613.2 L188.4 613.8 L188.9 614.4 L189.4 615 L189.9 615.5 L190.4 616.1 L190.9 616.7 L191.4 617.2 L191.9 617.7 L192.4 618.2 L192.9 618.7 L193.4 619.1 L193.9 619.5 L194.4 619.9 L194.9 620.3 L195.4 620.6 L195.9 620.9 L196.4 621.2 L196.9 621.4 L197.4 621.6 L197.9 621.8 L198.4 622 L198.9 622.1 L199.4 622.3 L199.9 622.4 L200.4 622.5 L200.9 622.6 L201.4 622.7 L201.9 622.8 L202.4 622.8 L202.9 622.9 L203.4 623 L203.9 623 L204.4 623 L204.9 623.1 L205.4 623.1 L205.9 623.2 L206.4 623.2 L206.9 623.2 L207.4 623.2 L207.9 623.3 L208.4 623.3 L208.4 623.4 L207.9 623.4 L207.4 623.4 L206.9 623.4 L206.4 623.3 L205.9 623.3 L205.4 623.3 L204.9 623.3 L204.4 623.3 L203.9 623.2 L203.4 623.2 L202.9 623.2 L202.4 623.2 L201.9 623.2 L201.4 623.1 L200.9 623.1 L200.4 623.1 L199.9 623.1 L199.4 623 L198.9 623 L198.4 623 L197.9 623 L197.4 623 L196.9 622.9 L196.4 622.9 L195.9 622.9 L195.4 622.9 L194.9 622.8 L194.4 622.8 L193.9 622.8 L193.4 622.8 L192.9 622.8 L192.4 622.7 L191.9 622.7 L191.4 622.7 L190.9 622.7 L190.4 622.7 L189.9 622.6 L189.4 622.6 L188.9 622.6 L188.4 622.6 L187.9 622.6 L187.4 622.5 L186.9 622.5 L186.4 622.5 L185.9 622.5 L185.4 622.5 L184.9 622.4 L184.4 622.4 L183.9 622.4 L183.4 622.4 L182.9 622.4 L182.4 622.4 L181.9 622.3 L181.4 622.3 L180.9 622.3 L180.4 622.3 L179.9 622.3 L179.4 622.3 L178.9 622.3 L178.4 622.3 L177.9 622.2 L177.4 622.2 L176.9 622.2 L176.4 622.2 L175.9 622.2 L175.4 622.2 L174.9 622.2 L174.4 622.2 L173.9 622.2 L173.4 622.1 L172.9 622.1 L172.4 622.1 L171.9 622.1 L171.4 622.1 L170.9 622.1 L170.4 622.1 L169.9 622.1 L169.4 622.1 L168.9 622.1 L168.4 622.1 L167.9 622 L167.4 622 L166.9 622 L166.4 622 L165.9 622 L165.4 622 L164.9 622 L164.4 622 L163.9 622 L163.4 622 L162.9 622 L162.4 622 L161.9 622 L161.4 622 L160.9 622 L160.4 621.9 L159.9 621.9 L159.4 621.9 L158.9 621.9 L158.4 621.9 L157.9 621.9 L157.4 621.9 L156.9 621.9Z" fill="url(#g2)" stroke="#6fbac6" stroke-width="0.5"/>
<path d="M114.4 621.3 L114.9 621.3 L115.4 621.3 L115.9 621.3 L116.4 621.3 L116.9 621.3 L117.4 621.3 L117.9 621.2 L118.4 621.2 L118.9 621.2 L119.4 621.2 L119.9 621.2 L120.4 621.1 L120.9 621.1 L121.4 621.1 L121.9 621 L122.4 621 L122.9 621 L123.4 620.9 L123.9 620.9 L124.4 620.8 L124.9 620.8 L125.4 620.7 L125.9 620.7 L126.4 620.6 L126.9 620.5 L127.4 620.5 L127.9 620.4 L128.4 620.3 L128.9 620.2 L129.4 620.1 L129.9 620 L130.4 619.9 L130.9 619.8 L131.4 619.7 L131.9 619.6 L132.4 619.5 L132.9 619.4 L133.4 619.3 L133.9 619.1 L134.4 619 L134.9 618.9 L135.4 618.7 L135.9 618.6 L136.4 618.4 L136.9 618.3 L137.4 618.1 L137.9 618 L138.4 617.8 L138.9 617.6 L139.4 617.5 L139.9 617.3 L140.4 617.1 L140.9 616.9 L141.4 616.7 L141.9 616.6 L142.4 616.4 L142.9 616.2 L143.4 616 L143.9 615.8 L144.4 615.6 L144.9 615.5 L145.4 615.3 L145.9 615.1 L146.4 614.9 L146.9 614.7 L147.4 614.6 L147.9 614.4 L148.4 614.2 L148.9 614.1 L149.4 613.9 L149.9 613.8 L150.4 613.6 L150.9 613.5 L151.4 613.4 L151.9 613.3 L152.4 613.1 L152.9 613 L153.4 612.9 L153.9 612.9 L154.4 612.8 L154.9 612.7 L155.4 612.7 L155.9 612.6 L156.4 612.6 L156.9 612.5 L157.4 612.5 L157.9 612.5 L158.4 612.5 L158.9 612.5 L159.4 612.6 L159.9 612.6 L160.4 612.6 L160.9 612.7 L161.4 612.8 L161.9 612.8 L162.4 612.9 L162.9 613 L163.4 613.1 L163.9 613.2 L164.4 613.3 L164.9 613.5 L165.4 613.6 L165.9 613.8 L166.4 613.9 L166.9 614.1 L167.4 614.2 L167.9 614.4 L168.4 614.6 L168.9 614.7 L169.4 614.9 L169.9 615.1 L170.4 615.3 L170.9 615.5 L171.4 615.7 L171.9 615.9 L172.4 616.1 L172.9 616.3 L173.4 616.5 L173.9 616.7 L174.4 616.9 L174.9 617.1 L175.4 617.3 L175.9 617.5 L176.4 617.7 L176.9 617.9 L177.4 618.1 L177.9 618.2 L178.4 618.4 L178.9 618.6 L179.4 618.8 L179.9 619 L180.4 619.1 L180.9 619.3 L181.4 619.5 L181.9 619.6 L182.4 619.8 L182.9 619.9 L183.4 620.1 L183.9 620.2 L184.4 620.4 L184.9 620.5 L185.4 620.6 L185.9 620.7 L186.4 620.9 L186.9 621 L187.4 621.1 L187.9 621.2 L188.4 621.3 L188.9 621.4 L189.4 621.5 L189.9 621.6 L190.4 621.7 L190.9 621.8 L191.4 621.9 L191.9 621.9 L192.4 622 L192.9 622.1 L193.4 622.2 L193.9 622.2 L194.4 622.3 L194.9 622.4 L195.4 622.4 L195.9 622.5 L196.4 622.5 L196.9 622.6 L197.4 622.6 L197.9 622.7 L198.4 622.7 L198.9 622.8 L199.4 622.8 L199.9 622.9 L200.4 622.9 L200.9 622.9 L201.4 623 L201.9 623 L202.4 623.1 L202.4 623.2 L201.9 623.2 L201.4 623.1 L200.9 623.1 L200.4 623.1 L199.9 623.1 L199.4 623 L198.9 623 L198.4 623 L197.9 623 L197.4 623 L196.9 622.9 L196.4 622.9 L195.9 622.9 L195.4 622.9 L194.9 622.8 L194.4 622.8 L193.9 622.8 L193.4 622.8 L192.9 622.8 L192.4 622.7 L191.9 622.7 L191.4 622.7 L190.9 622.7 L190.4 622.7 L189.9 622.6 L189.4 622.6 L188.9 622.6 L188.4 622.6 L187.9 622.6 L187.4 622.5 L186.9 622.5 L186.4 622.5 L185.9 622.5 L185.4 622.5 L184.9 622.4 L184.4 622.4 L183.9 622.4 L183.4 622.4 L182.9 622.4 L182.4 622.4 L181.9 622.3 L181.4 622.3 L180.9 622.3 L180.4 622.3 L179.9 622.3 L179.4 622.3 L178.9 622.3 L178.4 622.3 L177.9 622.2 L177.4 622.2 L176.9 622.2 L176.4 622.2 L175.9 622.2 L175.4 622.2 L174.9 622.2 L174.4 622.2 L173.9 622.2 L173.4 622.1 L172.9 622.1 L172.4 622.1 L171.9 622.1 L171.4 622.1 L170.9 622.1 L170.4 622.1 L169.9 622.1 L169.4 622.1 L168.9 622.1 L168.4 622.1 L167.9 622 L167.4 622 L166.9 622 L166.4 622 L165.9 622 L165.4 622 L164.9 622 L164.4 622 L163.9 622 L163.4 622 L162.9 622 L162.4 622 L161.9 622 L161.4 622 L160.9 622 L160.4 621.9 L159.9 621.9 L159.4 621.9 L158.9 621.9 L158.4 621.9 L157.9 621.9 L157.4 621.9 L156.9 621.9 L156.4 621.9 L155.9 621.9 L155.4 621.9 L154.9 621.9 L154.4 621.9 L153.9 621.9 L153.4 621.9 L152.9 621.9 L152.4 621.8 L151.9 621.8 L151.4 621.8 L150.9 621.8 L150.4 621.8 L149.9 621.8 L149.4 621.8 L148.9 621.8 L148.4 621.8 L147.9 621.8 L147.4 621.8 L146.9 621.8 L146.4 621.8 L145.9 621.8 L145.4 621.8 L144.9 621.8 L144.4 621.8 L143.9 621.8 L143.4 621.8 L142.9 621.7 L142.4 621.7 L141.9 621.7 L141.4 621.7 L140.9 621.7 L140.4 621.7 L139.9 621.7 L139.4 621.7 L138.9 621.7 L138.4 621.7 L137.9 621.7 L137.4 621.7 L136.9 621.7 L136.4 621.7 L135.9 621.7 L135.4 621.7 L134.9 621.7 L134.4 621.7 L133.9 621.7 L133.4 621.6 L132.9 621.6 L132.4 621.6 L131.9 621.6 L131.4 621.6 L130.9 621.6 L130.4 621.6 L129.9 621.6 L129.4 621.6 L128.9 621.6 L128.4 621.6 L127.9 621.6 L127.4 621.6 L126.9 621.6 L126.4 621.6 L125.9 621.6 L125.4 621.6 L124.9 621.6 L124.4 621.6 L123.9 621.5 L123.4 621.5 L122.9 621.5 L122.4 621.5 L121.9 621.5 L121.4 621.5 L120.9 621.5 L120.4 621.5 L119.9 621.5 L119.4 621.5 L118.9 621.5 L118.4 621.5 L117.9 621.5 L117.4 621.5 L116.9 621.5 L116.4 621.5 L115.9 621.5 L115.4 621.5 L114.9 621.5 L114.4 621.5Z" fill="url(#g3)" stroke="#74c8a2" stroke-width="0.5"/>
<path d="M31.4 620.6 L31.9 620.6 L32.4 620.6 L32.9 620.6 L33.4 620.6 L33.9 620.6 L34.4 620.6 L34.9 620.6 L35.4 620.6 L35.9 620.7 L36.4 620.7 L36.9 620.7 L37.4 620.7 L37.9 620.7 L38.4 620.7 L38.9 620.7 L39.4 620.7 L39.9 620.7 L40.4 620.7 L40.9 620.7 L41.4 620.7 L41.9 620.7 L42.4 620.7 L42.9 620.7 L43.4 620.7 L43.9 620.7 L44.4 620.7 L44.9 620.7 L45.4 620.7 L45.9 620.8 L46.4 620.8 L46.9 620.8 L47.4 620.8 L47.9 620.8 L48.4 620.8 L48.9 620.8 L49.4 620.8 L49.9 620.8 L50.4 620.8 L50.9 620.8 L51.4 620.8 L51.9 620.8 L52.4 620.8 L52.9 620.8 L53.4 620.8 L53.9 620.8 L54.4 620.8 L54.9 620.8 L55.4 620.9 L55.9 620.9 L56.4 620.9 L56.9 620.9 L57.4 620.9 L57.9 620.9 L58.4 620.9 L58.9 620.9 L59.4 620.9 L59.9 620.9 L60.4 620.9 L60.9 620.9 L61.4 620.9 L61.9 620.9 L62.4 620.9 L62.9 620.9 L63.4 620.9 L63.9 620.9 L64.4 620.9 L64.9 620.9 L65.4 621 L65.9 621 L66.4 621 L66.9 621 L67.4 621 L67.9 621 L68.4 621 L68.9 621 L69.4 621 L69.9 621 L70.4 621 L70.9 621 L71.4 621 L71.9 621 L72.4 621 L72.9 621 L73.4 621 L73.9 621 L74.4 621 L74.9 621 L75.4 621.1 L75.9 621.1 L76.4 621.1 L76.9 621.1 L77.4 621.1 L77.9 621.1 L78.4 621.1 L78.9 621.1 L79.4 621.1 L79.9 621.1 L80.4 621.1 L80.9 621.1 L81.4 621.1 L81.9 621.1 L82.4 621.1 L82.9 621.1 L83.4 621.1 L83.9 621.1 L84.4 621.1 L84.9 621.2 L85.4 621.2 L85.9 621.2 L86.4 621.2 L86.9 621.2 L87.4 621.2 L87.9 621.2 L88.4 621.2 L88.9 621.2 L89.4 621.2 L89.9 621.2 L90.4 621.2 L90.9 621.2 L91.4 621.2 L91.9 621.2 L92.4 621.2 L92.9 621.2 L93.4 621.2 L93.9 621.2 L94.4 621.2 L94.9 621.3 L95.4 621.3 L95.9 621.3 L96.4 621.3 L96.9 621.3 L97.4 621.3 L97.9 621.3 L98.4 621.3 L98.9 621.3 L99.4 621.3 L99.9 621.3 L100.4 621.3 L100.9 621.3 L101.4 621.3 L101.9 621.3 L102.4 621.3 L102.9 621.3 L103.4 621.3 L103.9 621.3 L104.4 621.4 L104.9 621.4 L105.4 621.4 L105.9 621.4 L106.4 621.4 L106.9 621.4 L107.4 621.4 L107.9 621.4 L108.4 621.4 L108.9 621.4 L109.4 621.4 L109.9 621.4 L110.4 621.4 L110.9 621.4 L111.4 621.4 L111.9 621.4 L112.4 621.4 L112.9 621.4 L113.4 621.4 L113.9 621.4 L114.4 621.5 L114.9 621.5 L115.4 621.5 L115.9 621.5 L116.4 621.5 L116.9 621.5 L117.4 621.5 L117.9 621.5 L118.4 621.5 L118.9 621.5 L119.4 621.5 L119.9 621.5 L120.4 621.5 L120.9 621.5 L121.4 621.5 L121.9 621.5 L122.4 621.5 L122.9 621.5 L123.4 621.5 L123.9 621.5 L124.4 621.6 L124.9 621.6 L125.4 621.6 L125.9 621.6 L126.4 621.6 L126.9 621.6 L127.4 621.6 L127.9 621.6 L128.4 621.6 L128.9 621.6 L129.4 621.6 L129.9 621.6 L130.4 621.6 L130.9 621.6 L131.4 621.6 L131.9 621.6 L132.4 621.6 L132.9 621.6 L133.4 621.6 L133.9 621.7 L134.4 621.7 L134.9 621.7 L135.4 621.7 L135.9 621.7 L136.4 621.7 L136.9 621.7 L137.4 621.7 L137.9 621.7 L138.4 621.7 L138.9 621.7 L139.4 621.7 L139.9 621.7 L140.4 621.7 L140.9 621.7 L141.4 621.7 L141.9 621.7 L142.4 621.7 L142.9 621.7 L143.4 621.8 L143.9 621.8 L144.4 621.8 L144.9 621.8 L145.4 621.8 L145.9 621.8 L146.4 621.8 L146.9 621.8 L147.4 621.8 L147.9 621.8 L148.4 621.8 L148.9 621.8 L149.4 621.8 L149.9 621.8 L150.4 621.8 L150.9 621.8 L151.4 621.8 L151.9 621.8 L152.4 621.8 L152.9 621.9 L153.4 621.9 L153.9 621.9 L154.4 621.9 L154.9 621.9 L155.4 621.9 L155.9 621.9 L156.4 621.9 L156.9 621.9 L157.4 621.9 L157.9 621.9 L158.4 621.9 L158.9 621.9 L159.4 621.9 L159.9 621.9 L160.4 621.9 L160.9 622 L161.4 622 L161.9 622 L162.4 622 L162.9 622 L163.4 622 L163.9 622 L164.4 622 L164.9 622 L165.4 622 L165.9 622 L166.4 622 L166.9 622 L167.4 622 L167.9 622 L168.4 622.1 L168.9 622.1 L169.4 622.1 L169.9 622.1 L170.4 622.1 L170.9 622.1 L171.4 622.1 L171.9 622.1 L172.4 622.1 L172.9 622.1 L173.4 622.1 L173.9 622.2 L174.4 622.2 L174.9 622.2 L175.4 622.2 L175.9 622.2 L176.4 622.2 L176.9 622.2 L177.4 622.2 L177.9 622.2 L178.4 622.3 L178.9 622.3 L179.4 622.3 L179.9 622.3 L180.4 622.3 L180.9 622.3 L181.4 622.3 L181.9 622.3 L182.4 622.4 L182.9 622.4 L183.4 622.4 L183.9 622.4 L184.4 622.4 L184.9 622.4 L185.4 622.5 L185.9 622.5 L186.4 622.5 L186.9 622.5 L187.4 622.5 L187.9 622.6 L188.4 622.6 L188.9 622.6 L189.4 622.6 L189.9 622.6 L190.4 622.7 L190.9 622.7 L191.4 622.7 L191.9 622.7 L192.4 622.7 L192.9 622.8 L193.4 622.8 L193.9 622.8 L194.4 622.8 L194.9 622.8 L195.4 622.9 L195.9 622.9 L196.4 622.9 L196.9 622.9 L197.4 623 L197.9 623 L198.4 623 L198.9 623 L199.4 623 L199.9 623.1 L200.4 623.1 L200.9 623.1 L201.4 623.1 L201.9 623.2 L202.4 623.2 L202.9 623.2 L203.4 623.2 L203.9 623.2 L204.4 623.3 L204.9 623.3 L205.4 623.3 L205.9 623.3 L206.4 623.3 L206.9 623.4 L207.4 623.4 L207.9 623.4 L208.4 623.4 L208.9 623.4 L209.4 623.4 L209.9 623.5 L210.4 623.5 L210.9 623.5 L211.4 623.5 L211.9 623.5 L212.4 623.5 L212.9 623.5 L213.4 623.6 L213.9 623.6 L214.4 623.6 L214.9 623.6 L215.4 623.6 L215.9 623.6 L216.4 623.6 L216.9 623.6 L217.4 623.6 L217.9 623.7 L218.4 623.7 L218.9 623.7 L219.4 623.7 L219.9 623.7 L220.4 623.7 L220.9 623.7 L221.4 623.7 L221.9 623.7 L222.4 623.7 L222.9 623.8 L223.4 623.8 L223.9 623.8 L224.4 623.8 L224.9 623.8 L225.4 623.8 L225.9 623.8 L226.4 623.8 L226.9 623.8 L227.4 623.8 L227.9 623.8 L228.4 623.8 L228.9 623.8 L229.4 623.9 L229.9 623.9 L230.4 623.9 L230.9 623.9 L231.4 623.9 L231.9 623.9 L232.4 623.9 L232.9 623.9 L233.4 623.9 L233.9 623.9 L234.4 623.9 L234.9 623.9 L235.4 623.9 L235.9 623.9 L236.4 623.9 L236.9 623.9 L237.4 624 L237.9 624 L238.4 624 L238.9 624 L239.4 624 L239.9 624 L240.4 624 L240.9 624 L241.4 624 L241.9 624 L242.4 624 L242.9 624 L243.4 624 L243.9 624 L244.4 624 L244.9 624 L245.4 624 L245.9 624 L246.4 624.1 L246.9 624.1 L247.4 624.1 L247.9 624.1 L248.4 624.1 L248.9 624.1 L249.4 624.1 L249.9 624.1 L250.4 624.1 L250.9 624.1 L251.4 624.1 L251.9 624.1 L252.4 624.1 L252.9 624.1 L253.4 624.1 L253.9 624.1 L254.4 624.1 L254.9 624.1 L255.4 624.1 L255.9 624.2 L256.4 624.2 L256.9 624.2 L257.4 624.2 L257.9 624.2 L258.4 624.2 L258.9 624.2 L259.4 624.2" fill="none" stroke="#3d9bd6" stroke-width="1.2" stroke-linejoin="round" stroke-linecap="round"/>
<path d="M31.4 620.6 L31.9 620.6 L32.4 620.6 L32.9 620.6 L33.4 620.6 L33.9 620.6 L34.4 620.6 L34.9 620.6 L35.4 620.6 L35.9 620.6 L36.4 620.6 L36.9 620.6 L37.4 620.6 L37.9 620.6 L38.4 620.7 L38.9 620.7 L39.4 620.7 L39.9 620.7 L40.4 620.7 L40.9 620.7 L41.4 620.7 L41.9 620.7 L42.4 620.7 L42.9 620.7 L43.4 620.7 L43.9 620.7 L44.4 620.7 L44.9 620.7 L45.4 620.7 L45.9 620.7 L46.4 620.7 L46.9 620.7 L47.4 620.7 L47.9 620.7 L48.4 620.7 L48.9 620.8 L49.4 620.8 L49.9 620.8 L50.4 620.8 L50.9 620.8 L51.4 620.8 L51.9 620.8 L52.4 620.8 L52.9 620.8 L53.4 620.8 L53.9 620.8 L54.4 620.8 L54.9 620.8 L55.4 620.8 L55.9 620.8 L56.4 620.8 L56.9 620.8 L57.4 620.8 L57.9 620.8 L58.4 620.8 L58.9 620.9 L59.4 620.9 L59.9 620.9 L60.4 620.9 L60.9 620.9 L61.4 620.9 L61.9 620.9 L62.4 620.9 L62.9 620.9 L63.4 620.9 L63.9 620.9 L64.4 620.9 L64.9 620.9 L65.4 620.9 L65.9 620.9 L66.4 620.9 L66.9 620.9 L67.4 620.9 L67.9 620.9 L68.4 620.9 L68.9 620.9 L69.4 621 L69.9 621 L70.4 621 L70.9 621 L71.4 621 L71.9 621 L72.4 621 L72.9 621 L73.4 621 L73.9 621 L74.4 621 L74.9 621 L75.4 621 L75.9 621 L76.4 621 L76.9 621 L77.4 621 L77.9 621 L78.4 621 L78.9 621 L79.4 621 L79.9 621.1 L80.4 621.1 L80.9 621.1 L81.4 621.1 L81.9 621.1 L82.4 621.1 L82.9 621.1 L83.4 621.1 L83.9 621.1 L84.4 621.1 L84.9 621.1 L85.4 621.1 L85.9 621.1 L86.4 621.1 L86.9 621.1 L87.4 621.1 L87.9 621.1 L88.4 621.1 L88.9 621.1 L89.4 621.1 L89.9 621.1 L90.4 621.1 L90.9 621.2 L91.4 621.2 L91.9 621.2 L92.4 621.2 L92.9 621.2 L93.4 621.2 L93.9 621.2 L94.4 621.2 L94.9 621.2 L95.4 621.2 L95.9 621.2 L96.4 621.2 L96.9 621.2 L97.4 621.2 L97.9 621.2 L98.4 621.2 L98.9 621.2 L99.4 621.2 L99.9 621.2 L100.4 621.2 L100.9 621.2 L101.4 621.2 L101.9 621.2 L102.4 621.2 L102.9 621.3 L103.4 621.3 L103.9 621.3 L104.4 621.3 L104.9 621.3 L105.4 621.3 L105.9 621.3 L106.4 621.3 L106.9 621.3 L107.4 621.3 L107.9 621.3 L108.4 621.3 L108.9 621.3 L109.4 621.3 L109.9 621.3 L110.4 621.3 L110.9 621.3 L111.4 621.3 L111.9 621.3 L112.4 621.3 L112.9 621.2 L113.4 621.2 L113.9 621.2 L114.4 621.2 L114.9 621.2 L115.4 621.2 L115.9 621.2 L116.4 621.2 L116.9 621.2 L117.4 621.2 L117.9 621.1 L118.4 621.1 L118.9 621.1 L119.4 621.1 L119.9 621 L120.4 621 L120.9 621 L121.4 621 L121.9 620.9 L122.4 620.9 L122.9 620.8 L123.4 620.8 L123.9 620.7 L124.4 620.7 L124.9 620.6 L125.4 620.6 L125.9 620.5 L126.4 620.5 L126.9 620.4 L127.4 620.3 L127.9 620.2 L128.4 620.2 L128.9 620.1 L129.4 620 L129.9 619.9 L130.4 619.8 L130.9 619.7 L131.4 619.6 L131.9 619.5 L132.4 619.4 L132.9 619.2 L133.4 619.1 L133.9 619 L134.4 618.8 L134.9 618.7 L135.4 618.6 L135.9 618.4 L136.4 618.3 L136.9 618.1 L137.4 617.9 L137.9 617.8 L138.4 617.6 L138.9 617.4 L139.4 617.3 L139.9 617.1 L140.4 616.9 L140.9 616.7 L141.4 616.5 L141.9 616.3 L142.4 616.2 L142.9 616 L143.4 615.8 L143.9 615.6 L144.4 615.4 L144.9 615.2 L145.4 615 L145.9 614.8 L146.4 614.7 L146.9 614.5 L147.4 614.3 L147.9 614.1 L148.4 614 L148.9 613.8 L149.4 613.6 L149.9 613.5 L150.4 613.3 L150.9 613.2 L151.4 613.1 L151.9 612.9 L152.4 612.8 L152.9 612.7 L153.4 612.6 L153.9 612.5 L154.4 612.4 L154.9 612.3 L155.4 612.3 L155.9 612.2 L156.4 612.1 L156.9 612.1 L157.4 612.1 L157.9 612 L158.4 612 L158.9 612 L159.4 612 L159.9 612 L160.4 612.1 L160.9 612.1 L161.4 612.1 L161.9 612.1 L162.4 612.2 L162.9 612.2 L163.4 612.3 L163.9 612.3 L164.4 612.3 L164.9 612.4 L165.4 612.4 L165.9 612.4 L166.4 612.4 L166.9 612.4 L167.4 612.4 L167.9 612.4 L168.4 612.3 L168.9 612.2 L169.4 612.1 L169.9 612 L170.4 611.9 L170.9 611.7 L171.4 611.4 L171.9 611.2 L172.4 610.9 L172.9 610.6 L173.4 610.3 L173.9 609.9 L174.4 609.5 L174.9 609 L175.4 608.6 L175.9 608.1 L176.4 607.6 L176.9 607 L177.4 606.5 L177.9 605.9 L178.4 605.4 L178.9 604.8 L179.4 604.2 L179.9 603.7 L180.4 603.1 L180.9 602.5 L181.4 601.9 L181.9 601.4 L182.4 600.8 L182.9 600.2 L183.4 599.6 L183.9 598.9 L184.4 598.3 L184.9 597.6 L185.4 596.9 L185.9 596.1 L186.4 595.3 L186.9 594.4 L187.4 593.4 L187.9 592.4 L188.4 591.3 L188.9 590.2 L189.4 589 L189.9 587.7 L190.4 586.4 L190.9 585.1 L191.4 583.7 L191.9 582.3 L192.4 581 L192.9 579.6 L193.4 578.3 L193.9 577.1 L194.4 575.9 L194.9 574.9 L195.4 574 L195.9 573.2 L196.4 572.6 L196.9 572.2 L197.4 572 L197.9 572 L198.4 572.3 L198.9 572.7 L199.4 573.3 L199.9 574.1 L200.4 575.1 L200.9 576.2 L201.4 577.5 L201.9 579 L202.4 580.5 L202.9 582.2 L203.4 583.9 L203.9 585.8 L204.4 587.6 L204.9 589.5 L205.4 591.4 L205.9 593.3 L206.4 595.2 L206.9 597.1 L207.4 598.9 L207.9 600.7 L208.4 602.4 L208.9 604.1 L209.4 605.7 L209.9 607.2 L210.4 608.6 L210.9 609.9 L211.4 611.2 L211.9 612.4 L212.4 613.5 L212.9 614.5 L213.4 615.4 L213.9 616.2 L214.4 617 L214.9 617.7 L215.4 618.3 L215.9 618.9 L216.4 619.4 L216.9 619.8 L217.4 620.3 L217.9 620.6 L218.4 620.9 L218.9 621.2 L219.4 621.5 L219.9 621.7 L220.4 621.9 L220.9 622 L221.4 622.2 L221.9 622.3 L222.4 622.4 L222.9 622.5 L223.4 622.6 L223.9 622.7 L224.4 622.8 L224.9 622.8 L225.4 622.9 L225.9 623 L226.4 623 L226.9 623 L227.4 623.1 L227.9 623.1 L228.4 623.2 L228.9 623.2 L229.4 623.2 L229.9 623.2 L230.4 623.3 L230.9 623.3 L231.4 623.3 L231.9 623.3 L232.4 623.4 L232.9 623.4 L233.4 623.4 L233.9 623.4 L234.4 623.4 L234.9 623.5 L235.4 623.5 L235.9 623.5 L236.4 623.5 L236.9 623.5 L237.4 623.5 L237.9 623.6 L238.4 623.6 L238.9 623.6 L239.4 623.6 L239.9 623.6 L240.4 623.6 L240.9 623.6 L241.4 623.7 L241.9 623.7 L242.4 623.7 L242.9 623.7 L243.4 623.7 L243.9 623.7 L244.4 623.7 L244.9 623.7 L245.4 623.8 L245.9 623.8 L246.4 623.8 L246.9 623.8 L247.4 623.8 L247.9 623.8 L248.4 623.8 L248.9 623.8 L249.4 623.8 L249.9 623.8 L250.4 623.9 L250.9 623.9 L251.4 623.9 L251.9 623.9 L252.4 623.9 L252.9 623.9 L253.4 623.9 L253.9 623.9 L254.4 623.9 L254.9 623.9 L255.4 623.9 L255.9 624 L256.4 624 L256.9 624 L257.4 624 L257.9 624 L258.4 624 L258.9 624 L259.4 624" fill="none" stroke="#2b8bcb" stroke-width="1.45" stroke-linejoin="round" stroke-linecap="round"/>
</g>
<line x1="30.8" y1="473" x2="260.3" y2="473" stroke="#000" stroke-width="1.2"/>
<line x1="30.8" y1="553.8" x2="260.3" y2="553.8" stroke="#000" stroke-width="1.2"/>
<rect x="30.8" y="393.3" width="229.5" height="240.9" fill="none" stroke="#000" stroke-width="1.3"/>
<line x1="56.3" y1="634.2" x2="56.3" y2="637" stroke="#000" stroke-width="1.1"/>
<text x="56.3" y="648" font-size="12" text-anchor="middle" stroke="#000" stroke-width="0.3">296</text>
<line x1="107.3" y1="634.2" x2="107.3" y2="637" stroke="#000" stroke-width="1.1"/>
<text x="107.3" y="648" font-size="12" text-anchor="middle" stroke="#000" stroke-width="0.3">292</text>
<line x1="158.3" y1="634.2" x2="158.3" y2="637" stroke="#000" stroke-width="1.1"/>
<text x="158.3" y="648" font-size="12" text-anchor="middle" stroke="#000" stroke-width="0.3">288</text>
<line x1="209.3" y1="634.2" x2="209.3" y2="637" stroke="#000" stroke-width="1.1"/>
<text x="209.3" y="648" font-size="12" text-anchor="middle" stroke="#000" stroke-width="0.3">284</text>
<line x1="260.3" y1="634.2" x2="260.3" y2="637" stroke="#000" stroke-width="1.1"/>
<text x="260.3" y="648" font-size="12" text-anchor="middle" stroke="#000" stroke-width="0.3">280</text>
<line x1="81.8" y1="634.2" x2="81.8" y2="636" stroke="#000" stroke-width="1"/>
<line x1="132.8" y1="634.2" x2="132.8" y2="636" stroke="#000" stroke-width="1"/>
<line x1="183.8" y1="634.2" x2="183.8" y2="636" stroke="#000" stroke-width="1"/>
<line x1="234.8" y1="634.2" x2="234.8" y2="636" stroke="#000" stroke-width="1"/>
<text x="83.8" y="668.6" font-size="12.9" stroke="#000" stroke-width="0.3">Binding Energy (eV)</text>
<text x="23.4" y="513.8" font-size="12.9" text-anchor="middle" stroke="#000" stroke-width="0.3" transform="rotate(-90 23.4 513.8)">Intensity (a.u.)</text>
<text x="5" y="406.6" font-size="15.3" stroke="#000" stroke-width="0.3">(d)</text>
<text x="38.5" y="405.9" font-size="9" fill="#111" stroke="#111" stroke-width="0.22">D-SiO<tspan font-size="6.3" dy="2.7">2</tspan></text>
<text x="39.4" y="486.3" font-size="9" fill="#111" stroke="#111" stroke-width="0.22">BC-D-SiO<tspan font-size="6.3" dy="2.7">2</tspan></text>
<text x="38.6" y="566.3" font-size="9" fill="#111" stroke="#111" stroke-width="0.22">PFBC-D-SiO<tspan font-size="6.3" dy="2.7">2</tspan></text>
<text x="234.2" y="405.3" font-size="9" fill="#111" stroke="#111" stroke-width="0.22">C 1s</text>
<text x="234.2" y="485.4" font-size="9" fill="#111" stroke="#111" stroke-width="0.22">C 1s</text>
<text x="234.2" y="565.6" font-size="9" fill="#111" stroke="#111" stroke-width="0.22">C 1s</text>
<text x="227.6" y="415.4" font-size="8.45" fill="#111" text-anchor="middle" stroke="#111" stroke-width="0.22">C-C</text>
<line x1="220.09" y1="416.9" x2="235.11" y2="416.9" stroke="#151515" stroke-width="1.25"/>
<text x="228.1" y="425.3" font-size="8.45" fill="#111" text-anchor="middle" stroke="#111" stroke-width="0.22">284.8</text>
<line x1="217.53" y1="426.9" x2="238.67" y2="426.9" stroke="#151515" stroke-width="1.25"/>
<line x1="217.6" y1="426.9" x2="199.2" y2="410.9" stroke="#151515" stroke-width="1.25"/>
<text x="158.6" y="431.5" font-size="8.45" fill="#111" text-anchor="middle" stroke="#111" stroke-width="0.22">C-O</text>
<line x1="150.86" y1="433" x2="166.34" y2="433" stroke="#151515" stroke-width="1.25"/>
<text x="158.4" y="440.8" font-size="8.45" fill="#111" text-anchor="middle" stroke="#111" stroke-width="0.22">286.2</text>
<line x1="147.83" y1="442.3" x2="168.97" y2="442.3" stroke="#151515" stroke-width="1.25"/>
<line x1="168.6" y1="442.3" x2="180.2" y2="447.6" stroke="#151515" stroke-width="1.25"/>
<text x="109.3" y="439.7" font-size="8.45" fill="#111" text-anchor="middle" stroke="#111" stroke-width="0.22">C-N/C=O</text>
<line x1="91.81" y1="441.2" x2="126.79" y2="441.2" stroke="#151515" stroke-width="1.25"/>
<text x="109.6" y="448.7" font-size="8.45" fill="#111" text-anchor="middle" stroke="#111" stroke-width="0.22">288.5</text>
<line x1="99.03" y1="450.2" x2="120.17" y2="450.2" stroke="#151515" stroke-width="1.25"/>
<line x1="119.8" y1="450.2" x2="152.4" y2="455.6" stroke="#151515" stroke-width="1.25"/>
<text x="230.4" y="495" font-size="8.45" fill="#111" text-anchor="middle" stroke="#111" stroke-width="0.22">C-C</text>
<line x1="222.89" y1="496.5" x2="237.91" y2="496.5" stroke="#151515" stroke-width="1.25"/>
<text x="230.5" y="505" font-size="8.45" fill="#111" text-anchor="middle" stroke="#111" stroke-width="0.22">284.8</text>
<line x1="219.93" y1="506.5" x2="241.07" y2="506.5" stroke="#151515" stroke-width="1.25"/>
<line x1="220" y1="506.5" x2="198.9" y2="493.6" stroke="#151515" stroke-width="1.25"/>
<text x="156.2" y="517.7" font-size="8.45" fill="#111" text-anchor="middle" stroke="#111" stroke-width="0.22">C-O</text>
<line x1="148.46" y1="519.2" x2="163.94" y2="519.2" stroke="#151515" stroke-width="1.25"/>
<text x="156" y="526.8" font-size="8.45" fill="#111" text-anchor="middle" stroke="#111" stroke-width="0.22">286.4</text>
<line x1="145.43" y1="528.3" x2="166.57" y2="528.3" stroke="#151515" stroke-width="1.25"/>
<line x1="166.3" y1="528.3" x2="178.4" y2="535" stroke="#151515" stroke-width="1.25"/>
<text x="105.5" y="522.4" font-size="8.45" fill="#111" text-anchor="middle" stroke="#111" stroke-width="0.22">C=O/CNO</text>
<line x1="86.13" y1="523.9" x2="124.87" y2="523.9" stroke="#151515" stroke-width="1.25"/>
<text x="105.9" y="531.3" font-size="8.45" fill="#111" text-anchor="middle" stroke="#111" stroke-width="0.22">288.7</text>
<line x1="95.33" y1="532.9" x2="116.47" y2="532.9" stroke="#151515" stroke-width="1.25"/>
<line x1="116.1" y1="532.9" x2="146" y2="538.5" stroke="#151515" stroke-width="1.25"/>
<text x="229" y="575.3" font-size="8.45" fill="#111" text-anchor="middle" stroke="#111" stroke-width="0.22">C-C</text>
<line x1="221.49" y1="576.8" x2="236.51" y2="576.8" stroke="#151515" stroke-width="1.25"/>
<text x="228.6" y="584.5" font-size="8.45" fill="#111" text-anchor="middle" stroke="#111" stroke-width="0.22">284.8</text>
<line x1="218.03" y1="586" x2="239.17" y2="586" stroke="#151515" stroke-width="1.25"/>
<line x1="218.2" y1="586" x2="199.2" y2="572.8" stroke="#151515" stroke-width="1.25"/>
<text x="159" y="589.8" font-size="8.45" fill="#111" text-anchor="middle" stroke="#111" stroke-width="0.22">C-O</text>
<line x1="151.26" y1="591.3" x2="166.74" y2="591.3" stroke="#151515" stroke-width="1.25"/>
<text x="158.6" y="599" font-size="8.45" fill="#111" text-anchor="middle" stroke="#111" stroke-width="0.22">286.1</text>
<line x1="148.03" y1="600.5" x2="169.17" y2="600.5" stroke="#151515" stroke-width="1.25"/>
<line x1="168.8" y1="600.5" x2="182.2" y2="608.3" stroke="#151515" stroke-width="1.25"/>
<text x="113.2" y="595.8" font-size="8.45" fill="#111" text-anchor="middle" stroke="#111" stroke-width="0.22">CNO/C-F</text>
<line x1="95.6" y1="597.3" x2="130.8" y2="597.3" stroke="#151515" stroke-width="1.25"/>
<text x="113.1" y="604.9" font-size="8.45" fill="#111" text-anchor="middle" stroke="#111" stroke-width="0.22">288.0</text>
<line x1="102.53" y1="606.5" x2="123.67" y2="606.5" stroke="#151515" stroke-width="1.25"/>
<line x1="123.4" y1="606.5" x2="156.4" y2="612.3" stroke="#151515" stroke-width="1.25"/>
<rect x="301" y="393.3" width="229.4" height="240.9" fill="#e5edf9"/>
<g>
<path d="M356.1 460.9 L356.6 460.9 L357.1 460.9 L357.6 460.9 L358.1 460.9 L358.6 460.9 L359.1 460.8 L359.6 460.8 L360.1 460.8 L360.6 460.8 L361.1 460.8 L361.6 460.8 L362.1 460.7 L362.6 460.7 L363.1 460.7 L363.6 460.7 L364.1 460.6 L364.6 460.6 L365.1 460.6 L365.6 460.5 L366.1 460.5 L366.6 460.5 L367.1 460.4 L367.6 460.4 L368.1 460.3 L368.6 460.3 L369.1 460.2 L369.6 460.1 L370.1 460.1 L370.6 460 L371.1 459.9 L371.6 459.9 L372.1 459.8 L372.6 459.7 L373.1 459.6 L373.6 459.5 L374.1 459.4 L374.6 459.3 L375.1 459.1 L375.6 459 L376.1 458.9 L376.6 458.7 L377.1 458.6 L377.6 458.4 L378.1 458.3 L378.6 458.1 L379.1 457.9 L379.6 457.7 L380.1 457.5 L380.6 457.3 L381.1 457.1 L381.6 456.9 L382.1 456.6 L382.6 456.4 L383.1 456.1 L383.6 455.8 L384.1 455.5 L384.6 455.2 L385.1 454.9 L385.6 454.6 L386.1 454.2 L386.6 453.9 L387.1 453.5 L387.6 453.1 L388.1 452.7 L388.6 452.3 L389.1 451.9 L389.6 451.5 L390.1 451 L390.6 450.5 L391.1 450 L391.6 449.5 L392.1 449 L392.6 448.5 L393.1 448 L393.6 447.4 L394.1 446.8 L394.6 446.2 L395.1 445.6 L395.6 445 L396.1 444.4 L396.6 443.7 L397.1 443 L397.6 442.3 L398.1 441.7 L398.6 440.9 L399.1 440.2 L399.6 439.5 L400.1 438.7 L400.6 438 L401.1 437.2 L401.6 436.4 L402.1 435.6 L402.6 434.8 L403.1 434 L403.6 433.2 L404.1 432.4 L404.6 431.5 L405.1 430.7 L405.6 429.8 L406.1 429 L406.6 428.1 L407.1 427.3 L407.6 426.4 L408.1 425.5 L408.6 424.7 L409.1 423.8 L409.6 423 L410.1 422.1 L410.6 421.3 L411.1 420.4 L411.6 419.6 L412.1 418.8 L412.6 417.9 L413.1 417.1 L413.6 416.3 L414.1 415.5 L414.6 414.8 L415.1 414 L415.6 413.3 L416.1 412.6 L416.6 411.9 L417.1 411.2 L417.6 410.5 L418.1 409.9 L418.6 409.3 L419.1 408.7 L419.6 408.1 L420.1 407.6 L420.6 407 L421.1 406.6 L421.6 406.1 L422.1 405.7 L422.6 405.3 L423.1 404.9 L423.6 404.6 L424.1 404.3 L424.6 404 L425.1 403.7 L425.6 403.5 L426.1 403.4 L426.6 403.2 L427.1 403.1 L427.6 403 L428.1 403 L428.6 403 L429.1 403 L429.6 403.1 L430.1 403.2 L430.6 403.3 L431.1 403.4 L431.6 403.6 L432.1 403.7 L432.6 403.9 L433.1 404.2 L433.6 404.4 L434.1 404.7 L434.6 405 L435.1 405.3 L435.6 405.6 L436.1 406 L436.6 406.4 L437.1 406.8 L437.6 407.2 L438.1 407.7 L438.6 408.1 L439.1 408.6 L439.6 409.1 L440.1 409.6 L440.6 410.2 L441.1 410.7 L441.6 411.3 L442.1 411.9 L442.6 412.5 L443.1 413.1 L443.6 413.7 L444.1 414.3 L444.6 415 L445.1 415.6 L445.6 416.3 L446.1 417 L446.6 417.7 L447.1 418.4 L447.6 419.1 L448.1 419.8 L448.6 420.5 L449.1 421.2 L449.6 422 L450.1 422.7 L450.6 423.4 L451.1 424.2 L451.6 424.9 L452.1 425.7 L452.6 426.4 L453.1 427.2 L453.6 427.9 L454.1 428.6 L454.6 429.4 L455.1 430.1 L455.6 430.9 L456.1 431.6 L456.6 432.3 L457.1 433 L457.6 433.8 L458.1 434.5 L458.6 435.2 L459.1 435.9 L459.6 436.6 L460.1 437.3 L460.6 437.9 L461.1 438.6 L461.6 439.3 L462.1 439.9 L462.6 440.6 L463.1 441.2 L463.6 441.9 L464.1 442.5 L464.6 443.1 L465.1 443.7 L465.6 444.3 L466.1 444.9 L466.6 445.4 L467.1 446 L467.6 446.5 L468.1 447.1 L468.6 447.6 L469.1 448.1 L469.6 448.6 L470.1 449.1 L470.6 449.6 L471.1 450.1 L471.6 450.5 L472.1 451 L472.6 451.4 L473.1 451.8 L473.6 452.2 L474.1 452.6 L474.6 453 L475.1 453.4 L475.6 453.8 L476.1 454.1 L476.6 454.5 L477.1 454.8 L477.6 455.2 L478.1 455.5 L478.6 455.8 L479.1 456.1 L479.6 456.4 L480.1 456.7 L480.6 456.9 L481.1 457.2 L481.6 457.5 L482.1 457.7 L482.6 457.9 L483.1 458.2 L483.6 458.4 L484.1 458.6 L484.6 458.8 L485.1 459 L485.6 459.2 L486.1 459.4 L486.6 459.5 L487.1 459.7 L487.6 459.9 L488.1 460 L488.6 460.2 L489.1 460.3 L489.6 460.5 L490.1 460.6 L490.6 460.7 L491.1 460.8 L491.6 461 L492.1 461.1 L492.6 461.2 L493.1 461.3 L493.6 461.4 L494.1 461.5 L494.6 461.5 L495.1 461.6 L495.6 461.7 L496.1 461.8 L496.6 461.9 L497.1 461.9 L497.6 462 L498.1 462.1 L498.6 462.1 L499.1 462.2 L499.6 462.2 L500.1 462.3 L500.6 462.3 L501.1 462.4 L501.6 462.4 L502.1 462.5 L502.6 462.5 L503.1 462.6 L503.6 462.6 L504.1 462.6 L504.6 462.7 L505.1 462.7 L505.6 462.7 L506.1 462.7 L506.6 462.8 L507.1 462.8 L507.6 462.8 L508.1 462.8 L508.6 462.9 L509.1 462.9 L509.6 462.9 L510.1 462.9 L510.6 462.9 L511.1 463 L511.6 463 L512.1 463 L512.6 463 L513.1 463 L513.6 463 L514.1 463.1 L514.1 463.2 L513.6 463.2 L513.1 463.2 L512.6 463.2 L512.1 463.2 L511.6 463.2 L511.1 463.2 L510.6 463.1 L510.1 463.1 L509.6 463.1 L509.1 463.1 L508.6 463.1 L508.1 463.1 L507.6 463.1 L507.1 463.1 L506.6 463.1 L506.1 463.1 L505.6 463.1 L505.1 463.1 L504.6 463.1 L504.1 463.1 L503.6 463.1 L503.1 463.1 L502.6 463.1 L502.1 463.1 L501.6 463.1 L501.1 463.1 L500.6 463.1 L500.1 463.1 L499.6 463.1 L499.1 463.1 L498.6 463.1 L498.1 463.1 L497.6 463 L497.1 463 L496.6 463 L496.1 463 L495.6 463 L495.1 463 L494.6 463 L494.1 463 L493.6 463 L493.1 463 L492.6 463 L492.1 463 L491.6 463 L491.1 463 L490.6 463 L490.1 463 L489.6 463 L489.1 463 L488.6 463 L488.1 463 L487.6 463 L487.1 463 L486.6 463 L486.1 463 L485.6 463 L485.1 463 L484.6 462.9 L484.1 462.9 L483.6 462.9 L483.1 462.9 L482.6 462.9 L482.1 462.9 L481.6 462.9 L481.1 462.9 L480.6 462.9 L480.1 462.9 L479.6 462.9 L479.1 462.9 L478.6 462.9 L478.1 462.9 L477.6 462.9 L477.1 462.9 L476.6 462.9 L476.1 462.9 L475.6 462.9 L475.1 462.9 L474.6 462.9 L474.1 462.9 L473.6 462.9 L473.1 462.9 L472.6 462.8 L472.1 462.8 L471.6 462.8 L471.1 462.8 L470.6 462.8 L470.1 462.8 L469.6 462.8 L469.1 462.8 L468.6 462.8 L468.1 462.8 L467.6 462.8 L467.1 462.8 L466.6 462.8 L466.1 462.8 L465.6 462.8 L465.1 462.8 L464.6 462.8 L464.1 462.8 L463.6 462.8 L463.1 462.8 L462.6 462.8 L462.1 462.8 L461.6 462.7 L461.1 462.7 L460.6 462.7 L460.1 462.7 L459.6 462.7 L459.1 462.7 L458.6 462.7 L458.1 462.7 L457.6 462.7 L457.1 462.7 L456.6 462.7 L456.1 462.7 L455.6 462.7 L455.1 462.7 L454.6 462.7 L454.1 462.7 L453.6 462.6 L453.1 462.6 L452.6 462.6 L452.1 462.6 L451.6 462.6 L451.1 462.6 L450.6 462.6 L450.1 462.6 L449.6 462.6 L449.1 462.6 L448.6 462.6 L448.1 462.6 L447.6 462.5 L447.1 462.5 L446.6 462.5 L446.1 462.5 L445.6 462.5 L445.1 462.5 L444.6 462.5 L444.1 462.5 L443.6 462.5 L443.1 462.5 L442.6 462.4 L442.1 462.4 L441.6 462.4 L441.1 462.4 L440.6 462.4 L440.1 462.4 L439.6 462.4 L439.1 462.3 L438.6 462.3 L438.1 462.3 L437.6 462.3 L437.1 462.3 L436.6 462.3 L436.1 462.3 L435.6 462.2 L435.1 462.2 L434.6 462.2 L434.1 462.2 L433.6 462.2 L433.1 462.2 L432.6 462.1 L432.1 462.1 L431.6 462.1 L431.1 462.1 L430.6 462.1 L430.1 462.1 L429.6 462 L429.1 462 L428.6 462 L428.1 462 L427.6 462 L427.1 462 L426.6 461.9 L426.1 461.9 L425.6 461.9 L425.1 461.9 L424.6 461.9 L424.1 461.9 L423.6 461.8 L423.1 461.8 L422.6 461.8 L422.1 461.8 L421.6 461.8 L421.1 461.8 L420.6 461.8 L420.1 461.7 L419.6 461.7 L419.1 461.7 L418.6 461.7 L418.1 461.7 L417.6 461.7 L417.1 461.7 L416.6 461.7 L416.1 461.6 L415.6 461.6 L415.1 461.6 L414.6 461.6 L414.1 461.6 L413.6 461.6 L413.1 461.6 L412.6 461.6 L412.1 461.6 L411.6 461.6 L411.1 461.5 L410.6 461.5 L410.1 461.5 L409.6 461.5 L409.1 461.5 L408.6 461.5 L408.1 461.5 L407.6 461.5 L407.1 461.5 L406.6 461.5 L406.1 461.5 L405.6 461.5 L405.1 461.5 L404.6 461.4 L404.1 461.4 L403.6 461.4 L403.1 461.4 L402.6 461.4 L402.1 461.4 L401.6 461.4 L401.1 461.4 L400.6 461.4 L400.1 461.4 L399.6 461.4 L399.1 461.4 L398.6 461.4 L398.1 461.4 L397.6 461.4 L397.1 461.4 L396.6 461.4 L396.1 461.3 L395.6 461.3 L395.1 461.3 L394.6 461.3 L394.1 461.3 L393.6 461.3 L393.1 461.3 L392.6 461.3 L392.1 461.3 L391.6 461.3 L391.1 461.3 L390.6 461.3 L390.1 461.3 L389.6 461.3 L389.1 461.3 L388.6 461.3 L388.1 461.3 L387.6 461.3 L387.1 461.3 L386.6 461.3 L386.1 461.3 L385.6 461.3 L385.1 461.2 L384.6 461.2 L384.1 461.2 L383.6 461.2 L383.1 461.2 L382.6 461.2 L382.1 461.2 L381.6 461.2 L381.1 461.2 L380.6 461.2 L380.1 461.2 L379.6 461.2 L379.1 461.2 L378.6 461.2 L378.1 461.2 L377.6 461.2 L377.1 461.2 L376.6 461.2 L376.1 461.2 L375.6 461.2 L375.1 461.2 L374.6 461.2 L374.1 461.2 L373.6 461.2 L373.1 461.2 L372.6 461.1 L372.1 461.1 L371.6 461.1 L371.1 461.1 L370.6 461.1 L370.1 461.1 L369.6 461.1 L369.1 461.1 L368.6 461.1 L368.1 461.1 L367.6 461.1 L367.1 461.1 L366.6 461.1 L366.1 461.1 L365.6 461.1 L365.1 461.1 L364.6 461.1 L364.1 461.1 L363.6 461.1 L363.1 461.1 L362.6 461.1 L362.1 461.1 L361.6 461.1 L361.1 461.1 L360.6 461.1 L360.1 461.1 L359.6 461 L359.1 461 L358.6 461 L358.1 461 L357.6 461 L357.1 461 L356.6 461 L356.1 461Z" fill="url(#g4)" stroke="#cfcbe6" stroke-width="0.5"/>
<path d="M332.1 460.7 L332.6 460.7 L333.1 460.7 L333.6 460.7 L334.1 460.7 L334.6 460.7 L335.1 460.7 L335.6 460.6 L336.1 460.6 L336.6 460.6 L337.1 460.6 L337.6 460.6 L338.1 460.6 L338.6 460.5 L339.1 460.5 L339.6 460.5 L340.1 460.5 L340.6 460.4 L341.1 460.4 L341.6 460.4 L342.1 460.3 L342.6 460.3 L343.1 460.3 L343.6 460.2 L344.1 460.2 L344.6 460.2 L345.1 460.1 L345.6 460.1 L346.1 460 L346.6 460 L347.1 459.9 L347.6 459.9 L348.1 459.8 L348.6 459.7 L349.1 459.7 L349.6 459.6 L350.1 459.5 L350.6 459.5 L351.1 459.4 L351.6 459.3 L352.1 459.2 L352.6 459.1 L353.1 459.1 L353.6 459 L354.1 458.9 L354.6 458.8 L355.1 458.7 L355.6 458.6 L356.1 458.5 L356.6 458.4 L357.1 458.3 L357.6 458.2 L358.1 458.1 L358.6 458 L359.1 457.9 L359.6 457.7 L360.1 457.6 L360.6 457.5 L361.1 457.4 L361.6 457.3 L362.1 457.2 L362.6 457 L363.1 456.9 L363.6 456.8 L364.1 456.7 L364.6 456.6 L365.1 456.5 L365.6 456.3 L366.1 456.2 L366.6 456.1 L367.1 456 L367.6 455.9 L368.1 455.8 L368.6 455.7 L369.1 455.6 L369.6 455.5 L370.1 455.4 L370.6 455.3 L371.1 455.2 L371.6 455.1 L372.1 455 L372.6 455 L373.1 454.9 L373.6 454.8 L374.1 454.8 L374.6 454.7 L375.1 454.6 L375.6 454.6 L376.1 454.6 L376.6 454.5 L377.1 454.5 L377.6 454.5 L378.1 454.4 L378.6 454.4 L379.1 454.4 L379.6 454.4 L380.1 454.4 L380.6 454.4 L381.1 454.4 L381.6 454.5 L382.1 454.5 L382.6 454.5 L383.1 454.5 L383.6 454.6 L384.1 454.6 L384.6 454.7 L385.1 454.7 L385.6 454.8 L386.1 454.9 L386.6 455 L387.1 455 L387.6 455.1 L388.1 455.2 L388.6 455.3 L389.1 455.4 L389.6 455.5 L390.1 455.6 L390.6 455.7 L391.1 455.8 L391.6 455.9 L392.1 456 L392.6 456.1 L393.1 456.3 L393.6 456.4 L394.1 456.5 L394.6 456.6 L395.1 456.8 L395.6 456.9 L396.1 457 L396.6 457.1 L397.1 457.3 L397.6 457.4 L398.1 457.5 L398.6 457.6 L399.1 457.8 L399.6 457.9 L400.1 458 L400.6 458.1 L401.1 458.3 L401.6 458.4 L402.1 458.5 L402.6 458.6 L403.1 458.7 L403.6 458.8 L404.1 458.9 L404.6 459.1 L405.1 459.2 L405.6 459.3 L406.1 459.4 L406.6 459.5 L407.1 459.6 L407.6 459.7 L408.1 459.8 L408.6 459.8 L409.1 459.9 L409.6 460 L410.1 460.1 L410.6 460.2 L411.1 460.3 L411.6 460.3 L412.1 460.4 L412.6 460.5 L413.1 460.6 L413.6 460.6 L414.1 460.7 L414.6 460.8 L415.1 460.8 L415.6 460.9 L416.1 460.9 L416.6 461 L417.1 461 L417.6 461.1 L418.1 461.1 L418.6 461.2 L419.1 461.2 L419.6 461.3 L420.1 461.3 L420.6 461.4 L421.1 461.4 L421.6 461.4 L422.1 461.5 L422.6 461.5 L423.1 461.6 L423.6 461.6 L424.1 461.6 L424.6 461.7 L425.1 461.7 L425.6 461.7 L426.1 461.8 L426.6 461.8 L427.1 461.8 L427.6 461.8 L428.1 461.9 L428.1 462 L427.6 462 L427.1 462 L426.6 461.9 L426.1 461.9 L425.6 461.9 L425.1 461.9 L424.6 461.9 L424.1 461.9 L423.6 461.8 L423.1 461.8 L422.6 461.8 L422.1 461.8 L421.6 461.8 L421.1 461.8 L420.6 461.8 L420.1 461.7 L419.6 461.7 L419.1 461.7 L418.6 461.7 L418.1 461.7 L417.6 461.7 L417.1 461.7 L416.6 461.7 L416.1 461.6 L415.6 461.6 L415.1 461.6 L414.6 461.6 L414.1 461.6 L413.6 461.6 L413.1 461.6 L412.6 461.6 L412.1 461.6 L411.6 461.6 L411.1 461.5 L410.6 461.5 L410.1 461.5 L409.6 461.5 L409.1 461.5 L408.6 461.5 L408.1 461.5 L407.6 461.5 L407.1 461.5 L406.6 461.5 L406.1 461.5 L405.6 461.5 L405.1 461.5 L404.6 461.4 L404.1 461.4 L403.6 461.4 L403.1 461.4 L402.6 461.4 L402.1 461.4 L401.6 461.4 L401.1 461.4 L400.6 461.4 L400.1 461.4 L399.6 461.4 L399.1 461.4 L398.6 461.4 L398.1 461.4 L397.6 461.4 L397.1 461.4 L396.6 461.4 L396.1 461.3 L395.6 461.3 L395.1 461.3 L394.6 461.3 L394.1 461.3 L393.6 461.3 L393.1 461.3 L392.6 461.3 L392.1 461.3 L391.6 461.3 L391.1 461.3 L390.6 461.3 L390.1 461.3 L389.6 461.3 L389.1 461.3 L388.6 461.3 L388.1 461.3 L387.6 461.3 L387.1 461.3 L386.6 461.3 L386.1 461.3 L385.6 461.3 L385.1 461.2 L384.6 461.2 L384.1 461.2 L383.6 461.2 L383.1 461.2 L382.6 461.2 L382.1 461.2 L381.6 461.2 L381.1 461.2 L380.6 461.2 L380.1 461.2 L379.6 461.2 L379.1 461.2 L378.6 461.2 L378.1 461.2 L377.6 461.2 L377.1 461.2 L376.6 461.2 L376.1 461.2 L375.6 461.2 L375.1 461.2 L374.6 461.2 L374.1 461.2 L373.6 461.2 L373.1 461.2 L372.6 461.1 L372.1 461.1 L371.6 461.1 L371.1 461.1 L370.6 461.1 L370.1 461.1 L369.6 461.1 L369.1 461.1 L368.6 461.1 L368.1 461.1 L367.6 461.1 L367.1 461.1 L366.6 461.1 L366.1 461.1 L365.6 461.1 L365.1 461.1 L364.6 461.1 L364.1 461.1 L363.6 461.1 L363.1 461.1 L362.6 461.1 L362.1 461.1 L361.6 461.1 L361.1 461.1 L360.6 461.1 L360.1 461.1 L359.6 461 L359.1 461 L358.6 461 L358.1 461 L357.6 461 L357.1 461 L356.6 461 L356.1 461 L355.6 461 L355.1 461 L354.6 461 L354.1 461 L353.6 461 L353.1 461 L352.6 461 L352.1 461 L351.6 461 L351.1 461 L350.6 461 L350.1 461 L349.6 461 L349.1 461 L348.6 461 L348.1 461 L347.6 461 L347.1 461 L346.6 460.9 L346.1 460.9 L345.6 460.9 L345.1 460.9 L344.6 460.9 L344.1 460.9 L343.6 460.9 L343.1 460.9 L342.6 460.9 L342.1 460.9 L341.6 460.9 L341.1 460.9 L340.6 460.9 L340.1 460.9 L339.6 460.9 L339.1 460.9 L338.6 460.9 L338.1 460.9 L337.6 460.9 L337.1 460.9 L336.6 460.9 L336.1 460.9 L335.6 460.9 L335.1 460.9 L334.6 460.9 L334.1 460.9 L333.6 460.8 L333.1 460.8 L332.6 460.8 L332.1 460.8Z" fill="url(#g5)" stroke="#f3c2cf" stroke-width="0.5"/>
<g fill="#b0b3bb"><circle cx="304" cy="459.14" r="0.8"/><circle cx="306.55" cy="459.19" r="0.8"/><circle cx="309.1" cy="461.03" r="0.8"/><circle cx="311.65" cy="458.09" r="0.8"/><circle cx="314.2" cy="460.25" r="0.8"/><circle cx="316.75" cy="458.16" r="0.8"/><circle cx="319.3" cy="461.53" r="0.8"/><circle cx="321.85" cy="460.64" r="0.8"/><circle cx="324.4" cy="461.8" r="0.8"/><circle cx="326.95" cy="459.94" r="0.8"/><circle cx="329.5" cy="460.83" r="0.8"/><circle cx="332.05" cy="460.12" r="0.8"/><circle cx="334.6" cy="459.63" r="0.8"/><circle cx="337.15" cy="460.44" r="0.8"/><circle cx="339.7" cy="458.92" r="0.8"/><circle cx="342.25" cy="459.68" r="0.8"/><circle cx="344.8" cy="460.52" r="0.8"/><circle cx="347.35" cy="459.61" r="0.8"/><circle cx="349.9" cy="458.81" r="0.8"/><circle cx="352.45" cy="460.99" r="0.8"/><circle cx="355" cy="458.37" r="0.8"/><circle cx="357.55" cy="457.15" r="0.8"/><circle cx="360.1" cy="457.25" r="0.8"/><circle cx="362.65" cy="455.86" r="0.8"/><circle cx="365.2" cy="455.24" r="0.8"/><circle cx="367.75" cy="454.47" r="0.8"/><circle cx="370.3" cy="456.01" r="0.8"/><circle cx="372.85" cy="453.14" r="0.8"/><circle cx="375.4" cy="452.39" r="0.8"/><circle cx="377.95" cy="451.94" r="0.8"/><circle cx="380.5" cy="452.27" r="0.8"/><circle cx="383.05" cy="448.9" r="0.8"/><circle cx="385.6" cy="447.21" r="0.8"/><circle cx="388.15" cy="448.8" r="0.8"/><circle cx="390.7" cy="443.1" r="0.8"/><circle cx="393.25" cy="442.1" r="0.8"/><circle cx="395.8" cy="440.68" r="0.8"/><circle cx="398.35" cy="439.48" r="0.8"/><circle cx="400.9" cy="433.06" r="0.8"/><circle cx="403.45" cy="428.07" r="0.8"/><circle cx="406" cy="427.39" r="0.8"/><circle cx="408.55" cy="422.28" r="0.8"/><circle cx="411.1" cy="418.45" r="0.8"/><circle cx="413.65" cy="415.45" r="0.8"/><circle cx="416.2" cy="411.64" r="0.8"/><circle cx="418.75" cy="408.57" r="0.8"/><circle cx="421.3" cy="405.29" r="0.8"/><circle cx="423.85" cy="405.15" r="0.8"/><circle cx="426.4" cy="404.32" r="0.8"/><circle cx="428.95" cy="402.66" r="0.8"/><circle cx="431.5" cy="402.71" r="0.8"/><circle cx="434.05" cy="405.05" r="0.8"/><circle cx="436.6" cy="406.54" r="0.8"/><circle cx="439.15" cy="407.3" r="0.8"/><circle cx="441.7" cy="410.63" r="0.8"/><circle cx="444.25" cy="415.28" r="0.8"/><circle cx="446.8" cy="417.57" r="0.8"/><circle cx="449.35" cy="420.98" r="0.8"/><circle cx="451.9" cy="425.28" r="0.8"/><circle cx="454.45" cy="428.82" r="0.8"/><circle cx="457" cy="432.59" r="0.8"/><circle cx="459.55" cy="434.28" r="0.8"/><circle cx="462.1" cy="441.39" r="0.8"/><circle cx="464.65" cy="443.05" r="0.8"/><circle cx="467.2" cy="444.92" r="0.8"/><circle cx="469.75" cy="449.44" r="0.8"/><circle cx="472.3" cy="451.14" r="0.8"/><circle cx="474.85" cy="452.94" r="0.8"/><circle cx="477.4" cy="455.78" r="0.8"/><circle cx="479.95" cy="458.54" r="0.8"/><circle cx="482.5" cy="458.14" r="0.8"/><circle cx="485.05" cy="460.26" r="0.8"/><circle cx="487.6" cy="461.73" r="0.8"/><circle cx="490.15" cy="459.28" r="0.8"/><circle cx="492.7" cy="460.37" r="0.8"/><circle cx="495.25" cy="462.13" r="0.8"/><circle cx="497.8" cy="460.02" r="0.8"/><circle cx="500.35" cy="461.75" r="0.8"/><circle cx="502.9" cy="463.53" r="0.8"/><circle cx="505.45" cy="463.45" r="0.8"/><circle cx="508" cy="463.12" r="0.8"/><circle cx="510.55" cy="460.75" r="0.8"/><circle cx="513.1" cy="465.08" r="0.8"/><circle cx="515.65" cy="463.34" r="0.8"/><circle cx="518.2" cy="463.61" r="0.8"/><circle cx="520.75" cy="463.38" r="0.8"/><circle cx="523.3" cy="461.2" r="0.8"/><circle cx="525.85" cy="461.51" r="0.8"/></g>
<path d="M301.6 460.6 L302.1 460.6 L302.6 460.6 L303.1 460.6 L303.6 460.6 L304.1 460.6 L304.6 460.6 L305.1 460.6 L305.6 460.6 L306.1 460.6 L306.6 460.6 L307.1 460.6 L307.6 460.7 L308.1 460.7 L308.6 460.7 L309.1 460.7 L309.6 460.7 L310.1 460.7 L310.6 460.7 L311.1 460.7 L311.6 460.7 L312.1 460.7 L312.6 460.7 L313.1 460.7 L313.6 460.7 L314.1 460.7 L314.6 460.7 L315.1 460.7 L315.6 460.7 L316.1 460.7 L316.6 460.7 L317.1 460.7 L317.6 460.7 L318.1 460.7 L318.6 460.7 L319.1 460.7 L319.6 460.7 L320.1 460.7 L320.6 460.7 L321.1 460.8 L321.6 460.8 L322.1 460.8 L322.6 460.8 L323.1 460.8 L323.6 460.8 L324.1 460.8 L324.6 460.8 L325.1 460.8 L325.6 460.8 L326.1 460.8 L326.6 460.8 L327.1 460.8 L327.6 460.8 L328.1 460.8 L328.6 460.8 L329.1 460.8 L329.6 460.8 L330.1 460.8 L330.6 460.8 L331.1 460.8 L331.6 460.8 L332.1 460.8 L332.6 460.8 L333.1 460.8 L333.6 460.8 L334.1 460.9 L334.6 460.9 L335.1 460.9 L335.6 460.9 L336.1 460.9 L336.6 460.9 L337.1 460.9 L337.6 460.9 L338.1 460.9 L338.6 460.9 L339.1 460.9 L339.6 460.9 L340.1 460.9 L340.6 460.9 L341.1 460.9 L341.6 460.9 L342.1 460.9 L342.6 460.9 L343.1 460.9 L343.6 460.9 L344.1 460.9 L344.6 460.9 L345.1 460.9 L345.6 460.9 L346.1 460.9 L346.6 460.9 L347.1 461 L347.6 461 L348.1 461 L348.6 461 L349.1 461 L349.6 461 L350.1 461 L350.6 461 L351.1 461 L351.6 461 L352.1 461 L352.6 461 L353.1 461 L353.6 461 L354.1 461 L354.6 461 L355.1 461 L355.6 461 L356.1 461 L356.6 461 L357.1 461 L357.6 461 L358.1 461 L358.6 461 L359.1 461 L359.6 461 L360.1 461.1 L360.6 461.1 L361.1 461.1 L361.6 461.1 L362.1 461.1 L362.6 461.1 L363.1 461.1 L363.6 461.1 L364.1 461.1 L364.6 461.1 L365.1 461.1 L365.6 461.1 L366.1 461.1 L366.6 461.1 L367.1 461.1 L367.6 461.1 L368.1 461.1 L368.6 461.1 L369.1 461.1 L369.6 461.1 L370.1 461.1 L370.6 461.1 L371.1 461.1 L371.6 461.1 L372.1 461.1 L372.6 461.1 L373.1 461.2 L373.6 461.2 L374.1 461.2 L374.6 461.2 L375.1 461.2 L375.6 461.2 L376.1 461.2 L376.6 461.2 L377.1 461.2 L377.6 461.2 L378.1 461.2 L378.6 461.2 L379.1 461.2 L379.6 461.2 L380.1 461.2 L380.6 461.2 L381.1 461.2 L381.6 461.2 L382.1 461.2 L382.6 461.2 L383.1 461.2 L383.6 461.2 L384.1 461.2 L384.6 461.2 L385.1 461.2 L385.6 461.3 L386.1 461.3 L386.6 461.3 L387.1 461.3 L387.6 461.3 L388.1 461.3 L388.6 461.3 L389.1 461.3 L389.6 461.3 L390.1 461.3 L390.6 461.3 L391.1 461.3 L391.6 461.3 L392.1 461.3 L392.6 461.3 L393.1 461.3 L393.6 461.3 L394.1 461.3 L394.6 461.3 L395.1 461.3 L395.6 461.3 L396.1 461.3 L396.6 461.4 L397.1 461.4 L397.6 461.4 L398.1 461.4 L398.6 461.4 L399.1 461.4 L399.6 461.4 L400.1 461.4 L400.6 461.4 L401.1 461.4 L401.6 461.4 L402.1 461.4 L402.6 461.4 L403.1 461.4 L403.6 461.4 L404.1 461.4 L404.6 461.4 L405.1 461.5 L405.6 461.5 L406.1 461.5 L406.6 461.5 L407.1 461.5 L407.6 461.5 L408.1 461.5 L408.6 461.5 L409.1 461.5 L409.6 461.5 L410.1 461.5 L410.6 461.5 L411.1 461.5 L411.6 461.6 L412.1 461.6 L412.6 461.6 L413.1 461.6 L413.6 461.6 L414.1 461.6 L414.6 461.6 L415.1 461.6 L415.6 461.6 L416.1 461.6 L416.6 461.7 L417.1 461.7 L417.6 461.7 L418.1 461.7 L418.6 461.7 L419.1 461.7 L419.6 461.7 L420.1 461.7 L420.6 461.8 L421.1 461.8 L421.6 461.8 L422.1 461.8 L422.6 461.8 L423.1 461.8 L423.6 461.8 L424.1 461.9 L424.6 461.9 L425.1 461.9 L425.6 461.9 L426.1 461.9 L426.6 461.9 L427.1 462 L427.6 462 L428.1 462 L428.6 462 L429.1 462 L429.6 462 L430.1 462.1 L430.6 462.1 L431.1 462.1 L431.6 462.1 L432.1 462.1 L432.6 462.1 L433.1 462.2 L433.6 462.2 L434.1 462.2 L434.6 462.2 L435.1 462.2 L435.6 462.2 L436.1 462.3 L436.6 462.3 L437.1 462.3 L437.6 462.3 L438.1 462.3 L438.6 462.3 L439.1 462.3 L439.6 462.4 L440.1 462.4 L440.6 462.4 L441.1 462.4 L441.6 462.4 L442.1 462.4 L442.6 462.4 L443.1 462.5 L443.6 462.5 L444.1 462.5 L444.6 462.5 L445.1 462.5 L445.6 462.5 L446.1 462.5 L446.6 462.5 L447.1 462.5 L447.6 462.5 L448.1 462.6 L448.6 462.6 L449.1 462.6 L449.6 462.6 L450.1 462.6 L450.6 462.6 L451.1 462.6 L451.6 462.6 L452.1 462.6 L452.6 462.6 L453.1 462.6 L453.6 462.6 L454.1 462.7 L454.6 462.7 L455.1 462.7 L455.6 462.7 L456.1 462.7 L456.6 462.7 L457.1 462.7 L457.6 462.7 L458.1 462.7 L458.6 462.7 L459.1 462.7 L459.6 462.7 L460.1 462.7 L460.6 462.7 L461.1 462.7 L461.6 462.7 L462.1 462.8 L462.6 462.8 L463.1 462.8 L463.6 462.8 L464.1 462.8 L464.6 462.8 L465.1 462.8 L465.6 462.8 L466.1 462.8 L466.6 462.8 L467.1 462.8 L467.6 462.8 L468.1 462.8 L468.6 462.8 L469.1 462.8 L469.6 462.8 L470.1 462.8 L470.6 462.8 L471.1 462.8 L471.6 462.8 L472.1 462.8 L472.6 462.8 L473.1 462.9 L473.6 462.9 L474.1 462.9 L474.6 462.9 L475.1 462.9 L475.6 462.9 L476.1 462.9 L476.6 462.9 L477.1 462.9 L477.6 462.9 L478.1 462.9 L478.6 462.9 L479.1 462.9 L479.6 462.9 L480.1 462.9 L480.6 462.9 L481.1 462.9 L481.6 462.9 L482.1 462.9 L482.6 462.9 L483.1 462.9 L483.6 462.9 L484.1 462.9 L484.6 462.9 L485.1 463 L485.6 463 L486.1 463 L486.6 463 L487.1 463 L487.6 463 L488.1 463 L488.6 463 L489.1 463 L489.6 463 L490.1 463 L490.6 463 L491.1 463 L491.6 463 L492.1 463 L492.6 463 L493.1 463 L493.6 463 L494.1 463 L494.6 463 L495.1 463 L495.6 463 L496.1 463 L496.6 463 L497.1 463 L497.6 463 L498.1 463.1 L498.6 463.1 L499.1 463.1 L499.6 463.1 L500.1 463.1 L500.6 463.1 L501.1 463.1 L501.6 463.1 L502.1 463.1 L502.6 463.1 L503.1 463.1 L503.6 463.1 L504.1 463.1 L504.6 463.1 L505.1 463.1 L505.6 463.1 L506.1 463.1 L506.6 463.1 L507.1 463.1 L507.6 463.1 L508.1 463.1 L508.6 463.1 L509.1 463.1 L509.6 463.1 L510.1 463.1 L510.6 463.1 L511.1 463.2 L511.6 463.2 L512.1 463.2 L512.6 463.2 L513.1 463.2 L513.6 463.2 L514.1 463.2 L514.6 463.2 L515.1 463.2 L515.6 463.2 L516.1 463.2 L516.6 463.2 L517.1 463.2 L517.6 463.2 L518.1 463.2 L518.6 463.2 L519.1 463.2 L519.6 463.2 L520.1 463.2 L520.6 463.2 L521.1 463.2 L521.6 463.2 L522.1 463.2 L522.6 463.2 L523.1 463.2 L523.6 463.2 L524.1 463.3 L524.6 463.3 L525.1 463.3 L525.6 463.3 L526.1 463.3 L526.6 463.3 L527.1 463.3 L527.6 463.3 L528.1 463.3 L528.6 463.3 L529.1 463.3 L529.6 463.3" fill="none" stroke="#3d9bd6" stroke-width="1.2" stroke-linejoin="round" stroke-linecap="round"/>
<path d="M301.6 460.6 L302.1 460.6 L302.6 460.6 L303.1 460.6 L303.6 460.6 L304.1 460.6 L304.6 460.6 L305.1 460.6 L305.6 460.6 L306.1 460.6 L306.6 460.6 L307.1 460.6 L307.6 460.6 L308.1 460.7 L308.6 460.7 L309.1 460.7 L309.6 460.7 L310.1 460.7 L310.6 460.7 L311.1 460.7 L311.6 460.7 L312.1 460.7 L312.6 460.7 L313.1 460.7 L313.6 460.7 L314.1 460.7 L314.6 460.7 L315.1 460.7 L315.6 460.7 L316.1 460.7 L316.6 460.7 L317.1 460.7 L317.6 460.7 L318.1 460.7 L318.6 460.7 L319.1 460.7 L319.6 460.7 L320.1 460.7 L320.6 460.7 L321.1 460.7 L321.6 460.7 L322.1 460.7 L322.6 460.7 L323.1 460.7 L323.6 460.7 L324.1 460.7 L324.6 460.7 L325.1 460.7 L325.6 460.7 L326.1 460.7 L326.6 460.7 L327.1 460.7 L327.6 460.7 L328.1 460.7 L328.6 460.7 L329.1 460.7 L329.6 460.7 L330.1 460.7 L330.6 460.7 L331.1 460.7 L331.6 460.7 L332.1 460.7 L332.6 460.7 L333.1 460.7 L333.6 460.7 L334.1 460.7 L334.6 460.7 L335.1 460.7 L335.6 460.6 L336.1 460.6 L336.6 460.6 L337.1 460.6 L337.6 460.6 L338.1 460.6 L338.6 460.5 L339.1 460.5 L339.6 460.5 L340.1 460.5 L340.6 460.4 L341.1 460.4 L341.6 460.4 L342.1 460.3 L342.6 460.3 L343.1 460.3 L343.6 460.2 L344.1 460.2 L344.6 460.1 L345.1 460.1 L345.6 460 L346.1 460 L346.6 459.9 L347.1 459.9 L347.6 459.8 L348.1 459.8 L348.6 459.7 L349.1 459.6 L349.6 459.6 L350.1 459.5 L350.6 459.4 L351.1 459.3 L351.6 459.3 L352.1 459.2 L352.6 459.1 L353.1 459 L353.6 458.9 L354.1 458.8 L354.6 458.7 L355.1 458.6 L355.6 458.5 L356.1 458.4 L356.6 458.3 L357.1 458.1 L357.6 458 L358.1 457.9 L358.6 457.8 L359.1 457.7 L359.6 457.5 L360.1 457.4 L360.6 457.3 L361.1 457.1 L361.6 457 L362.1 456.8 L362.6 456.7 L363.1 456.6 L363.6 456.4 L364.1 456.3 L364.6 456.1 L365.1 456 L365.6 455.8 L366.1 455.6 L366.6 455.5 L367.1 455.3 L367.6 455.2 L368.1 455 L368.6 454.8 L369.1 454.7 L369.6 454.5 L370.1 454.3 L370.6 454.2 L371.1 454 L371.6 453.8 L372.1 453.7 L372.6 453.5 L373.1 453.3 L373.6 453.2 L374.1 453 L374.6 452.8 L375.1 452.6 L375.6 452.4 L376.1 452.3 L376.6 452.1 L377.1 451.9 L377.6 451.7 L378.1 451.5 L378.6 451.3 L379.1 451.1 L379.6 450.9 L380.1 450.7 L380.6 450.5 L381.1 450.3 L381.6 450.1 L382.1 449.9 L382.6 449.6 L383.1 449.4 L383.6 449.2 L384.1 448.9 L384.6 448.7 L385.1 448.4 L385.6 448.1 L386.1 447.9 L386.6 447.6 L387.1 447.3 L387.6 447 L388.1 446.7 L388.6 446.3 L389.1 446 L389.6 445.7 L390.1 445.3 L390.6 444.9 L391.1 444.6 L391.6 444.2 L392.1 443.8 L392.6 443.3 L393.1 442.9 L393.6 442.5 L394.1 442 L394.6 441.5 L395.1 441 L395.6 440.5 L396.1 440 L396.6 439.5 L397.1 438.9 L397.6 438.4 L398.1 437.8 L398.6 437.2 L399.1 436.6 L399.6 436 L400.1 435.3 L400.6 434.7 L401.1 434 L401.6 433.4 L402.1 432.7 L402.6 432 L403.1 431.3 L403.6 430.6 L404.1 429.9 L404.6 429.1 L405.1 428.4 L405.6 427.6 L406.1 426.9 L406.6 426.1 L407.1 425.3 L407.6 424.6 L408.1 423.8 L408.6 423 L409.1 422.2 L409.6 421.5 L410.1 420.7 L410.6 419.9 L411.1 419.1 L411.6 418.4 L412.1 417.6 L412.6 416.9 L413.1 416.1 L413.6 415.4 L414.1 414.6 L414.6 413.9 L415.1 413.2 L415.6 412.5 L416.1 411.9 L416.6 411.2 L417.1 410.6 L417.6 409.9 L418.1 409.3 L418.6 408.7 L419.1 408.2 L419.6 407.7 L420.1 407.1 L420.6 406.7 L421.1 406.2 L421.6 405.8 L422.1 405.4 L422.6 405 L423.1 404.6 L423.6 404.3 L424.1 404 L424.6 403.8 L425.1 403.5 L425.6 403.3 L426.1 403.2 L426.6 403.1 L427.1 403 L427.6 402.9 L428.1 402.9 L428.6 402.9 L429.1 402.9 L429.6 403 L430.1 403.1 L430.6 403.2 L431.1 403.3 L431.6 403.5 L432.1 403.7 L432.6 403.9 L433.1 404.1 L433.6 404.4 L434.1 404.6 L434.6 404.9 L435.1 405.3 L435.6 405.6 L436.1 406 L436.6 406.4 L437.1 406.8 L437.6 407.2 L438.1 407.6 L438.6 408.1 L439.1 408.6 L439.6 409.1 L440.1 409.6 L440.6 410.2 L441.1 410.7 L441.6 411.3 L442.1 411.9 L442.6 412.5 L443.1 413.1 L443.6 413.7 L444.1 414.3 L444.6 415 L445.1 415.6 L445.6 416.3 L446.1 417 L446.6 417.7 L447.1 418.4 L447.6 419.1 L448.1 419.8 L448.6 420.5 L449.1 421.2 L449.6 422 L450.1 422.7 L450.6 423.4 L451.1 424.2 L451.6 424.9 L452.1 425.7 L452.6 426.4 L453.1 427.1 L453.6 427.9 L454.1 428.6 L454.6 429.4 L455.1 430.1 L455.6 430.9 L456.1 431.6 L456.6 432.3 L457.1 433 L457.6 433.8 L458.1 434.5 L458.6 435.2 L459.1 435.9 L459.6 436.6 L460.1 437.3 L460.6 437.9 L461.1 438.6 L461.6 439.3 L462.1 439.9 L462.6 440.6 L463.1 441.2 L463.6 441.9 L464.1 442.5 L464.6 443.1 L465.1 443.7 L465.6 444.3 L466.1 444.9 L466.6 445.4 L467.1 446 L467.6 446.5 L468.1 447.1 L468.6 447.6 L469.1 448.1 L469.6 448.6 L470.1 449.1 L470.6 449.6 L471.1 450.1 L471.6 450.5 L472.1 451 L472.6 451.4 L473.1 451.8 L473.6 452.2 L474.1 452.6 L474.6 453 L475.1 453.4 L475.6 453.8 L476.1 454.1 L476.6 454.5 L477.1 454.8 L477.6 455.2 L478.1 455.5 L478.6 455.8 L479.1 456.1 L479.6 456.4 L480.1 456.7 L480.6 456.9 L481.1 457.2 L481.6 457.5 L482.1 457.7 L482.6 457.9 L483.1 458.2 L483.6 458.4 L484.1 458.6 L484.6 458.8 L485.1 459 L485.6 459.2 L486.1 459.4 L486.6 459.5 L487.1 459.7 L487.6 459.9 L488.1 460 L488.6 460.2 L489.1 460.3 L489.6 460.5 L490.1 460.6 L490.6 460.7 L491.1 460.8 L491.6 461 L492.1 461.1 L492.6 461.2 L493.1 461.3 L493.6 461.4 L494.1 461.5 L494.6 461.5 L495.1 461.6 L495.6 461.7 L496.1 461.8 L496.6 461.9 L497.1 461.9 L497.6 462 L498.1 462.1 L498.6 462.1 L499.1 462.2 L499.6 462.2 L500.1 462.3 L500.6 462.3 L501.1 462.4 L501.6 462.4 L502.1 462.5 L502.6 462.5 L503.1 462.6 L503.6 462.6 L504.1 462.6 L504.6 462.7 L505.1 462.7 L505.6 462.7 L506.1 462.7 L506.6 462.8 L507.1 462.8 L507.6 462.8 L508.1 462.8 L508.6 462.9 L509.1 462.9 L509.6 462.9 L510.1 462.9 L510.6 462.9 L511.1 463 L511.6 463 L512.1 463 L512.6 463 L513.1 463 L513.6 463 L514.1 463.1 L514.6 463.1 L515.1 463.1 L515.6 463.1 L516.1 463.1 L516.6 463.1 L517.1 463.1 L517.6 463.1 L518.1 463.1 L518.6 463.1 L519.1 463.2 L519.6 463.2 L520.1 463.2 L520.6 463.2 L521.1 463.2 L521.6 463.2 L522.1 463.2 L522.6 463.2 L523.1 463.2 L523.6 463.2 L524.1 463.2 L524.6 463.2 L525.1 463.2 L525.6 463.2 L526.1 463.2 L526.6 463.3 L527.1 463.3 L527.6 463.3 L528.1 463.3 L528.6 463.3 L529.1 463.3 L529.6 463.3" fill="none" stroke="#2b8bcb" stroke-width="1.45" stroke-linejoin="round" stroke-linecap="round"/>
</g>
<g>
<path d="M301.6 541.5 L302.1 541.5 L302.6 541.5 L303.1 541.5 L303.6 541.5 L304.1 541.5 L304.6 541.5 L305.1 541.5 L305.6 541.5 L306.1 541.5 L306.6 541.5 L307.1 541.5 L307.6 541.5 L308.1 541.5 L308.6 541.5 L309.1 541.5 L309.6 541.5 L310.1 541.5 L310.6 541.5 L311.1 541.5 L311.6 541.5 L312.1 541.5 L312.6 541.5 L313.1 541.5 L313.6 541.5 L314.1 541.5 L314.6 541.5 L315.1 541.5 L315.6 541.5 L316.1 541.5 L316.6 541.5 L317.1 541.5 L317.6 541.5 L318.1 541.5 L318.6 541.5 L319.1 541.5 L319.6 541.5 L320.1 541.5 L320.6 541.5 L321.1 541.5 L321.6 541.5 L322.1 541.4 L322.6 541.4 L323.1 541.4 L323.6 541.4 L324.1 541.4 L324.6 541.4 L325.1 541.4 L325.6 541.4 L326.1 541.4 L326.6 541.4 L327.1 541.4 L327.6 541.4 L328.1 541.4 L328.6 541.4 L329.1 541.4 L329.6 541.4 L330.1 541.4 L330.6 541.4 L331.1 541.4 L331.6 541.4 L332.1 541.4 L332.6 541.4 L333.1 541.4 L333.6 541.4 L334.1 541.4 L334.6 541.4 L335.1 541.4 L335.6 541.4 L336.1 541.4 L336.6 541.4 L337.1 541.3 L337.6 541.3 L338.1 541.3 L338.6 541.3 L339.1 541.3 L339.6 541.3 L340.1 541.3 L340.6 541.3 L341.1 541.3 L341.6 541.3 L342.1 541.3 L342.6 541.3 L343.1 541.3 L343.6 541.3 L344.1 541.3 L344.6 541.3 L345.1 541.3 L345.6 541.3 L346.1 541.2 L346.6 541.2 L347.1 541.2 L347.6 541.2 L348.1 541.2 L348.6 541.2 L349.1 541.2 L349.6 541.2 L350.1 541.2 L350.6 541.2 L351.1 541.2 L351.6 541.2 L352.1 541.2 L352.6 541.1 L353.1 541.1 L353.6 541.1 L354.1 541.1 L354.6 541.1 L355.1 541.1 L355.6 541.1 L356.1 541.1 L356.6 541.1 L357.1 541.1 L357.6 541 L358.1 541 L358.6 541 L359.1 541 L359.6 541 L360.1 541 L360.6 541 L361.1 541 L361.6 540.9 L362.1 540.9 L362.6 540.9 L363.1 540.9 L363.6 540.9 L364.1 540.9 L364.6 540.9 L365.1 540.8 L365.6 540.8 L366.1 540.8 L366.6 540.8 L367.1 540.8 L367.6 540.8 L368.1 540.7 L368.6 540.7 L369.1 540.7 L369.6 540.7 L370.1 540.6 L370.6 540.6 L371.1 540.6 L371.6 540.6 L372.1 540.5 L372.6 540.5 L373.1 540.5 L373.6 540.5 L374.1 540.4 L374.6 540.4 L375.1 540.4 L375.6 540.3 L376.1 540.3 L376.6 540.3 L377.1 540.2 L377.6 540.2 L378.1 540.1 L378.6 540.1 L379.1 540 L379.6 540 L380.1 539.9 L380.6 539.9 L381.1 539.8 L381.6 539.7 L382.1 539.7 L382.6 539.6 L383.1 539.5 L383.6 539.5 L384.1 539.4 L384.6 539.3 L385.1 539.2 L385.6 539.1 L386.1 539 L386.6 538.9 L387.1 538.8 L387.6 538.7 L388.1 538.6 L388.6 538.4 L389.1 538.3 L389.6 538.2 L390.1 538 L390.6 537.9 L391.1 537.7 L391.6 537.5 L392.1 537.3 L392.6 537.2 L393.1 537 L393.6 536.8 L394.1 536.5 L394.6 536.3 L395.1 536.1 L395.6 535.8 L396.1 535.6 L396.6 535.3 L397.1 535 L397.6 534.7 L398.1 534.4 L398.6 534.1 L399.1 533.7 L399.6 533.4 L400.1 533 L400.6 532.7 L401.1 532.3 L401.6 531.9 L402.1 531.4 L402.6 531 L403.1 530.5 L403.6 530.1 L404.1 529.6 L404.6 529.1 L405.1 528.6 L405.6 528 L406.1 527.5 L406.6 526.9 L407.1 526.3 L407.6 525.7 L408.1 525.1 L408.6 524.5 L409.1 523.8 L409.6 523.2 L410.1 522.5 L410.6 521.8 L411.1 521.1 L411.6 520.3 L412.1 519.6 L412.6 518.8 L413.1 518.1 L413.6 517.3 L414.1 516.5 L414.6 515.7 L415.1 514.9 L415.6 514 L416.1 513.2 L416.6 512.4 L417.1 511.5 L417.6 510.6 L418.1 509.8 L418.6 508.9 L419.1 508 L419.6 507.1 L420.1 506.3 L420.6 505.4 L421.1 504.5 L421.6 503.6 L422.1 502.8 L422.6 501.9 L423.1 501.1 L423.6 500.2 L424.1 499.4 L424.6 498.6 L425.1 497.8 L425.6 497 L426.1 496.2 L426.6 495.5 L427.1 494.7 L427.6 494 L428.1 493.4 L428.6 492.7 L429.1 492.1 L429.6 491.5 L430.1 491 L430.6 490.4 L431.1 490 L431.6 489.5 L432.1 489.1 L432.6 488.8 L433.1 488.5 L433.6 488.2 L434.1 488 L434.6 487.8 L435.1 487.7 L435.6 487.6 L436.1 487.6 L436.6 487.6 L437.1 487.6 L437.6 487.7 L438.1 487.8 L438.6 487.9 L439.1 488 L439.6 488.2 L440.1 488.4 L440.6 488.6 L441.1 488.8 L441.6 489.1 L442.1 489.4 L442.6 489.7 L443.1 490.1 L443.6 490.4 L444.1 490.8 L444.6 491.2 L445.1 491.6 L445.6 492.1 L446.1 492.5 L446.6 493 L447.1 493.5 L447.6 494.1 L448.1 494.6 L448.6 495.2 L449.1 495.7 L449.6 496.3 L450.1 496.9 L450.6 497.5 L451.1 498.2 L451.6 498.8 L452.1 499.5 L452.6 500.1 L453.1 500.8 L453.6 501.5 L454.1 502.2 L454.6 502.9 L455.1 503.6 L455.6 504.3 L456.1 505 L456.6 505.7 L457.1 506.5 L457.6 507.2 L458.1 507.9 L458.6 508.6 L459.1 509.4 L459.6 510.1 L460.1 510.8 L460.6 511.6 L461.1 512.3 L461.6 513 L462.1 513.8 L462.6 514.5 L463.1 515.2 L463.6 515.9 L464.1 516.6 L464.6 517.3 L465.1 518 L465.6 518.7 L466.1 519.4 L466.6 520.1 L467.1 520.7 L467.6 521.4 L468.1 522 L468.6 522.7 L469.1 523.3 L469.6 523.9 L470.1 524.5 L470.6 525.1 L471.1 525.7 L471.6 526.3 L472.1 526.8 L472.6 527.4 L473.1 527.9 L473.6 528.5 L474.1 529 L474.6 529.5 L475.1 530 L475.6 530.5 L476.1 531 L476.6 531.4 L477.1 531.9 L477.6 532.3 L478.1 532.7 L478.6 533.2 L479.1 533.6 L479.6 534 L480.1 534.3 L480.6 534.7 L481.1 535.1 L481.6 535.4 L482.1 535.7 L482.6 536.1 L483.1 536.4 L483.6 536.7 L484.1 537 L484.6 537.3 L485.1 537.6 L485.6 537.8 L486.1 538.1 L486.6 538.3 L487.1 538.6 L487.6 538.8 L488.1 539 L488.6 539.2 L489.1 539.4 L489.6 539.6 L490.1 539.8 L490.6 540 L491.1 540.2 L491.6 540.3 L492.1 540.5 L492.6 540.7 L493.1 540.8 L493.6 540.9 L494.1 541.1 L494.6 541.2 L495.1 541.3 L495.6 541.4 L496.1 541.6 L496.6 541.7 L497.1 541.8 L497.6 541.9 L498.1 541.9 L498.6 542 L499.1 542.1 L499.6 542.2 L500.1 542.3 L500.6 542.3 L501.1 542.4 L501.6 542.5 L502.1 542.5 L502.6 542.6 L503.1 542.7 L503.6 542.7 L504.1 542.8 L504.6 542.8 L505.1 542.8 L505.6 542.9 L506.1 542.9 L506.6 543 L507.1 543 L507.6 543 L508.1 543.1 L508.6 543.1 L509.1 543.1 L509.6 543.2 L510.1 543.2 L510.6 543.2 L511.1 543.2 L511.6 543.2 L512.1 543.3 L512.6 543.3 L513.1 543.3 L513.6 543.3 L514.1 543.3 L514.6 543.4 L515.1 543.4 L515.6 543.4 L516.1 543.4 L516.6 543.4 L516.6 543.5 L516.1 543.5 L515.6 543.5 L515.1 543.5 L514.6 543.5 L514.1 543.5 L513.6 543.5 L513.1 543.5 L512.6 543.5 L512.1 543.5 L511.6 543.5 L511.1 543.5 L510.6 543.5 L510.1 543.5 L509.6 543.5 L509.1 543.5 L508.6 543.5 L508.1 543.5 L507.6 543.5 L507.1 543.5 L506.6 543.5 L506.1 543.5 L505.6 543.5 L505.1 543.5 L504.6 543.5 L504.1 543.5 L503.6 543.5 L503.1 543.5 L502.6 543.5 L502.1 543.5 L501.6 543.5 L501.1 543.5 L500.6 543.5 L500.1 543.5 L499.6 543.5 L499.1 543.4 L498.6 543.4 L498.1 543.4 L497.6 543.4 L497.1 543.4 L496.6 543.4 L496.1 543.4 L495.6 543.4 L495.1 543.4 L494.6 543.4 L494.1 543.4 L493.6 543.4 L493.1 543.4 L492.6 543.4 L492.1 543.4 L491.6 543.4 L491.1 543.4 L490.6 543.4 L490.1 543.4 L489.6 543.4 L489.1 543.4 L488.6 543.4 L488.1 543.4 L487.6 543.4 L487.1 543.4 L486.6 543.4 L486.1 543.4 L485.6 543.4 L485.1 543.4 L484.6 543.4 L484.1 543.4 L483.6 543.4 L483.1 543.4 L482.6 543.4 L482.1 543.4 L481.6 543.4 L481.1 543.4 L480.6 543.4 L480.1 543.4 L479.6 543.4 L479.1 543.3 L478.6 543.3 L478.1 543.3 L477.6 543.3 L477.1 543.3 L476.6 543.3 L476.1 543.3 L475.6 543.3 L475.1 543.3 L474.6 543.3 L474.1 543.3 L473.6 543.3 L473.1 543.3 L472.6 543.3 L472.1 543.3 L471.6 543.3 L471.1 543.3 L470.6 543.3 L470.1 543.3 L469.6 543.3 L469.1 543.3 L468.6 543.3 L468.1 543.3 L467.6 543.3 L467.1 543.3 L466.6 543.3 L466.1 543.3 L465.6 543.3 L465.1 543.3 L464.6 543.3 L464.1 543.3 L463.6 543.3 L463.1 543.2 L462.6 543.2 L462.1 543.2 L461.6 543.2 L461.1 543.2 L460.6 543.2 L460.1 543.2 L459.6 543.2 L459.1 543.2 L458.6 543.2 L458.1 543.2 L457.6 543.2 L457.1 543.2 L456.6 543.2 L456.1 543.2 L455.6 543.2 L455.1 543.2 L454.6 543.2 L454.1 543.2 L453.6 543.2 L453.1 543.2 L452.6 543.1 L452.1 543.1 L451.6 543.1 L451.1 543.1 L450.6 543.1 L450.1 543.1 L449.6 543.1 L449.1 543.1 L448.6 543.1 L448.1 543.1 L447.6 543.1 L447.1 543.1 L446.6 543.1 L446.1 543 L445.6 543 L445.1 543 L444.6 543 L444.1 543 L443.6 543 L443.1 543 L442.6 543 L442.1 543 L441.6 543 L441.1 543 L440.6 542.9 L440.1 542.9 L439.6 542.9 L439.1 542.9 L438.6 542.9 L438.1 542.9 L437.6 542.9 L437.1 542.9 L436.6 542.9 L436.1 542.8 L435.6 542.8 L435.1 542.8 L434.6 542.8 L434.1 542.8 L433.6 542.8 L433.1 542.8 L432.6 542.8 L432.1 542.8 L431.6 542.8 L431.1 542.7 L430.6 542.7 L430.1 542.7 L429.6 542.7 L429.1 542.7 L428.6 542.7 L428.1 542.7 L427.6 542.7 L427.1 542.7 L426.6 542.7 L426.1 542.7 L425.6 542.6 L425.1 542.6 L424.6 542.6 L424.1 542.6 L423.6 542.6 L423.1 542.6 L422.6 542.6 L422.1 542.6 L421.6 542.6 L421.1 542.6 L420.6 542.6 L420.1 542.6 L419.6 542.6 L419.1 542.5 L418.6 542.5 L418.1 542.5 L417.6 542.5 L417.1 542.5 L416.6 542.5 L416.1 542.5 L415.6 542.5 L415.1 542.5 L414.6 542.5 L414.1 542.5 L413.6 542.5 L413.1 542.5 L412.6 542.5 L412.1 542.5 L411.6 542.5 L411.1 542.5 L410.6 542.5 L410.1 542.5 L409.6 542.5 L409.1 542.4 L408.6 542.4 L408.1 542.4 L407.6 542.4 L407.1 542.4 L406.6 542.4 L406.1 542.4 L405.6 542.4 L405.1 542.4 L404.6 542.4 L404.1 542.4 L403.6 542.4 L403.1 542.4 L402.6 542.4 L402.1 542.4 L401.6 542.4 L401.1 542.4 L400.6 542.4 L400.1 542.4 L399.6 542.4 L399.1 542.4 L398.6 542.4 L398.1 542.4 L397.6 542.4 L397.1 542.4 L396.6 542.4 L396.1 542.4 L395.6 542.4 L395.1 542.4 L394.6 542.4 L394.1 542.4 L393.6 542.4 L393.1 542.3 L392.6 542.3 L392.1 542.3 L391.6 542.3 L391.1 542.3 L390.6 542.3 L390.1 542.3 L389.6 542.3 L389.1 542.3 L388.6 542.3 L388.1 542.3 L387.6 542.3 L387.1 542.3 L386.6 542.3 L386.1 542.3 L385.6 542.3 L385.1 542.3 L384.6 542.3 L384.1 542.3 L383.6 542.3 L383.1 542.3 L382.6 542.3 L382.1 542.3 L381.6 542.3 L381.1 542.3 L380.6 542.3 L380.1 542.3 L379.6 542.3 L379.1 542.3 L378.6 542.3 L378.1 542.3 L377.6 542.3 L377.1 542.3 L376.6 542.3 L376.1 542.3 L375.6 542.3 L375.1 542.3 L374.6 542.3 L374.1 542.3 L373.6 542.3 L373.1 542.2 L372.6 542.2 L372.1 542.2 L371.6 542.2 L371.1 542.2 L370.6 542.2 L370.1 542.2 L369.6 542.2 L369.1 542.2 L368.6 542.2 L368.1 542.2 L367.6 542.2 L367.1 542.2 L366.6 542.2 L366.1 542.2 L365.6 542.2 L365.1 542.2 L364.6 542.2 L364.1 542.2 L363.6 542.2 L363.1 542.2 L362.6 542.2 L362.1 542.2 L361.6 542.2 L361.1 542.2 L360.6 542.2 L360.1 542.2 L359.6 542.2 L359.1 542.2 L358.6 542.2 L358.1 542.2 L357.6 542.2 L357.1 542.2 L356.6 542.2 L356.1 542.2 L355.6 542.2 L355.1 542.2 L354.6 542.2 L354.1 542.2 L353.6 542.2 L353.1 542.2 L352.6 542.1 L352.1 542.1 L351.6 542.1 L351.1 542.1 L350.6 542.1 L350.1 542.1 L349.6 542.1 L349.1 542.1 L348.6 542.1 L348.1 542.1 L347.6 542.1 L347.1 542.1 L346.6 542.1 L346.1 542.1 L345.6 542.1 L345.1 542.1 L344.6 542.1 L344.1 542.1 L343.6 542.1 L343.1 542.1 L342.6 542.1 L342.1 542.1 L341.6 542.1 L341.1 542.1 L340.6 542.1 L340.1 542.1 L339.6 542.1 L339.1 542.1 L338.6 542.1 L338.1 542.1 L337.6 542.1 L337.1 542.1 L336.6 542.1 L336.1 542.1 L335.6 542.1 L335.1 542.1 L334.6 542.1 L334.1 542.1 L333.6 542.1 L333.1 542.1 L332.6 542.1 L332.1 542 L331.6 542 L331.1 542 L330.6 542 L330.1 542 L329.6 542 L329.1 542 L328.6 542 L328.1 542 L327.6 542 L327.1 542 L326.6 542 L326.1 542 L325.6 542 L325.1 542 L324.6 542 L324.1 542 L323.6 542 L323.1 542 L322.6 542 L322.1 542 L321.6 542 L321.1 542 L320.6 542 L320.1 542 L319.6 542 L319.1 542 L318.6 542 L318.1 542 L317.6 542 L317.1 542 L316.6 542 L316.1 542 L315.6 542 L315.1 542 L314.6 542 L314.1 542 L313.6 542 L313.1 542 L312.6 542 L312.1 542 L311.6 542 L311.1 541.9 L310.6 541.9 L310.1 541.9 L309.6 541.9 L309.1 541.9 L308.6 541.9 L308.1 541.9 L307.6 541.9 L307.1 541.9 L306.6 541.9 L306.1 541.9 L305.6 541.9 L305.1 541.9 L304.6 541.9 L304.1 541.9 L303.6 541.9 L303.1 541.9 L302.6 541.9 L302.1 541.9 L301.6 541.9Z" fill="url(#g4)" stroke="#cfcbe6" stroke-width="0.5"/>
<path d="M332.6 541.9 L333.1 541.9 L333.6 541.9 L334.1 541.9 L334.6 541.9 L335.1 541.9 L335.6 541.8 L336.1 541.8 L336.6 541.8 L337.1 541.8 L337.6 541.8 L338.1 541.7 L338.6 541.7 L339.1 541.7 L339.6 541.7 L340.1 541.6 L340.6 541.6 L341.1 541.5 L341.6 541.5 L342.1 541.5 L342.6 541.4 L343.1 541.4 L343.6 541.3 L344.1 541.3 L344.6 541.2 L345.1 541.2 L345.6 541.1 L346.1 541 L346.6 541 L347.1 540.9 L347.6 540.8 L348.1 540.7 L348.6 540.6 L349.1 540.6 L349.6 540.5 L350.1 540.4 L350.6 540.3 L351.1 540.2 L351.6 540.1 L352.1 540 L352.6 539.9 L353.1 539.7 L353.6 539.6 L354.1 539.5 L354.6 539.4 L355.1 539.3 L355.6 539.1 L356.1 539 L356.6 538.9 L357.1 538.7 L357.6 538.6 L358.1 538.5 L358.6 538.3 L359.1 538.2 L359.6 538 L360.1 537.9 L360.6 537.8 L361.1 537.6 L361.6 537.5 L362.1 537.4 L362.6 537.2 L363.1 537.1 L363.6 537 L364.1 536.8 L364.6 536.7 L365.1 536.6 L365.6 536.5 L366.1 536.3 L366.6 536.2 L367.1 536.1 L367.6 536 L368.1 535.9 L368.6 535.8 L369.1 535.7 L369.6 535.7 L370.1 535.6 L370.6 535.5 L371.1 535.5 L371.6 535.4 L372.1 535.4 L372.6 535.3 L373.1 535.3 L373.6 535.3 L374.1 535.3 L374.6 535.3 L375.1 535.3 L375.6 535.3 L376.1 535.3 L376.6 535.3 L377.1 535.3 L377.6 535.3 L378.1 535.4 L378.6 535.4 L379.1 535.4 L379.6 535.5 L380.1 535.5 L380.6 535.6 L381.1 535.6 L381.6 535.7 L382.1 535.7 L382.6 535.8 L383.1 535.8 L383.6 535.9 L384.1 536 L384.6 536.1 L385.1 536.1 L385.6 536.2 L386.1 536.3 L386.6 536.4 L387.1 536.5 L387.6 536.6 L388.1 536.7 L388.6 536.8 L389.1 536.9 L389.6 537 L390.1 537.1 L390.6 537.2 L391.1 537.3 L391.6 537.4 L392.1 537.5 L392.6 537.6 L393.1 537.7 L393.6 537.8 L394.1 537.9 L394.6 538 L395.1 538.1 L395.6 538.2 L396.1 538.4 L396.6 538.5 L397.1 538.6 L397.6 538.7 L398.1 538.8 L398.6 538.9 L399.1 539 L399.6 539.1 L400.1 539.2 L400.6 539.3 L401.1 539.4 L401.6 539.5 L402.1 539.6 L402.6 539.7 L403.1 539.8 L403.6 539.9 L404.1 540 L404.6 540.1 L405.1 540.2 L405.6 540.3 L406.1 540.3 L406.6 540.4 L407.1 540.5 L407.6 540.6 L408.1 540.7 L408.6 540.7 L409.1 540.8 L409.6 540.9 L410.1 541 L410.6 541 L411.1 541.1 L411.6 541.2 L412.1 541.2 L412.6 541.3 L413.1 541.3 L413.6 541.4 L414.1 541.5 L414.6 541.5 L415.1 541.6 L415.6 541.6 L416.1 541.7 L416.6 541.7 L417.1 541.8 L417.6 541.8 L418.1 541.8 L418.6 541.9 L419.1 541.9 L419.6 542 L420.1 542 L420.6 542 L421.1 542.1 L421.6 542.1 L422.1 542.2 L422.6 542.2 L423.1 542.2 L423.6 542.2 L424.1 542.3 L424.6 542.3 L425.1 542.3 L425.6 542.4 L426.1 542.4 L426.6 542.4 L427.1 542.4 L427.6 542.5 L428.1 542.5 L428.6 542.5 L429.1 542.5 L429.6 542.5 L430.1 542.6 L430.6 542.6 L431.1 542.6 L431.6 542.6 L431.6 542.8 L431.1 542.7 L430.6 542.7 L430.1 542.7 L429.6 542.7 L429.1 542.7 L428.6 542.7 L428.1 542.7 L427.6 542.7 L427.1 542.7 L426.6 542.7 L426.1 542.7 L425.6 542.6 L425.1 542.6 L424.6 542.6 L424.1 542.6 L423.6 542.6 L423.1 542.6 L422.6 542.6 L422.1 542.6 L421.6 542.6 L421.1 542.6 L420.6 542.6 L420.1 542.6 L419.6 542.6 L419.1 542.5 L418.6 542.5 L418.1 542.5 L417.6 542.5 L417.1 542.5 L416.6 542.5 L416.1 542.5 L415.6 542.5 L415.1 542.5 L414.6 542.5 L414.1 542.5 L413.6 542.5 L413.1 542.5 L412.6 542.5 L412.1 542.5 L411.6 542.5 L411.1 542.5 L410.6 542.5 L410.1 542.5 L409.6 542.5 L409.1 542.4 L408.6 542.4 L408.1 542.4 L407.6 542.4 L407.1 542.4 L406.6 542.4 L406.1 542.4 L405.6 542.4 L405.1 542.4 L404.6 542.4 L404.1 542.4 L403.6 542.4 L403.1 542.4 L402.6 542.4 L402.1 542.4 L401.6 542.4 L401.1 542.4 L400.6 542.4 L400.1 542.4 L399.6 542.4 L399.1 542.4 L398.6 542.4 L398.1 542.4 L397.6 542.4 L397.1 542.4 L396.6 542.4 L396.1 542.4 L395.6 542.4 L395.1 542.4 L394.6 542.4 L394.1 542.4 L393.6 542.4 L393.1 542.3 L392.6 542.3 L392.1 542.3 L391.6 542.3 L391.1 542.3 L390.6 542.3 L390.1 542.3 L389.6 542.3 L389.1 542.3 L388.6 542.3 L388.1 542.3 L387.6 542.3 L387.1 542.3 L386.6 542.3 L386.1 542.3 L385.6 542.3 L385.1 542.3 L384.6 542.3 L384.1 542.3 L383.6 542.3 L383.1 542.3 L382.6 542.3 L382.1 542.3 L381.6 542.3 L381.1 542.3 L380.6 542.3 L380.1 542.3 L379.6 542.3 L379.1 542.3 L378.6 542.3 L378.1 542.3 L377.6 542.3 L377.1 542.3 L376.6 542.3 L376.1 542.3 L375.6 542.3 L375.1 542.3 L374.6 542.3 L374.1 542.3 L373.6 542.3 L373.1 542.2 L372.6 542.2 L372.1 542.2 L371.6 542.2 L371.1 542.2 L370.6 542.2 L370.1 542.2 L369.6 542.2 L369.1 542.2 L368.6 542.2 L368.1 542.2 L367.6 542.2 L367.1 542.2 L366.6 542.2 L366.1 542.2 L365.6 542.2 L365.1 542.2 L364.6 542.2 L364.1 542.2 L363.6 542.2 L363.1 542.2 L362.6 542.2 L362.1 542.2 L361.6 542.2 L361.1 542.2 L360.6 542.2 L360.1 542.2 L359.6 542.2 L359.1 542.2 L358.6 542.2 L358.1 542.2 L357.6 542.2 L357.1 542.2 L356.6 542.2 L356.1 542.2 L355.6 542.2 L355.1 542.2 L354.6 542.2 L354.1 542.2 L353.6 542.2 L353.1 542.2 L352.6 542.1 L352.1 542.1 L351.6 542.1 L351.1 542.1 L350.6 542.1 L350.1 542.1 L349.6 542.1 L349.1 542.1 L348.6 542.1 L348.1 542.1 L347.6 542.1 L347.1 542.1 L346.6 542.1 L346.1 542.1 L345.6 542.1 L345.1 542.1 L344.6 542.1 L344.1 542.1 L343.6 542.1 L343.1 542.1 L342.6 542.1 L342.1 542.1 L341.6 542.1 L341.1 542.1 L340.6 542.1 L340.1 542.1 L339.6 542.1 L339.1 542.1 L338.6 542.1 L338.1 542.1 L337.6 542.1 L337.1 542.1 L336.6 542.1 L336.1 542.1 L335.6 542.1 L335.1 542.1 L334.6 542.1 L334.1 542.1 L333.6 542.1 L333.1 542.1 L332.6 542.1Z" fill="url(#g5)" stroke="#f3c2cf" stroke-width="0.5"/>
<g fill="#b0b3bb"><circle cx="304" cy="540.37" r="0.8"/><circle cx="306.55" cy="541.36" r="0.8"/><circle cx="309.1" cy="540.4" r="0.8"/><circle cx="311.65" cy="540.27" r="0.8"/><circle cx="314.2" cy="539.47" r="0.8"/><circle cx="316.75" cy="540.39" r="0.8"/><circle cx="319.3" cy="542.1" r="0.8"/><circle cx="321.85" cy="541.19" r="0.8"/><circle cx="324.4" cy="541.96" r="0.8"/><circle cx="326.95" cy="540.91" r="0.8"/><circle cx="329.5" cy="541.05" r="0.8"/><circle cx="332.05" cy="540.72" r="0.8"/><circle cx="334.6" cy="538.22" r="0.8"/><circle cx="337.15" cy="541.37" r="0.8"/><circle cx="339.7" cy="540.74" r="0.8"/><circle cx="342.25" cy="540.5" r="0.8"/><circle cx="344.8" cy="537.34" r="0.8"/><circle cx="347.35" cy="536.88" r="0.8"/><circle cx="349.9" cy="537.51" r="0.8"/><circle cx="352.45" cy="537.48" r="0.8"/><circle cx="355" cy="537.82" r="0.8"/><circle cx="357.55" cy="536.63" r="0.8"/><circle cx="360.1" cy="536.59" r="0.8"/><circle cx="362.65" cy="534.3" r="0.8"/><circle cx="365.2" cy="534.79" r="0.8"/><circle cx="367.75" cy="534.23" r="0.8"/><circle cx="370.3" cy="532.31" r="0.8"/><circle cx="372.85" cy="535.01" r="0.8"/><circle cx="375.4" cy="533.27" r="0.8"/><circle cx="377.95" cy="533.97" r="0.8"/><circle cx="380.5" cy="531.53" r="0.8"/><circle cx="383.05" cy="531.32" r="0.8"/><circle cx="385.6" cy="531.78" r="0.8"/><circle cx="388.15" cy="531.97" r="0.8"/><circle cx="390.7" cy="532.7" r="0.8"/><circle cx="393.25" cy="531.8" r="0.8"/><circle cx="395.8" cy="530.26" r="0.8"/><circle cx="398.35" cy="528.65" r="0.8"/><circle cx="400.9" cy="527.91" r="0.8"/><circle cx="403.45" cy="528.45" r="0.8"/><circle cx="406" cy="523.63" r="0.8"/><circle cx="408.55" cy="522.34" r="0.8"/><circle cx="411.1" cy="519.45" r="0.8"/><circle cx="413.65" cy="513.39" r="0.8"/><circle cx="416.2" cy="511.45" r="0.8"/><circle cx="418.75" cy="508.89" r="0.8"/><circle cx="421.3" cy="500.27" r="0.8"/><circle cx="423.85" cy="498.23" r="0.8"/><circle cx="426.4" cy="494.57" r="0.8"/><circle cx="428.95" cy="490.24" r="0.8"/><circle cx="431.5" cy="489.34" r="0.8"/><circle cx="434.05" cy="487.02" r="0.8"/><circle cx="436.6" cy="484.8" r="0.8"/><circle cx="439.15" cy="488.27" r="0.8"/><circle cx="441.7" cy="489.21" r="0.8"/><circle cx="444.25" cy="491.34" r="0.8"/><circle cx="446.8" cy="494.3" r="0.8"/><circle cx="449.35" cy="495.69" r="0.8"/><circle cx="451.9" cy="498.55" r="0.8"/><circle cx="454.45" cy="500.17" r="0.8"/><circle cx="457" cy="506.31" r="0.8"/><circle cx="459.55" cy="508.45" r="0.8"/><circle cx="462.1" cy="512.37" r="0.8"/><circle cx="464.65" cy="514.94" r="0.8"/><circle cx="467.2" cy="518.79" r="0.8"/><circle cx="469.75" cy="522.6" r="0.8"/><circle cx="472.3" cy="527.94" r="0.8"/><circle cx="474.85" cy="526.31" r="0.8"/><circle cx="477.4" cy="529.44" r="0.8"/><circle cx="479.95" cy="533.73" r="0.8"/><circle cx="482.5" cy="537.09" r="0.8"/><circle cx="485.05" cy="537.48" r="0.8"/><circle cx="487.6" cy="535.53" r="0.8"/><circle cx="490.15" cy="535.76" r="0.8"/><circle cx="492.7" cy="540.35" r="0.8"/><circle cx="495.25" cy="539.6" r="0.8"/><circle cx="497.8" cy="539.64" r="0.8"/><circle cx="500.35" cy="542.78" r="0.8"/><circle cx="502.9" cy="543.26" r="0.8"/><circle cx="505.45" cy="542.28" r="0.8"/><circle cx="508" cy="542.58" r="0.8"/><circle cx="510.55" cy="542.97" r="0.8"/><circle cx="513.1" cy="544.58" r="0.8"/><circle cx="515.65" cy="543.39" r="0.8"/><circle cx="518.2" cy="543.32" r="0.8"/><circle cx="520.75" cy="543.4" r="0.8"/><circle cx="523.3" cy="540.68" r="0.8"/><circle cx="525.85" cy="544.42" r="0.8"/></g>
<path d="M301.6 541.9 L302.1 541.9 L302.6 541.9 L303.1 541.9 L303.6 541.9 L304.1 541.9 L304.6 541.9 L305.1 541.9 L305.6 541.9 L306.1 541.9 L306.6 541.9 L307.1 541.9 L307.6 541.9 L308.1 541.9 L308.6 541.9 L309.1 541.9 L309.6 541.9 L310.1 541.9 L310.6 541.9 L311.1 541.9 L311.6 542 L312.1 542 L312.6 542 L313.1 542 L313.6 542 L314.1 542 L314.6 542 L315.1 542 L315.6 542 L316.1 542 L316.6 542 L317.1 542 L317.6 542 L318.1 542 L318.6 542 L319.1 542 L319.6 542 L320.1 542 L320.6 542 L321.1 542 L321.6 542 L322.1 542 L322.6 542 L323.1 542 L323.6 542 L324.1 542 L324.6 542 L325.1 542 L325.6 542 L326.1 542 L326.6 542 L327.1 542 L327.6 542 L328.1 542 L328.6 542 L329.1 542 L329.6 542 L330.1 542 L330.6 542 L331.1 542 L331.6 542 L332.1 542 L332.6 542.1 L333.1 542.1 L333.6 542.1 L334.1 542.1 L334.6 542.1 L335.1 542.1 L335.6 542.1 L336.1 542.1 L336.6 542.1 L337.1 542.1 L337.6 542.1 L338.1 542.1 L338.6 542.1 L339.1 542.1 L339.6 542.1 L340.1 542.1 L340.6 542.1 L341.1 542.1 L341.6 542.1 L342.1 542.1 L342.6 542.1 L343.1 542.1 L343.6 542.1 L344.1 542.1 L344.6 542.1 L345.1 542.1 L345.6 542.1 L346.1 542.1 L346.6 542.1 L347.1 542.1 L347.6 542.1 L348.1 542.1 L348.6 542.1 L349.1 542.1 L349.6 542.1 L350.1 542.1 L350.6 542.1 L351.1 542.1 L351.6 542.1 L352.1 542.1 L352.6 542.1 L353.1 542.2 L353.6 542.2 L354.1 542.2 L354.6 542.2 L355.1 542.2 L355.6 542.2 L356.1 542.2 L356.6 542.2 L357.1 542.2 L357.6 542.2 L358.1 542.2 L358.6 542.2 L359.1 542.2 L359.6 542.2 L360.1 542.2 L360.6 542.2 L361.1 542.2 L361.6 542.2 L362.1 542.2 L362.6 542.2 L363.1 542.2 L363.6 542.2 L364.1 542.2 L364.6 542.2 L365.1 542.2 L365.6 542.2 L366.1 542.2 L366.6 542.2 L367.1 542.2 L367.6 542.2 L368.1 542.2 L368.6 542.2 L369.1 542.2 L369.6 542.2 L370.1 542.2 L370.6 542.2 L371.1 542.2 L371.6 542.2 L372.1 542.2 L372.6 542.2 L373.1 542.2 L373.6 542.3 L374.1 542.3 L374.6 542.3 L375.1 542.3 L375.6 542.3 L376.1 542.3 L376.6 542.3 L377.1 542.3 L377.6 542.3 L378.1 542.3 L378.6 542.3 L379.1 542.3 L379.6 542.3 L380.1 542.3 L380.6 542.3 L381.1 542.3 L381.6 542.3 L382.1 542.3 L382.6 542.3 L383.1 542.3 L383.6 542.3 L384.1 542.3 L384.6 542.3 L385.1 542.3 L385.6 542.3 L386.1 542.3 L386.6 542.3 L387.1 542.3 L387.6 542.3 L388.1 542.3 L388.6 542.3 L389.1 542.3 L389.6 542.3 L390.1 542.3 L390.6 542.3 L391.1 542.3 L391.6 542.3 L392.1 542.3 L392.6 542.3 L393.1 542.3 L393.6 542.4 L394.1 542.4 L394.6 542.4 L395.1 542.4 L395.6 542.4 L396.1 542.4 L396.6 542.4 L397.1 542.4 L397.6 542.4 L398.1 542.4 L398.6 542.4 L399.1 542.4 L399.6 542.4 L400.1 542.4 L400.6 542.4 L401.1 542.4 L401.6 542.4 L402.1 542.4 L402.6 542.4 L403.1 542.4 L403.6 542.4 L404.1 542.4 L404.6 542.4 L405.1 542.4 L405.6 542.4 L406.1 542.4 L406.6 542.4 L407.1 542.4 L407.6 542.4 L408.1 542.4 L408.6 542.4 L409.1 542.4 L409.6 542.5 L410.1 542.5 L410.6 542.5 L411.1 542.5 L411.6 542.5 L412.1 542.5 L412.6 542.5 L413.1 542.5 L413.6 542.5 L414.1 542.5 L414.6 542.5 L415.1 542.5 L415.6 542.5 L416.1 542.5 L416.6 542.5 L417.1 542.5 L417.6 542.5 L418.1 542.5 L418.6 542.5 L419.1 542.5 L419.6 542.6 L420.1 542.6 L420.6 542.6 L421.1 542.6 L421.6 542.6 L422.1 542.6 L422.6 542.6 L423.1 542.6 L423.6 542.6 L424.1 542.6 L424.6 542.6 L425.1 542.6 L425.6 542.6 L426.1 542.7 L426.6 542.7 L427.1 542.7 L427.6 542.7 L428.1 542.7 L428.6 542.7 L429.1 542.7 L429.6 542.7 L430.1 542.7 L430.6 542.7 L431.1 542.7 L431.6 542.8 L432.1 542.8 L432.6 542.8 L433.1 542.8 L433.6 542.8 L434.1 542.8 L434.6 542.8 L435.1 542.8 L435.6 542.8 L436.1 542.8 L436.6 542.9 L437.1 542.9 L437.6 542.9 L438.1 542.9 L438.6 542.9 L439.1 542.9 L439.6 542.9 L440.1 542.9 L440.6 542.9 L441.1 543 L441.6 543 L442.1 543 L442.6 543 L443.1 543 L443.6 543 L444.1 543 L444.6 543 L445.1 543 L445.6 543 L446.1 543 L446.6 543.1 L447.1 543.1 L447.6 543.1 L448.1 543.1 L448.6 543.1 L449.1 543.1 L449.6 543.1 L450.1 543.1 L450.6 543.1 L451.1 543.1 L451.6 543.1 L452.1 543.1 L452.6 543.1 L453.1 543.2 L453.6 543.2 L454.1 543.2 L454.6 543.2 L455.1 543.2 L455.6 543.2 L456.1 543.2 L456.6 543.2 L457.1 543.2 L457.6 543.2 L458.1 543.2 L458.6 543.2 L459.1 543.2 L459.6 543.2 L460.1 543.2 L460.6 543.2 L461.1 543.2 L461.6 543.2 L462.1 543.2 L462.6 543.2 L463.1 543.2 L463.6 543.3 L464.1 543.3 L464.6 543.3 L465.1 543.3 L465.6 543.3 L466.1 543.3 L466.6 543.3 L467.1 543.3 L467.6 543.3 L468.1 543.3 L468.6 543.3 L469.1 543.3 L469.6 543.3 L470.1 543.3 L470.6 543.3 L471.1 543.3 L471.6 543.3 L472.1 543.3 L472.6 543.3 L473.1 543.3 L473.6 543.3 L474.1 543.3 L474.6 543.3 L475.1 543.3 L475.6 543.3 L476.1 543.3 L476.6 543.3 L477.1 543.3 L477.6 543.3 L478.1 543.3 L478.6 543.3 L479.1 543.3 L479.6 543.4 L480.1 543.4 L480.6 543.4 L481.1 543.4 L481.6 543.4 L482.1 543.4 L482.6 543.4 L483.1 543.4 L483.6 543.4 L484.1 543.4 L484.6 543.4 L485.1 543.4 L485.6 543.4 L486.1 543.4 L486.6 543.4 L487.1 543.4 L487.6 543.4 L488.1 543.4 L488.6 543.4 L489.1 543.4 L489.6 543.4 L490.1 543.4 L490.6 543.4 L491.1 543.4 L491.6 543.4 L492.1 543.4 L492.6 543.4 L493.1 543.4 L493.6 543.4 L494.1 543.4 L494.6 543.4 L495.1 543.4 L495.6 543.4 L496.1 543.4 L496.6 543.4 L497.1 543.4 L497.6 543.4 L498.1 543.4 L498.6 543.4 L499.1 543.4 L499.6 543.5 L500.1 543.5 L500.6 543.5 L501.1 543.5 L501.6 543.5 L502.1 543.5 L502.6 543.5 L503.1 543.5 L503.6 543.5 L504.1 543.5 L504.6 543.5 L505.1 543.5 L505.6 543.5 L506.1 543.5 L506.6 543.5 L507.1 543.5 L507.6 543.5 L508.1 543.5 L508.6 543.5 L509.1 543.5 L509.6 543.5 L510.1 543.5 L510.6 543.5 L511.1 543.5 L511.6 543.5 L512.1 543.5 L512.6 543.5 L513.1 543.5 L513.6 543.5 L514.1 543.5 L514.6 543.5 L515.1 543.5 L515.6 543.5 L516.1 543.5 L516.6 543.5 L517.1 543.5 L517.6 543.5 L518.1 543.5 L518.6 543.5 L519.1 543.5 L519.6 543.5 L520.1 543.6 L520.6 543.6 L521.1 543.6 L521.6 543.6 L522.1 543.6 L522.6 543.6 L523.1 543.6 L523.6 543.6 L524.1 543.6 L524.6 543.6 L525.1 543.6 L525.6 543.6 L526.1 543.6 L526.6 543.6 L527.1 543.6 L527.6 543.6 L528.1 543.6 L528.6 543.6 L529.1 543.6 L529.6 543.6" fill="none" stroke="#3d9bd6" stroke-width="1.2" stroke-linejoin="round" stroke-linecap="round"/>
<path d="M301.6 541.5 L302.1 541.5 L302.6 541.5 L303.1 541.5 L303.6 541.5 L304.1 541.5 L304.6 541.5 L305.1 541.5 L305.6 541.5 L306.1 541.5 L306.6 541.5 L307.1 541.5 L307.6 541.5 L308.1 541.5 L308.6 541.5 L309.1 541.5 L309.6 541.5 L310.1 541.5 L310.6 541.5 L311.1 541.5 L311.6 541.5 L312.1 541.5 L312.6 541.5 L313.1 541.5 L313.6 541.5 L314.1 541.5 L314.6 541.5 L315.1 541.5 L315.6 541.5 L316.1 541.5 L316.6 541.5 L317.1 541.5 L317.6 541.5 L318.1 541.5 L318.6 541.5 L319.1 541.5 L319.6 541.5 L320.1 541.4 L320.6 541.4 L321.1 541.4 L321.6 541.4 L322.1 541.4 L322.6 541.4 L323.1 541.4 L323.6 541.4 L324.1 541.4 L324.6 541.4 L325.1 541.4 L325.6 541.4 L326.1 541.4 L326.6 541.4 L327.1 541.4 L327.6 541.4 L328.1 541.4 L328.6 541.4 L329.1 541.3 L329.6 541.3 L330.1 541.3 L330.6 541.3 L331.1 541.3 L331.6 541.3 L332.1 541.3 L332.6 541.3 L333.1 541.2 L333.6 541.2 L334.1 541.2 L334.6 541.2 L335.1 541.2 L335.6 541.1 L336.1 541.1 L336.6 541.1 L337.1 541.1 L337.6 541 L338.1 541 L338.6 541 L339.1 540.9 L339.6 540.9 L340.1 540.9 L340.6 540.8 L341.1 540.8 L341.6 540.7 L342.1 540.7 L342.6 540.6 L343.1 540.6 L343.6 540.5 L344.1 540.4 L344.6 540.4 L345.1 540.3 L345.6 540.2 L346.1 540.2 L346.6 540.1 L347.1 540 L347.6 539.9 L348.1 539.8 L348.6 539.7 L349.1 539.6 L349.6 539.5 L350.1 539.4 L350.6 539.3 L351.1 539.2 L351.6 539.1 L352.1 539 L352.6 538.9 L353.1 538.7 L353.6 538.6 L354.1 538.5 L354.6 538.3 L355.1 538.2 L355.6 538.1 L356.1 537.9 L356.6 537.8 L357.1 537.6 L357.6 537.5 L358.1 537.3 L358.6 537.2 L359.1 537 L359.6 536.9 L360.1 536.7 L360.6 536.6 L361.1 536.4 L361.6 536.3 L362.1 536.1 L362.6 535.9 L363.1 535.8 L363.6 535.6 L364.1 535.5 L364.6 535.4 L365.1 535.2 L365.6 535.1 L366.1 534.9 L366.6 534.8 L367.1 534.7 L367.6 534.6 L368.1 534.4 L368.6 534.3 L369.1 534.2 L369.6 534.1 L370.1 534 L370.6 533.9 L371.1 533.8 L371.6 533.7 L372.1 533.7 L372.6 533.6 L373.1 533.5 L373.6 533.5 L374.1 533.4 L374.6 533.4 L375.1 533.4 L375.6 533.3 L376.1 533.3 L376.6 533.3 L377.1 533.2 L377.6 533.2 L378.1 533.2 L378.6 533.2 L379.1 533.2 L379.6 533.2 L380.1 533.1 L380.6 533.1 L381.1 533.1 L381.6 533.1 L382.1 533.1 L382.6 533.1 L383.1 533.1 L383.6 533.1 L384.1 533.1 L384.6 533.1 L385.1 533 L385.6 533 L386.1 533 L386.6 533 L387.1 533 L387.6 532.9 L388.1 532.9 L388.6 532.9 L389.1 532.8 L389.6 532.8 L390.1 532.7 L390.6 532.7 L391.1 532.6 L391.6 532.6 L392.1 532.5 L392.6 532.4 L393.1 532.3 L393.6 532.2 L394.1 532.1 L394.6 532 L395.1 531.8 L395.6 531.7 L396.1 531.5 L396.6 531.4 L397.1 531.2 L397.6 531 L398.1 530.8 L398.6 530.6 L399.1 530.4 L399.6 530.1 L400.1 529.8 L400.6 529.6 L401.1 529.3 L401.6 529 L402.1 528.6 L402.6 528.3 L403.1 527.9 L403.6 527.6 L404.1 527.2 L404.6 526.7 L405.1 526.3 L405.6 525.9 L406.1 525.4 L406.6 524.9 L407.1 524.4 L407.6 523.9 L408.1 523.3 L408.6 522.8 L409.1 522.2 L409.6 521.6 L410.1 521 L410.6 520.3 L411.1 519.7 L411.6 519 L412.1 518.3 L412.6 517.6 L413.1 516.9 L413.6 516.2 L414.1 515.5 L414.6 514.7 L415.1 513.9 L415.6 513.1 L416.1 512.3 L416.6 511.5 L417.1 510.7 L417.6 509.9 L418.1 509.1 L418.6 508.2 L419.1 507.4 L419.6 506.6 L420.1 505.7 L420.6 504.9 L421.1 504 L421.6 503.2 L422.1 502.3 L422.6 501.5 L423.1 500.7 L423.6 499.9 L424.1 499 L424.6 498.2 L425.1 497.5 L425.6 496.7 L426.1 495.9 L426.6 495.2 L427.1 494.5 L427.6 493.8 L428.1 493.2 L428.6 492.5 L429.1 491.9 L429.6 491.3 L430.1 490.8 L430.6 490.3 L431.1 489.8 L431.6 489.4 L432.1 489 L432.6 488.7 L433.1 488.4 L433.6 488.1 L434.1 487.9 L434.6 487.7 L435.1 487.6 L435.6 487.5 L436.1 487.5 L436.6 487.5 L437.1 487.5 L437.6 487.6 L438.1 487.7 L438.6 487.8 L439.1 488 L439.6 488.2 L440.1 488.3 L440.6 488.6 L441.1 488.8 L441.6 489.1 L442.1 489.4 L442.6 489.7 L443.1 490 L443.6 490.4 L444.1 490.8 L444.6 491.2 L445.1 491.6 L445.6 492.1 L446.1 492.5 L446.6 493 L447.1 493.5 L447.6 494.1 L448.1 494.6 L448.6 495.1 L449.1 495.7 L449.6 496.3 L450.1 496.9 L450.6 497.5 L451.1 498.2 L451.6 498.8 L452.1 499.5 L452.6 500.1 L453.1 500.8 L453.6 501.5 L454.1 502.2 L454.6 502.9 L455.1 503.6 L455.6 504.3 L456.1 505 L456.6 505.7 L457.1 506.5 L457.6 507.2 L458.1 507.9 L458.6 508.6 L459.1 509.4 L459.6 510.1 L460.1 510.8 L460.6 511.6 L461.1 512.3 L461.6 513 L462.1 513.8 L462.6 514.5 L463.1 515.2 L463.6 515.9 L464.1 516.6 L464.6 517.3 L465.1 518 L465.6 518.7 L466.1 519.4 L466.6 520.1 L467.1 520.7 L467.6 521.4 L468.1 522 L468.6 522.7 L469.1 523.3 L469.6 523.9 L470.1 524.5 L470.6 525.1 L471.1 525.7 L471.6 526.3 L472.1 526.8 L472.6 527.4 L473.1 527.9 L473.6 528.5 L474.1 529 L474.6 529.5 L475.1 530 L475.6 530.5 L476.1 531 L476.6 531.4 L477.1 531.9 L477.6 532.3 L478.1 532.7 L478.6 533.2 L479.1 533.6 L479.6 534 L480.1 534.3 L480.6 534.7 L481.1 535.1 L481.6 535.4 L482.1 535.7 L482.6 536.1 L483.1 536.4 L483.6 536.7 L484.1 537 L484.6 537.3 L485.1 537.6 L485.6 537.8 L486.1 538.1 L486.6 538.3 L487.1 538.6 L487.6 538.8 L488.1 539 L488.6 539.2 L489.1 539.4 L489.6 539.6 L490.1 539.8 L490.6 540 L491.1 540.2 L491.6 540.3 L492.1 540.5 L492.6 540.7 L493.1 540.8 L493.6 540.9 L494.1 541.1 L494.6 541.2 L495.1 541.3 L495.6 541.4 L496.1 541.6 L496.6 541.7 L497.1 541.8 L497.6 541.9 L498.1 541.9 L498.6 542 L499.1 542.1 L499.6 542.2 L500.1 542.3 L500.6 542.3 L501.1 542.4 L501.6 542.5 L502.1 542.5 L502.6 542.6 L503.1 542.7 L503.6 542.7 L504.1 542.8 L504.6 542.8 L505.1 542.8 L505.6 542.9 L506.1 542.9 L506.6 543 L507.1 543 L507.6 543 L508.1 543.1 L508.6 543.1 L509.1 543.1 L509.6 543.2 L510.1 543.2 L510.6 543.2 L511.1 543.2 L511.6 543.2 L512.1 543.3 L512.6 543.3 L513.1 543.3 L513.6 543.3 L514.1 543.3 L514.6 543.4 L515.1 543.4 L515.6 543.4 L516.1 543.4 L516.6 543.4 L517.1 543.4 L517.6 543.4 L518.1 543.4 L518.6 543.5 L519.1 543.5 L519.6 543.5 L520.1 543.5 L520.6 543.5 L521.1 543.5 L521.6 543.5 L522.1 543.5 L522.6 543.5 L523.1 543.5 L523.6 543.5 L524.1 543.5 L524.6 543.5 L525.1 543.5 L525.6 543.5 L526.1 543.6 L526.6 543.6 L527.1 543.6 L527.6 543.6 L528.1 543.6 L528.6 543.6 L529.1 543.6 L529.6 543.6" fill="none" stroke="#2b8bcb" stroke-width="1.45" stroke-linejoin="round" stroke-linecap="round"/>
</g>
<g>
<path d="M301.6 621.8 L302.1 621.8 L302.6 621.8 L303.1 621.8 L303.6 621.8 L304.1 621.9 L304.6 621.9 L305.1 621.9 L305.6 621.9 L306.1 621.9 L306.6 621.9 L307.1 621.9 L307.6 621.9 L308.1 621.9 L308.6 621.9 L309.1 621.9 L309.6 621.9 L310.1 621.9 L310.6 621.9 L311.1 621.9 L311.6 621.9 L312.1 621.9 L312.6 621.9 L313.1 621.9 L313.6 621.9 L314.1 621.9 L314.6 621.9 L315.1 621.9 L315.6 621.9 L316.1 621.9 L316.6 621.9 L317.1 621.9 L317.6 621.9 L318.1 621.9 L318.6 621.9 L319.1 621.9 L319.6 621.9 L320.1 621.9 L320.6 621.9 L321.1 621.9 L321.6 621.9 L322.1 621.9 L322.6 621.9 L323.1 621.9 L323.6 621.9 L324.1 621.9 L324.6 621.9 L325.1 621.9 L325.6 621.9 L326.1 621.9 L326.6 621.9 L327.1 621.9 L327.6 621.9 L328.1 621.9 L328.6 621.9 L329.1 621.9 L329.6 621.9 L330.1 621.9 L330.6 621.9 L331.1 621.9 L331.6 621.9 L332.1 621.8 L332.6 621.8 L333.1 621.8 L333.6 621.8 L334.1 621.8 L334.6 621.8 L335.1 621.8 L335.6 621.8 L336.1 621.8 L336.6 621.8 L337.1 621.8 L337.6 621.8 L338.1 621.8 L338.6 621.8 L339.1 621.8 L339.6 621.8 L340.1 621.8 L340.6 621.8 L341.1 621.8 L341.6 621.8 L342.1 621.8 L342.6 621.8 L343.1 621.8 L343.6 621.8 L344.1 621.8 L344.6 621.8 L345.1 621.7 L345.6 621.7 L346.1 621.7 L346.6 621.7 L347.1 621.7 L347.6 621.7 L348.1 621.7 L348.6 621.7 L349.1 621.7 L349.6 621.7 L350.1 621.7 L350.6 621.7 L351.1 621.7 L351.6 621.7 L352.1 621.6 L352.6 621.6 L353.1 621.6 L353.6 621.6 L354.1 621.6 L354.6 621.6 L355.1 621.6 L355.6 621.6 L356.1 621.6 L356.6 621.5 L357.1 621.5 L357.6 621.5 L358.1 621.5 L358.6 621.5 L359.1 621.5 L359.6 621.5 L360.1 621.4 L360.6 621.4 L361.1 621.4 L361.6 621.4 L362.1 621.4 L362.6 621.4 L363.1 621.3 L363.6 621.3 L364.1 621.3 L364.6 621.3 L365.1 621.2 L365.6 621.2 L366.1 621.2 L366.6 621.2 L367.1 621.1 L367.6 621.1 L368.1 621.1 L368.6 621 L369.1 621 L369.6 621 L370.1 620.9 L370.6 620.9 L371.1 620.9 L371.6 620.8 L372.1 620.8 L372.6 620.7 L373.1 620.7 L373.6 620.6 L374.1 620.6 L374.6 620.5 L375.1 620.4 L375.6 620.4 L376.1 620.3 L376.6 620.2 L377.1 620.2 L377.6 620.1 L378.1 620 L378.6 619.9 L379.1 619.8 L379.6 619.7 L380.1 619.6 L380.6 619.5 L381.1 619.4 L381.6 619.3 L382.1 619.2 L382.6 619 L383.1 618.9 L383.6 618.8 L384.1 618.6 L384.6 618.4 L385.1 618.3 L385.6 618.1 L386.1 617.9 L386.6 617.7 L387.1 617.5 L387.6 617.3 L388.1 617.1 L388.6 616.9 L389.1 616.6 L389.6 616.4 L390.1 616.1 L390.6 615.8 L391.1 615.6 L391.6 615.3 L392.1 615 L392.6 614.6 L393.1 614.3 L393.6 613.9 L394.1 613.6 L394.6 613.2 L395.1 612.8 L395.6 612.4 L396.1 612 L396.6 611.6 L397.1 611.1 L397.6 610.7 L398.1 610.2 L398.6 609.7 L399.1 609.2 L399.6 608.7 L400.1 608.1 L400.6 607.6 L401.1 607 L401.6 606.4 L402.1 605.8 L402.6 605.2 L403.1 604.6 L403.6 603.9 L404.1 603.3 L404.6 602.6 L405.1 601.9 L405.6 601.2 L406.1 600.5 L406.6 599.7 L407.1 599 L407.6 598.2 L408.1 597.5 L408.6 596.7 L409.1 595.9 L409.6 595.1 L410.1 594.3 L410.6 593.5 L411.1 592.7 L411.6 591.8 L412.1 591 L412.6 590.2 L413.1 589.3 L413.6 588.5 L414.1 587.6 L414.6 586.8 L415.1 585.9 L415.6 585.1 L416.1 584.2 L416.6 583.4 L417.1 582.6 L417.6 581.8 L418.1 581 L418.6 580.2 L419.1 579.4 L419.6 578.6 L420.1 577.9 L420.6 577.1 L421.1 576.4 L421.6 575.7 L422.1 575 L422.6 574.4 L423.1 573.8 L423.6 573.2 L424.1 572.6 L424.6 572.1 L425.1 571.6 L425.6 571.1 L426.1 570.7 L426.6 570.3 L427.1 570 L427.6 569.7 L428.1 569.4 L428.6 569.2 L429.1 569 L429.6 568.8 L430.1 568.8 L430.6 568.7 L431.1 568.7 L431.6 568.8 L432.1 568.8 L432.6 568.9 L433.1 569 L433.6 569.1 L434.1 569.3 L434.6 569.4 L435.1 569.6 L435.6 569.9 L436.1 570.1 L436.6 570.4 L437.1 570.7 L437.6 571 L438.1 571.3 L438.6 571.6 L439.1 572 L439.6 572.4 L440.1 572.8 L440.6 573.2 L441.1 573.7 L441.6 574.1 L442.1 574.6 L442.6 575.1 L443.1 575.6 L443.6 576.1 L444.1 576.7 L444.6 577.2 L445.1 577.8 L445.6 578.4 L446.1 579 L446.6 579.6 L447.1 580.2 L447.6 580.8 L448.1 581.4 L448.6 582.1 L449.1 582.7 L449.6 583.4 L450.1 584.1 L450.6 584.7 L451.1 585.4 L451.6 586.1 L452.1 586.8 L452.6 587.5 L453.1 588.2 L453.6 588.9 L454.1 589.6 L454.6 590.3 L455.1 591 L455.6 591.7 L456.1 592.4 L456.6 593.1 L457.1 593.8 L457.6 594.5 L458.1 595.2 L458.6 595.9 L459.1 596.6 L459.6 597.3 L460.1 597.9 L460.6 598.6 L461.1 599.3 L461.6 599.9 L462.1 600.6 L462.6 601.3 L463.1 601.9 L463.6 602.5 L464.1 603.2 L464.6 603.8 L465.1 604.4 L465.6 605 L466.1 605.6 L466.6 606.2 L467.1 606.8 L467.6 607.3 L468.1 607.9 L468.6 608.4 L469.1 609 L469.6 609.5 L470.1 610 L470.6 610.5 L471.1 611 L471.6 611.5 L472.1 612 L472.6 612.4 L473.1 612.9 L473.6 613.3 L474.1 613.8 L474.6 614.2 L475.1 614.6 L475.6 615 L476.1 615.4 L476.6 615.8 L477.1 616.2 L477.6 616.5 L478.1 616.9 L478.6 617.2 L479.1 617.6 L479.6 617.9 L480.1 618.2 L480.6 618.5 L481.1 618.8 L481.6 619.1 L482.1 619.3 L482.6 619.6 L483.1 619.9 L483.6 620.1 L484.1 620.4 L484.6 620.6 L485.1 620.8 L485.6 621 L486.1 621.2 L486.6 621.4 L487.1 621.6 L487.6 621.8 L488.1 622 L488.6 622.2 L489.1 622.3 L489.6 622.5 L490.1 622.7 L490.6 622.8 L491.1 622.9 L491.6 623.1 L492.1 623.2 L492.6 623.3 L493.1 623.5 L493.6 623.6 L494.1 623.7 L494.6 623.8 L495.1 623.9 L495.6 624 L496.1 624.1 L496.6 624.2 L497.1 624.3 L497.6 624.3 L498.1 624.4 L498.6 624.5 L499.1 624.6 L499.6 624.6 L500.1 624.7 L500.6 624.8 L501.1 624.8 L501.6 624.9 L502.1 624.9 L502.6 625 L503.1 625 L503.6 625.1 L504.1 625.1 L504.6 625.2 L505.1 625.2 L505.6 625.2 L506.1 625.3 L506.6 625.3 L507.1 625.3 L507.6 625.4 L508.1 625.4 L508.6 625.4 L509.1 625.5 L509.6 625.5 L510.1 625.5 L510.6 625.5 L511.1 625.6 L511.6 625.6 L512.1 625.6 L512.6 625.6 L513.1 625.6 L513.6 625.6 L514.1 625.7 L514.6 625.7 L515.1 625.7 L515.6 625.7 L516.1 625.7 L516.1 625.8 L515.6 625.8 L515.1 625.8 L514.6 625.8 L514.1 625.8 L513.6 625.8 L513.1 625.8 L512.6 625.8 L512.1 625.8 L511.6 625.8 L511.1 625.8 L510.6 625.8 L510.1 625.8 L509.6 625.8 L509.1 625.8 L508.6 625.8 L508.1 625.8 L507.6 625.8 L507.1 625.8 L506.6 625.8 L506.1 625.7 L505.6 625.7 L505.1 625.7 L504.6 625.7 L504.1 625.7 L503.6 625.7 L503.1 625.7 L502.6 625.7 L502.1 625.7 L501.6 625.7 L501.1 625.7 L500.6 625.7 L500.1 625.7 L499.6 625.7 L499.1 625.7 L498.6 625.7 L498.1 625.7 L497.6 625.7 L497.1 625.7 L496.6 625.6 L496.1 625.6 L495.6 625.6 L495.1 625.6 L494.6 625.6 L494.1 625.6 L493.6 625.6 L493.1 625.6 L492.6 625.6 L492.1 625.6 L491.6 625.6 L491.1 625.6 L490.6 625.6 L490.1 625.6 L489.6 625.6 L489.1 625.6 L488.6 625.6 L488.1 625.6 L487.6 625.5 L487.1 625.5 L486.6 625.5 L486.1 625.5 L485.6 625.5 L485.1 625.5 L484.6 625.5 L484.1 625.5 L483.6 625.5 L483.1 625.5 L482.6 625.5 L482.1 625.5 L481.6 625.5 L481.1 625.5 L480.6 625.5 L480.1 625.5 L479.6 625.5 L479.1 625.5 L478.6 625.5 L478.1 625.4 L477.6 625.4 L477.1 625.4 L476.6 625.4 L476.1 625.4 L475.6 625.4 L475.1 625.4 L474.6 625.4 L474.1 625.4 L473.6 625.4 L473.1 625.4 L472.6 625.4 L472.1 625.4 L471.6 625.4 L471.1 625.4 L470.6 625.4 L470.1 625.4 L469.6 625.3 L469.1 625.3 L468.6 625.3 L468.1 625.3 L467.6 625.3 L467.1 625.3 L466.6 625.3 L466.1 625.3 L465.6 625.3 L465.1 625.3 L464.6 625.3 L464.1 625.3 L463.6 625.3 L463.1 625.3 L462.6 625.3 L462.1 625.2 L461.6 625.2 L461.1 625.2 L460.6 625.2 L460.1 625.2 L459.6 625.2 L459.1 625.2 L458.6 625.2 L458.1 625.2 L457.6 625.2 L457.1 625.2 L456.6 625.2 L456.1 625.1 L455.6 625.1 L455.1 625.1 L454.6 625.1 L454.1 625.1 L453.6 625.1 L453.1 625.1 L452.6 625.1 L452.1 625.1 L451.6 625.1 L451.1 625 L450.6 625 L450.1 625 L449.6 625 L449.1 625 L448.6 625 L448.1 625 L447.6 625 L447.1 624.9 L446.6 624.9 L446.1 624.9 L445.6 624.9 L445.1 624.9 L444.6 624.9 L444.1 624.9 L443.6 624.8 L443.1 624.8 L442.6 624.8 L442.1 624.8 L441.6 624.8 L441.1 624.7 L440.6 624.7 L440.1 624.7 L439.6 624.7 L439.1 624.7 L438.6 624.6 L438.1 624.6 L437.6 624.6 L437.1 624.6 L436.6 624.6 L436.1 624.5 L435.6 624.5 L435.1 624.5 L434.6 624.5 L434.1 624.5 L433.6 624.4 L433.1 624.4 L432.6 624.4 L432.1 624.4 L431.6 624.3 L431.1 624.3 L430.6 624.3 L430.1 624.3 L429.6 624.2 L429.1 624.2 L428.6 624.2 L428.1 624.2 L427.6 624.2 L427.1 624.1 L426.6 624.1 L426.1 624.1 L425.6 624.1 L425.1 624 L424.6 624 L424.1 624 L423.6 624 L423.1 624 L422.6 623.9 L422.1 623.9 L421.6 623.9 L421.1 623.9 L420.6 623.9 L420.1 623.8 L419.6 623.8 L419.1 623.8 L418.6 623.8 L418.1 623.8 L417.6 623.8 L417.1 623.7 L416.6 623.7 L416.1 623.7 L415.6 623.7 L415.1 623.7 L414.6 623.7 L414.1 623.7 L413.6 623.6 L413.1 623.6 L412.6 623.6 L412.1 623.6 L411.6 623.6 L411.1 623.6 L410.6 623.6 L410.1 623.6 L409.6 623.5 L409.1 623.5 L408.6 623.5 L408.1 623.5 L407.6 623.5 L407.1 623.5 L406.6 623.5 L406.1 623.5 L405.6 623.5 L405.1 623.5 L404.6 623.5 L404.1 623.4 L403.6 623.4 L403.1 623.4 L402.6 623.4 L402.1 623.4 L401.6 623.4 L401.1 623.4 L400.6 623.4 L400.1 623.4 L399.6 623.4 L399.1 623.4 L398.6 623.4 L398.1 623.4 L397.6 623.3 L397.1 623.3 L396.6 623.3 L396.1 623.3 L395.6 623.3 L395.1 623.3 L394.6 623.3 L394.1 623.3 L393.6 623.3 L393.1 623.3 L392.6 623.3 L392.1 623.3 L391.6 623.3 L391.1 623.3 L390.6 623.3 L390.1 623.2 L389.6 623.2 L389.1 623.2 L388.6 623.2 L388.1 623.2 L387.6 623.2 L387.1 623.2 L386.6 623.2 L386.1 623.2 L385.6 623.2 L385.1 623.2 L384.6 623.2 L384.1 623.2 L383.6 623.2 L383.1 623.2 L382.6 623.2 L382.1 623.2 L381.6 623.2 L381.1 623.1 L380.6 623.1 L380.1 623.1 L379.6 623.1 L379.1 623.1 L378.6 623.1 L378.1 623.1 L377.6 623.1 L377.1 623.1 L376.6 623.1 L376.1 623.1 L375.6 623.1 L375.1 623.1 L374.6 623.1 L374.1 623.1 L373.6 623.1 L373.1 623.1 L372.6 623.1 L372.1 623 L371.6 623 L371.1 623 L370.6 623 L370.1 623 L369.6 623 L369.1 623 L368.6 623 L368.1 623 L367.6 623 L367.1 623 L366.6 623 L366.1 623 L365.6 623 L365.1 623 L364.6 623 L364.1 623 L363.6 623 L363.1 623 L362.6 622.9 L362.1 622.9 L361.6 622.9 L361.1 622.9 L360.6 622.9 L360.1 622.9 L359.6 622.9 L359.1 622.9 L358.6 622.9 L358.1 622.9 L357.6 622.9 L357.1 622.9 L356.6 622.9 L356.1 622.9 L355.6 622.9 L355.1 622.9 L354.6 622.9 L354.1 622.9 L353.6 622.9 L353.1 622.8 L352.6 622.8 L352.1 622.8 L351.6 622.8 L351.1 622.8 L350.6 622.8 L350.1 622.8 L349.6 622.8 L349.1 622.8 L348.6 622.8 L348.1 622.8 L347.6 622.8 L347.1 622.8 L346.6 622.8 L346.1 622.8 L345.6 622.8 L345.1 622.8 L344.6 622.8 L344.1 622.8 L343.6 622.7 L343.1 622.7 L342.6 622.7 L342.1 622.7 L341.6 622.7 L341.1 622.7 L340.6 622.7 L340.1 622.7 L339.6 622.7 L339.1 622.7 L338.6 622.7 L338.1 622.7 L337.6 622.7 L337.1 622.7 L336.6 622.7 L336.1 622.7 L335.6 622.7 L335.1 622.7 L334.6 622.7 L334.1 622.6 L333.6 622.6 L333.1 622.6 L332.6 622.6 L332.1 622.6 L331.6 622.6 L331.1 622.6 L330.6 622.6 L330.1 622.6 L329.6 622.6 L329.1 622.6 L328.6 622.6 L328.1 622.6 L327.6 622.6 L327.1 622.6 L326.6 622.6 L326.1 622.6 L325.6 622.6 L325.1 622.6 L324.6 622.5 L324.1 622.5 L323.6 622.5 L323.1 622.5 L322.6 622.5 L322.1 622.5 L321.6 622.5 L321.1 622.5 L320.6 622.5 L320.1 622.5 L319.6 622.5 L319.1 622.5 L318.6 622.5 L318.1 622.5 L317.6 622.5 L317.1 622.5 L316.6 622.5 L316.1 622.5 L315.6 622.5 L315.1 622.4 L314.6 622.4 L314.1 622.4 L313.6 622.4 L313.1 622.4 L312.6 622.4 L312.1 622.4 L311.6 622.4 L311.1 622.4 L310.6 622.4 L310.1 622.4 L309.6 622.4 L309.1 622.4 L308.6 622.4 L308.1 622.4 L307.6 622.4 L307.1 622.4 L306.6 622.4 L306.1 622.4 L305.6 622.3 L305.1 622.3 L304.6 622.3 L304.1 622.3 L303.6 622.3 L303.1 622.3 L302.6 622.3 L302.1 622.3 L301.6 622.3Z" fill="url(#g4)" stroke="#cfcbe6" stroke-width="0.5"/>
<path d="M323.1 622.4 L323.6 622.4 L324.1 622.4 L324.6 622.4 L325.1 622.4 L325.6 622.4 L326.1 622.4 L326.6 622.3 L327.1 622.3 L327.6 622.3 L328.1 622.3 L328.6 622.3 L329.1 622.3 L329.6 622.3 L330.1 622.2 L330.6 622.2 L331.1 622.2 L331.6 622.2 L332.1 622.2 L332.6 622.1 L333.1 622.1 L333.6 622.1 L334.1 622 L334.6 622 L335.1 622 L335.6 621.9 L336.1 621.9 L336.6 621.9 L337.1 621.8 L337.6 621.8 L338.1 621.7 L338.6 621.7 L339.1 621.6 L339.6 621.6 L340.1 621.5 L340.6 621.5 L341.1 621.4 L341.6 621.3 L342.1 621.3 L342.6 621.2 L343.1 621.1 L343.6 621.1 L344.1 621 L344.6 620.9 L345.1 620.8 L345.6 620.8 L346.1 620.7 L346.6 620.6 L347.1 620.5 L347.6 620.4 L348.1 620.3 L348.6 620.2 L349.1 620.1 L349.6 620 L350.1 619.9 L350.6 619.8 L351.1 619.7 L351.6 619.6 L352.1 619.5 L352.6 619.4 L353.1 619.3 L353.6 619.2 L354.1 619.1 L354.6 618.9 L355.1 618.8 L355.6 618.7 L356.1 618.6 L356.6 618.5 L357.1 618.4 L357.6 618.3 L358.1 618.2 L358.6 618 L359.1 617.9 L359.6 617.8 L360.1 617.7 L360.6 617.6 L361.1 617.5 L361.6 617.4 L362.1 617.3 L362.6 617.2 L363.1 617.1 L363.6 617 L364.1 616.9 L364.6 616.9 L365.1 616.8 L365.6 616.7 L366.1 616.6 L366.6 616.6 L367.1 616.5 L367.6 616.4 L368.1 616.4 L368.6 616.3 L369.1 616.3 L369.6 616.2 L370.1 616.2 L370.6 616.2 L371.1 616.1 L371.6 616.1 L372.1 616.1 L372.6 616.1 L373.1 616.1 L373.6 616.1 L374.1 616.1 L374.6 616.1 L375.1 616.1 L375.6 616.1 L376.1 616.1 L376.6 616.1 L377.1 616.2 L377.6 616.2 L378.1 616.2 L378.6 616.3 L379.1 616.3 L379.6 616.4 L380.1 616.4 L380.6 616.4 L381.1 616.5 L381.6 616.6 L382.1 616.6 L382.6 616.7 L383.1 616.7 L383.6 616.8 L384.1 616.9 L384.6 617 L385.1 617 L385.6 617.1 L386.1 617.2 L386.6 617.3 L387.1 617.3 L387.6 617.4 L388.1 617.5 L388.6 617.6 L389.1 617.7 L389.6 617.8 L390.1 617.9 L390.6 618 L391.1 618.1 L391.6 618.2 L392.1 618.3 L392.6 618.4 L393.1 618.5 L393.6 618.6 L394.1 618.7 L394.6 618.8 L395.1 618.9 L395.6 619 L396.1 619.1 L396.6 619.2 L397.1 619.3 L397.6 619.4 L398.1 619.5 L398.6 619.6 L399.1 619.7 L399.6 619.8 L400.1 619.9 L400.6 620 L401.1 620.1 L401.6 620.2 L402.1 620.3 L402.6 620.4 L403.1 620.5 L403.6 620.6 L404.1 620.7 L404.6 620.8 L405.1 620.9 L405.6 621 L406.1 621.1 L406.6 621.2 L407.1 621.2 L407.6 621.3 L408.1 621.4 L408.6 621.5 L409.1 621.6 L409.6 621.7 L410.1 621.7 L410.6 621.8 L411.1 621.9 L411.6 622 L412.1 622 L412.6 622.1 L413.1 622.2 L413.6 622.3 L414.1 622.3 L414.6 622.4 L415.1 622.5 L415.6 622.5 L416.1 622.6 L416.6 622.7 L417.1 622.7 L417.6 622.8 L418.1 622.8 L418.6 622.9 L419.1 623 L419.6 623 L420.1 623.1 L420.6 623.1 L421.1 623.2 L421.6 623.2 L422.1 623.3 L422.6 623.3 L423.1 623.4 L423.6 623.4 L424.1 623.5 L424.6 623.5 L425.1 623.6 L425.6 623.6 L426.1 623.7 L426.6 623.7 L427.1 623.8 L427.6 623.8 L428.1 623.8 L428.6 623.9 L429.1 623.9 L429.6 624 L430.1 624 L430.6 624 L431.1 624.1 L431.6 624.1 L432.1 624.1 L432.6 624.2 L433.1 624.2 L433.6 624.3 L434.1 624.3 L434.6 624.3 L435.1 624.4 L435.6 624.4 L436.1 624.4 L436.6 624.4 L436.6 624.6 L436.1 624.5 L435.6 624.5 L435.1 624.5 L434.6 624.5 L434.1 624.5 L433.6 624.4 L433.1 624.4 L432.6 624.4 L432.1 624.4 L431.6 624.3 L431.1 624.3 L430.6 624.3 L430.1 624.3 L429.6 624.2 L429.1 624.2 L428.6 624.2 L428.1 624.2 L427.6 624.2 L427.1 624.1 L426.6 624.1 L426.1 624.1 L425.6 624.1 L425.1 624 L424.6 624 L424.1 624 L423.6 624 L423.1 624 L422.6 623.9 L422.1 623.9 L421.6 623.9 L421.1 623.9 L420.6 623.9 L420.1 623.8 L419.6 623.8 L419.1 623.8 L418.6 623.8 L418.1 623.8 L417.6 623.8 L417.1 623.7 L416.6 623.7 L416.1 623.7 L415.6 623.7 L415.1 623.7 L414.6 623.7 L414.1 623.7 L413.6 623.6 L413.1 623.6 L412.6 623.6 L412.1 623.6 L411.6 623.6 L411.1 623.6 L410.6 623.6 L410.1 623.6 L409.6 623.5 L409.1 623.5 L408.6 623.5 L408.1 623.5 L407.6 623.5 L407.1 623.5 L406.6 623.5 L406.1 623.5 L405.6 623.5 L405.1 623.5 L404.6 623.5 L404.1 623.4 L403.6 623.4 L403.1 623.4 L402.6 623.4 L402.1 623.4 L401.6 623.4 L401.1 623.4 L400.6 623.4 L400.1 623.4 L399.6 623.4 L399.1 623.4 L398.6 623.4 L398.1 623.4 L397.6 623.3 L397.1 623.3 L396.6 623.3 L396.1 623.3 L395.6 623.3 L395.1 623.3 L394.6 623.3 L394.1 623.3 L393.6 623.3 L393.1 623.3 L392.6 623.3 L392.1 623.3 L391.6 623.3 L391.1 623.3 L390.6 623.3 L390.1 623.2 L389.6 623.2 L389.1 623.2 L388.6 623.2 L388.1 623.2 L387.6 623.2 L387.1 623.2 L386.6 623.2 L386.1 623.2 L385.6 623.2 L385.1 623.2 L384.6 623.2 L384.1 623.2 L383.6 623.2 L383.1 623.2 L382.6 623.2 L382.1 623.2 L381.6 623.2 L381.1 623.1 L380.6 623.1 L380.1 623.1 L379.6 623.1 L379.1 623.1 L378.6 623.1 L378.1 623.1 L377.6 623.1 L377.1 623.1 L376.6 623.1 L376.1 623.1 L375.6 623.1 L375.1 623.1 L374.6 623.1 L374.1 623.1 L373.6 623.1 L373.1 623.1 L372.6 623.1 L372.1 623 L371.6 623 L371.1 623 L370.6 623 L370.1 623 L369.6 623 L369.1 623 L368.6 623 L368.1 623 L367.6 623 L367.1 623 L366.6 623 L366.1 623 L365.6 623 L365.1 623 L364.6 623 L364.1 623 L363.6 623 L363.1 623 L362.6 622.9 L362.1 622.9 L361.6 622.9 L361.1 622.9 L360.6 622.9 L360.1 622.9 L359.6 622.9 L359.1 622.9 L358.6 622.9 L358.1 622.9 L357.6 622.9 L357.1 622.9 L356.6 622.9 L356.1 622.9 L355.6 622.9 L355.1 622.9 L354.6 622.9 L354.1 622.9 L353.6 622.9 L353.1 622.8 L352.6 622.8 L352.1 622.8 L351.6 622.8 L351.1 622.8 L350.6 622.8 L350.1 622.8 L349.6 622.8 L349.1 622.8 L348.6 622.8 L348.1 622.8 L347.6 622.8 L347.1 622.8 L346.6 622.8 L346.1 622.8 L345.6 622.8 L345.1 622.8 L344.6 622.8 L344.1 622.8 L343.6 622.7 L343.1 622.7 L342.6 622.7 L342.1 622.7 L341.6 622.7 L341.1 622.7 L340.6 622.7 L340.1 622.7 L339.6 622.7 L339.1 622.7 L338.6 622.7 L338.1 622.7 L337.6 622.7 L337.1 622.7 L336.6 622.7 L336.1 622.7 L335.6 622.7 L335.1 622.7 L334.6 622.7 L334.1 622.6 L333.6 622.6 L333.1 622.6 L332.6 622.6 L332.1 622.6 L331.6 622.6 L331.1 622.6 L330.6 622.6 L330.1 622.6 L329.6 622.6 L329.1 622.6 L328.6 622.6 L328.1 622.6 L327.6 622.6 L327.1 622.6 L326.6 622.6 L326.1 622.6 L325.6 622.6 L325.1 622.6 L324.6 622.5 L324.1 622.5 L323.6 622.5 L323.1 622.5Z" fill="url(#g5)" stroke="#f3c2cf" stroke-width="0.5"/>
<g fill="#b0b3bb"><circle cx="304" cy="620.7" r="0.8"/><circle cx="306.55" cy="621.75" r="0.8"/><circle cx="309.1" cy="622.72" r="0.8"/><circle cx="311.65" cy="622.93" r="0.8"/><circle cx="314.2" cy="622.61" r="0.8"/><circle cx="316.75" cy="621.57" r="0.8"/><circle cx="319.3" cy="621.8" r="0.8"/><circle cx="321.85" cy="621.25" r="0.8"/><circle cx="324.4" cy="620.24" r="0.8"/><circle cx="326.95" cy="620.92" r="0.8"/><circle cx="329.5" cy="622.08" r="0.8"/><circle cx="332.05" cy="621.31" r="0.8"/><circle cx="334.6" cy="620.61" r="0.8"/><circle cx="337.15" cy="619.71" r="0.8"/><circle cx="339.7" cy="620.28" r="0.8"/><circle cx="342.25" cy="619.48" r="0.8"/><circle cx="344.8" cy="619.6" r="0.8"/><circle cx="347.35" cy="619.51" r="0.8"/><circle cx="349.9" cy="616.48" r="0.8"/><circle cx="352.45" cy="617.84" r="0.8"/><circle cx="355" cy="615.96" r="0.8"/><circle cx="357.55" cy="615.77" r="0.8"/><circle cx="360.1" cy="614.84" r="0.8"/><circle cx="362.65" cy="616.31" r="0.8"/><circle cx="365.2" cy="615.33" r="0.8"/><circle cx="367.75" cy="614.66" r="0.8"/><circle cx="370.3" cy="613.11" r="0.8"/><circle cx="372.85" cy="612.13" r="0.8"/><circle cx="375.4" cy="612.78" r="0.8"/><circle cx="377.95" cy="613.03" r="0.8"/><circle cx="380.5" cy="612.48" r="0.8"/><circle cx="383.05" cy="612.8" r="0.8"/><circle cx="385.6" cy="611.39" r="0.8"/><circle cx="388.15" cy="612.69" r="0.8"/><circle cx="390.7" cy="610.83" r="0.8"/><circle cx="393.25" cy="610.9" r="0.8"/><circle cx="395.8" cy="607.89" r="0.8"/><circle cx="398.35" cy="605.64" r="0.8"/><circle cx="400.9" cy="602.85" r="0.8"/><circle cx="403.45" cy="601.67" r="0.8"/><circle cx="406" cy="598.81" r="0.8"/><circle cx="408.55" cy="594.57" r="0.8"/><circle cx="411.1" cy="591.03" r="0.8"/><circle cx="413.65" cy="586.46" r="0.8"/><circle cx="416.2" cy="582.29" r="0.8"/><circle cx="418.75" cy="578.48" r="0.8"/><circle cx="421.3" cy="573.44" r="0.8"/><circle cx="423.85" cy="571.14" r="0.8"/><circle cx="426.4" cy="569.79" r="0.8"/><circle cx="428.95" cy="568.54" r="0.8"/><circle cx="431.5" cy="569.18" r="0.8"/><circle cx="434.05" cy="569.35" r="0.8"/><circle cx="436.6" cy="570.32" r="0.8"/><circle cx="439.15" cy="571.69" r="0.8"/><circle cx="441.7" cy="571.83" r="0.8"/><circle cx="444.25" cy="576.53" r="0.8"/><circle cx="446.8" cy="578.68" r="0.8"/><circle cx="449.35" cy="583.18" r="0.8"/><circle cx="451.9" cy="585.95" r="0.8"/><circle cx="454.45" cy="589.46" r="0.8"/><circle cx="457" cy="592.86" r="0.8"/><circle cx="459.55" cy="596.62" r="0.8"/><circle cx="462.1" cy="598.54" r="0.8"/><circle cx="464.65" cy="602.11" r="0.8"/><circle cx="467.2" cy="607.65" r="0.8"/><circle cx="469.75" cy="609.73" r="0.8"/><circle cx="472.3" cy="611.47" r="0.8"/><circle cx="474.85" cy="613.79" r="0.8"/><circle cx="477.4" cy="615.75" r="0.8"/><circle cx="479.95" cy="620.7" r="0.8"/><circle cx="482.5" cy="619.71" r="0.8"/><circle cx="485.05" cy="620.49" r="0.8"/><circle cx="487.6" cy="620.91" r="0.8"/><circle cx="490.15" cy="620.25" r="0.8"/><circle cx="492.7" cy="623.17" r="0.8"/><circle cx="495.25" cy="624.86" r="0.8"/><circle cx="497.8" cy="624.9" r="0.8"/><circle cx="500.35" cy="624.66" r="0.8"/><circle cx="502.9" cy="624.15" r="0.8"/><circle cx="505.45" cy="623.85" r="0.8"/><circle cx="508" cy="625.15" r="0.8"/><circle cx="510.55" cy="624.85" r="0.8"/><circle cx="513.1" cy="624.3" r="0.8"/><circle cx="515.65" cy="626.89" r="0.8"/><circle cx="518.2" cy="624.63" r="0.8"/><circle cx="520.75" cy="625.04" r="0.8"/><circle cx="523.3" cy="623.43" r="0.8"/><circle cx="525.85" cy="627.14" r="0.8"/></g>
<path d="M301.6 622.3 L302.1 622.3 L302.6 622.3 L303.1 622.3 L303.6 622.3 L304.1 622.3 L304.6 622.3 L305.1 622.3 L305.6 622.3 L306.1 622.4 L306.6 622.4 L307.1 622.4 L307.6 622.4 L308.1 622.4 L308.6 622.4 L309.1 622.4 L309.6 622.4 L310.1 622.4 L310.6 622.4 L311.1 622.4 L311.6 622.4 L312.1 622.4 L312.6 622.4 L313.1 622.4 L313.6 622.4 L314.1 622.4 L314.6 622.4 L315.1 622.4 L315.6 622.5 L316.1 622.5 L316.6 622.5 L317.1 622.5 L317.6 622.5 L318.1 622.5 L318.6 622.5 L319.1 622.5 L319.6 622.5 L320.1 622.5 L320.6 622.5 L321.1 622.5 L321.6 622.5 L322.1 622.5 L322.6 622.5 L323.1 622.5 L323.6 622.5 L324.1 622.5 L324.6 622.5 L325.1 622.6 L325.6 622.6 L326.1 622.6 L326.6 622.6 L327.1 622.6 L327.6 622.6 L328.1 622.6 L328.6 622.6 L329.1 622.6 L329.6 622.6 L330.1 622.6 L330.6 622.6 L331.1 622.6 L331.6 622.6 L332.1 622.6 L332.6 622.6 L333.1 622.6 L333.6 622.6 L334.1 622.6 L334.6 622.7 L335.1 622.7 L335.6 622.7 L336.1 622.7 L336.6 622.7 L337.1 622.7 L337.6 622.7 L338.1 622.7 L338.6 622.7 L339.1 622.7 L339.6 622.7 L340.1 622.7 L340.6 622.7 L341.1 622.7 L341.6 622.7 L342.1 622.7 L342.6 622.7 L343.1 622.7 L343.6 622.7 L344.1 622.8 L344.6 622.8 L345.1 622.8 L345.6 622.8 L346.1 622.8 L346.6 622.8 L347.1 622.8 L347.6 622.8 L348.1 622.8 L348.6 622.8 L349.1 622.8 L349.6 622.8 L350.1 622.8 L350.6 622.8 L351.1 622.8 L351.6 622.8 L352.1 622.8 L352.6 622.8 L353.1 622.8 L353.6 622.9 L354.1 622.9 L354.6 622.9 L355.1 622.9 L355.6 622.9 L356.1 622.9 L356.6 622.9 L357.1 622.9 L357.6 622.9 L358.1 622.9 L358.6 622.9 L359.1 622.9 L359.6 622.9 L360.1 622.9 L360.6 622.9 L361.1 622.9 L361.6 622.9 L362.1 622.9 L362.6 622.9 L363.1 623 L363.6 623 L364.1 623 L364.6 623 L365.1 623 L365.6 623 L366.1 623 L366.6 623 L367.1 623 L367.6 623 L368.1 623 L368.6 623 L369.1 623 L369.6 623 L370.1 623 L370.6 623 L371.1 623 L371.6 623 L372.1 623 L372.6 623.1 L373.1 623.1 L373.6 623.1 L374.1 623.1 L374.6 623.1 L375.1 623.1 L375.6 623.1 L376.1 623.1 L376.6 623.1 L377.1 623.1 L377.6 623.1 L378.1 623.1 L378.6 623.1 L379.1 623.1 L379.6 623.1 L380.1 623.1 L380.6 623.1 L381.1 623.1 L381.6 623.2 L382.1 623.2 L382.6 623.2 L383.1 623.2 L383.6 623.2 L384.1 623.2 L384.6 623.2 L385.1 623.2 L385.6 623.2 L386.1 623.2 L386.6 623.2 L387.1 623.2 L387.6 623.2 L388.1 623.2 L388.6 623.2 L389.1 623.2 L389.6 623.2 L390.1 623.2 L390.6 623.3 L391.1 623.3 L391.6 623.3 L392.1 623.3 L392.6 623.3 L393.1 623.3 L393.6 623.3 L394.1 623.3 L394.6 623.3 L395.1 623.3 L395.6 623.3 L396.1 623.3 L396.6 623.3 L397.1 623.3 L397.6 623.3 L398.1 623.4 L398.6 623.4 L399.1 623.4 L399.6 623.4 L400.1 623.4 L400.6 623.4 L401.1 623.4 L401.6 623.4 L402.1 623.4 L402.6 623.4 L403.1 623.4 L403.6 623.4 L404.1 623.4 L404.6 623.5 L405.1 623.5 L405.6 623.5 L406.1 623.5 L406.6 623.5 L407.1 623.5 L407.6 623.5 L408.1 623.5 L408.6 623.5 L409.1 623.5 L409.6 623.5 L410.1 623.6 L410.6 623.6 L411.1 623.6 L411.6 623.6 L412.1 623.6 L412.6 623.6 L413.1 623.6 L413.6 623.6 L414.1 623.7 L414.6 623.7 L415.1 623.7 L415.6 623.7 L416.1 623.7 L416.6 623.7 L417.1 623.7 L417.6 623.8 L418.1 623.8 L418.6 623.8 L419.1 623.8 L419.6 623.8 L420.1 623.8 L420.6 623.9 L421.1 623.9 L421.6 623.9 L422.1 623.9 L422.6 623.9 L423.1 624 L423.6 624 L424.1 624 L424.6 624 L425.1 624 L425.6 624.1 L426.1 624.1 L426.6 624.1 L427.1 624.1 L427.6 624.2 L428.1 624.2 L428.6 624.2 L429.1 624.2 L429.6 624.2 L430.1 624.3 L430.6 624.3 L431.1 624.3 L431.6 624.3 L432.1 624.4 L432.6 624.4 L433.1 624.4 L433.6 624.4 L434.1 624.5 L434.6 624.5 L435.1 624.5 L435.6 624.5 L436.1 624.5 L436.6 624.6 L437.1 624.6 L437.6 624.6 L438.1 624.6 L438.6 624.6 L439.1 624.7 L439.6 624.7 L440.1 624.7 L440.6 624.7 L441.1 624.7 L441.6 624.8 L442.1 624.8 L442.6 624.8 L443.1 624.8 L443.6 624.8 L444.1 624.9 L444.6 624.9 L445.1 624.9 L445.6 624.9 L446.1 624.9 L446.6 624.9 L447.1 624.9 L447.6 625 L448.1 625 L448.6 625 L449.1 625 L449.6 625 L450.1 625 L450.6 625 L451.1 625 L451.6 625.1 L452.1 625.1 L452.6 625.1 L453.1 625.1 L453.6 625.1 L454.1 625.1 L454.6 625.1 L455.1 625.1 L455.6 625.1 L456.1 625.1 L456.6 625.2 L457.1 625.2 L457.6 625.2 L458.1 625.2 L458.6 625.2 L459.1 625.2 L459.6 625.2 L460.1 625.2 L460.6 625.2 L461.1 625.2 L461.6 625.2 L462.1 625.2 L462.6 625.3 L463.1 625.3 L463.6 625.3 L464.1 625.3 L464.6 625.3 L465.1 625.3 L465.6 625.3 L466.1 625.3 L466.6 625.3 L467.1 625.3 L467.6 625.3 L468.1 625.3 L468.6 625.3 L469.1 625.3 L469.6 625.3 L470.1 625.4 L470.6 625.4 L471.1 625.4 L471.6 625.4 L472.1 625.4 L472.6 625.4 L473.1 625.4 L473.6 625.4 L474.1 625.4 L474.6 625.4 L475.1 625.4 L475.6 625.4 L476.1 625.4 L476.6 625.4 L477.1 625.4 L477.6 625.4 L478.1 625.4 L478.6 625.5 L479.1 625.5 L479.6 625.5 L480.1 625.5 L480.6 625.5 L481.1 625.5 L481.6 625.5 L482.1 625.5 L482.6 625.5 L483.1 625.5 L483.6 625.5 L484.1 625.5 L484.6 625.5 L485.1 625.5 L485.6 625.5 L486.1 625.5 L486.6 625.5 L487.1 625.5 L487.6 625.5 L488.1 625.6 L488.6 625.6 L489.1 625.6 L489.6 625.6 L490.1 625.6 L490.6 625.6 L491.1 625.6 L491.6 625.6 L492.1 625.6 L492.6 625.6 L493.1 625.6 L493.6 625.6 L494.1 625.6 L494.6 625.6 L495.1 625.6 L495.6 625.6 L496.1 625.6 L496.6 625.6 L497.1 625.7 L497.6 625.7 L498.1 625.7 L498.6 625.7 L499.1 625.7 L499.6 625.7 L500.1 625.7 L500.6 625.7 L501.1 625.7 L501.6 625.7 L502.1 625.7 L502.6 625.7 L503.1 625.7 L503.6 625.7 L504.1 625.7 L504.6 625.7 L505.1 625.7 L505.6 625.7 L506.1 625.7 L506.6 625.8 L507.1 625.8 L507.6 625.8 L508.1 625.8 L508.6 625.8 L509.1 625.8 L509.6 625.8 L510.1 625.8 L510.6 625.8 L511.1 625.8 L511.6 625.8 L512.1 625.8 L512.6 625.8 L513.1 625.8 L513.6 625.8 L514.1 625.8 L514.6 625.8 L515.1 625.8 L515.6 625.8 L516.1 625.8 L516.6 625.9 L517.1 625.9 L517.6 625.9 L518.1 625.9 L518.6 625.9 L519.1 625.9 L519.6 625.9 L520.1 625.9 L520.6 625.9 L521.1 625.9 L521.6 625.9 L522.1 625.9 L522.6 625.9 L523.1 625.9 L523.6 625.9 L524.1 625.9 L524.6 625.9 L525.1 625.9 L525.6 625.9 L526.1 626 L526.6 626 L527.1 626 L527.6 626 L528.1 626 L528.6 626 L529.1 626 L529.6 626" fill="none" stroke="#3d9bd6" stroke-width="1.2" stroke-linejoin="round" stroke-linecap="round"/>
<path d="M301.6 621.8 L302.1 621.8 L302.6 621.8 L303.1 621.8 L303.6 621.8 L304.1 621.8 L304.6 621.8 L305.1 621.8 L305.6 621.9 L306.1 621.9 L306.6 621.9 L307.1 621.9 L307.6 621.9 L308.1 621.9 L308.6 621.9 L309.1 621.9 L309.6 621.9 L310.1 621.9 L310.6 621.9 L311.1 621.9 L311.6 621.9 L312.1 621.9 L312.6 621.8 L313.1 621.8 L313.6 621.8 L314.1 621.8 L314.6 621.8 L315.1 621.8 L315.6 621.8 L316.1 621.8 L316.6 621.8 L317.1 621.8 L317.6 621.8 L318.1 621.8 L318.6 621.8 L319.1 621.8 L319.6 621.8 L320.1 621.8 L320.6 621.8 L321.1 621.8 L321.6 621.8 L322.1 621.8 L322.6 621.8 L323.1 621.7 L323.6 621.7 L324.1 621.7 L324.6 621.7 L325.1 621.7 L325.6 621.7 L326.1 621.7 L326.6 621.6 L327.1 621.6 L327.6 621.6 L328.1 621.6 L328.6 621.6 L329.1 621.5 L329.6 621.5 L330.1 621.5 L330.6 621.5 L331.1 621.4 L331.6 621.4 L332.1 621.4 L332.6 621.3 L333.1 621.3 L333.6 621.3 L334.1 621.2 L334.6 621.2 L335.1 621.2 L335.6 621.1 L336.1 621.1 L336.6 621 L337.1 621 L337.6 620.9 L338.1 620.9 L338.6 620.8 L339.1 620.7 L339.6 620.7 L340.1 620.6 L340.6 620.5 L341.1 620.5 L341.6 620.4 L342.1 620.3 L342.6 620.2 L343.1 620.2 L343.6 620.1 L344.1 620 L344.6 619.9 L345.1 619.8 L345.6 619.7 L346.1 619.6 L346.6 619.5 L347.1 619.4 L347.6 619.3 L348.1 619.2 L348.6 619.1 L349.1 619 L349.6 618.9 L350.1 618.8 L350.6 618.7 L351.1 618.5 L351.6 618.4 L352.1 618.3 L352.6 618.2 L353.1 618.1 L353.6 617.9 L354.1 617.8 L354.6 617.7 L355.1 617.5 L355.6 617.4 L356.1 617.3 L356.6 617.2 L357.1 617 L357.6 616.9 L358.1 616.8 L358.6 616.6 L359.1 616.5 L359.6 616.4 L360.1 616.2 L360.6 616.1 L361.1 616 L361.6 615.9 L362.1 615.7 L362.6 615.6 L363.1 615.5 L363.6 615.4 L364.1 615.3 L364.6 615.2 L365.1 615.1 L365.6 614.9 L366.1 614.8 L366.6 614.7 L367.1 614.6 L367.6 614.5 L368.1 614.4 L368.6 614.4 L369.1 614.3 L369.6 614.2 L370.1 614.1 L370.6 614 L371.1 614 L371.6 613.9 L372.1 613.8 L372.6 613.7 L373.1 613.7 L373.6 613.6 L374.1 613.6 L374.6 613.5 L375.1 613.5 L375.6 613.4 L376.1 613.3 L376.6 613.3 L377.1 613.2 L377.6 613.2 L378.1 613.1 L378.6 613.1 L379.1 613 L379.6 613 L380.1 612.9 L380.6 612.8 L381.1 612.8 L381.6 612.7 L382.1 612.6 L382.6 612.6 L383.1 612.5 L383.6 612.4 L384.1 612.3 L384.6 612.2 L385.1 612.1 L385.6 612 L386.1 611.9 L386.6 611.8 L387.1 611.7 L387.6 611.5 L388.1 611.4 L388.6 611.3 L389.1 611.1 L389.6 610.9 L390.1 610.8 L390.6 610.6 L391.1 610.4 L391.6 610.2 L392.1 610 L392.6 609.7 L393.1 609.5 L393.6 609.2 L394.1 609 L394.6 608.7 L395.1 608.4 L395.6 608.1 L396.1 607.8 L396.6 607.4 L397.1 607.1 L397.6 606.7 L398.1 606.3 L398.6 605.9 L399.1 605.5 L399.6 605.1 L400.1 604.7 L400.6 604.2 L401.1 603.7 L401.6 603.2 L402.1 602.7 L402.6 602.2 L403.1 601.6 L403.6 601.1 L404.1 600.5 L404.6 599.9 L405.1 599.3 L405.6 598.7 L406.1 598.1 L406.6 597.4 L407.1 596.7 L407.6 596.1 L408.1 595.4 L408.6 594.7 L409.1 593.9 L409.6 593.2 L410.1 592.5 L410.6 591.7 L411.1 591 L411.6 590.2 L412.1 589.4 L412.6 588.6 L413.1 587.9 L413.6 587.1 L414.1 586.3 L414.6 585.5 L415.1 584.7 L415.6 583.9 L416.1 583.1 L416.6 582.3 L417.1 581.6 L417.6 580.8 L418.1 580 L418.6 579.3 L419.1 578.5 L419.6 577.8 L420.1 577.1 L420.6 576.4 L421.1 575.7 L421.6 575 L422.1 574.4 L422.6 573.8 L423.1 573.2 L423.6 572.6 L424.1 572.1 L424.6 571.6 L425.1 571.1 L425.6 570.7 L426.1 570.3 L426.6 569.9 L427.1 569.6 L427.6 569.3 L428.1 569 L428.6 568.8 L429.1 568.7 L429.6 568.6 L430.1 568.5 L430.6 568.5 L431.1 568.5 L431.6 568.5 L432.1 568.6 L432.6 568.7 L433.1 568.8 L433.6 568.9 L434.1 569.1 L434.6 569.3 L435.1 569.5 L435.6 569.7 L436.1 570 L436.6 570.2 L437.1 570.5 L437.6 570.9 L438.1 571.2 L438.6 571.5 L439.1 571.9 L439.6 572.3 L440.1 572.7 L440.6 573.1 L441.1 573.6 L441.6 574.1 L442.1 574.5 L442.6 575 L443.1 575.5 L443.6 576.1 L444.1 576.6 L444.6 577.2 L445.1 577.7 L445.6 578.3 L446.1 578.9 L446.6 579.5 L447.1 580.1 L447.6 580.8 L448.1 581.4 L448.6 582.1 L449.1 582.7 L449.6 583.4 L450.1 584 L450.6 584.7 L451.1 585.4 L451.6 586.1 L452.1 586.8 L452.6 587.5 L453.1 588.2 L453.6 588.9 L454.1 589.6 L454.6 590.3 L455.1 591 L455.6 591.7 L456.1 592.4 L456.6 593.1 L457.1 593.8 L457.6 594.5 L458.1 595.2 L458.6 595.9 L459.1 596.6 L459.6 597.3 L460.1 597.9 L460.6 598.6 L461.1 599.3 L461.6 599.9 L462.1 600.6 L462.6 601.3 L463.1 601.9 L463.6 602.5 L464.1 603.2 L464.6 603.8 L465.1 604.4 L465.6 605 L466.1 605.6 L466.6 606.2 L467.1 606.8 L467.6 607.3 L468.1 607.9 L468.6 608.4 L469.1 609 L469.6 609.5 L470.1 610 L470.6 610.5 L471.1 611 L471.6 611.5 L472.1 612 L472.6 612.4 L473.1 612.9 L473.6 613.3 L474.1 613.8 L474.6 614.2 L475.1 614.6 L475.6 615 L476.1 615.4 L476.6 615.8 L477.1 616.2 L477.6 616.5 L478.1 616.9 L478.6 617.2 L479.1 617.6 L479.6 617.9 L480.1 618.2 L480.6 618.5 L481.1 618.8 L481.6 619.1 L482.1 619.3 L482.6 619.6 L483.1 619.9 L483.6 620.1 L484.1 620.4 L484.6 620.6 L485.1 620.8 L485.6 621 L486.1 621.2 L486.6 621.4 L487.1 621.6 L487.6 621.8 L488.1 622 L488.6 622.2 L489.1 622.3 L489.6 622.5 L490.1 622.7 L490.6 622.8 L491.1 622.9 L491.6 623.1 L492.1 623.2 L492.6 623.3 L493.1 623.5 L493.6 623.6 L494.1 623.7 L494.6 623.8 L495.1 623.9 L495.6 624 L496.1 624.1 L496.6 624.2 L497.1 624.3 L497.6 624.3 L498.1 624.4 L498.6 624.5 L499.1 624.6 L499.6 624.6 L500.1 624.7 L500.6 624.8 L501.1 624.8 L501.6 624.9 L502.1 624.9 L502.6 625 L503.1 625 L503.6 625.1 L504.1 625.1 L504.6 625.2 L505.1 625.2 L505.6 625.2 L506.1 625.3 L506.6 625.3 L507.1 625.3 L507.6 625.4 L508.1 625.4 L508.6 625.4 L509.1 625.5 L509.6 625.5 L510.1 625.5 L510.6 625.5 L511.1 625.6 L511.6 625.6 L512.1 625.6 L512.6 625.6 L513.1 625.6 L513.6 625.6 L514.1 625.7 L514.6 625.7 L515.1 625.7 L515.6 625.7 L516.1 625.7 L516.6 625.7 L517.1 625.8 L517.6 625.8 L518.1 625.8 L518.6 625.8 L519.1 625.8 L519.6 625.8 L520.1 625.8 L520.6 625.8 L521.1 625.8 L521.6 625.9 L522.1 625.9 L522.6 625.9 L523.1 625.9 L523.6 625.9 L524.1 625.9 L524.6 625.9 L525.1 625.9 L525.6 625.9 L526.1 625.9 L526.6 625.9 L527.1 625.9 L527.6 625.9 L528.1 626 L528.6 626 L529.1 626 L529.6 626" fill="none" stroke="#2b8bcb" stroke-width="1.45" stroke-linejoin="round" stroke-linecap="round"/>
</g>
<line x1="301" y1="473" x2="530.4" y2="473" stroke="#000" stroke-width="1.2"/>
<line x1="301" y1="553.8" x2="530.4" y2="553.8" stroke="#000" stroke-width="1.2"/>
<rect x="301" y="393.3" width="229.4" height="240.9" fill="none" stroke="#000" stroke-width="1.3"/>
<line x1="326.49" y1="634.2" x2="326.49" y2="637" stroke="#000" stroke-width="1.1"/>
<text x="326.49" y="648.2" font-size="12" text-anchor="middle" stroke="#000" stroke-width="0.3">404</text>
<line x1="377.47" y1="634.2" x2="377.47" y2="637" stroke="#000" stroke-width="1.1"/>
<text x="377.47" y="648.2" font-size="12" text-anchor="middle" stroke="#000" stroke-width="0.3">402</text>
<line x1="428.44" y1="634.2" x2="428.44" y2="637" stroke="#000" stroke-width="1.1"/>
<text x="428.44" y="648.2" font-size="12" text-anchor="middle" stroke="#000" stroke-width="0.3">400</text>
<line x1="479.42" y1="634.2" x2="479.42" y2="637" stroke="#000" stroke-width="1.1"/>
<text x="479.42" y="648.2" font-size="12" text-anchor="middle" stroke="#000" stroke-width="0.3">398</text>
<line x1="530.4" y1="634.2" x2="530.4" y2="637" stroke="#000" stroke-width="1.1"/>
<text x="530.4" y="648.2" font-size="12" text-anchor="middle" stroke="#000" stroke-width="0.3">396</text>
<line x1="351.98" y1="634.2" x2="351.98" y2="636" stroke="#000" stroke-width="1"/>
<line x1="402.96" y1="634.2" x2="402.96" y2="636" stroke="#000" stroke-width="1"/>
<line x1="453.93" y1="634.2" x2="453.93" y2="636" stroke="#000" stroke-width="1"/>
<line x1="504.91" y1="634.2" x2="504.91" y2="636" stroke="#000" stroke-width="1"/>
<text x="354.5" y="669.2" font-size="12.9" stroke="#000" stroke-width="0.3">Binding Energy (eV)</text>
<text x="294" y="513.6" font-size="12.9" text-anchor="middle" stroke="#000" stroke-width="0.3" transform="rotate(-90 294 513.6)">Intensity (a.u.)</text>
<text x="275.8" y="406.6" font-size="15.3" stroke="#000" stroke-width="0.3">(e)</text>
<text x="308.6" y="405.9" font-size="9" fill="#111" stroke="#111" stroke-width="0.22">D-SiO<tspan font-size="6.3" dy="2.7">2</tspan></text>
<text x="309.4" y="486.3" font-size="9" fill="#111" stroke="#111" stroke-width="0.22">BC-D-SiO<tspan font-size="6.3" dy="2.7">2</tspan></text>
<text x="308.7" y="566.3" font-size="9" fill="#111" stroke="#111" stroke-width="0.22">PFBC-D-SiO<tspan font-size="6.3" dy="2.7">2</tspan></text>
<text x="505" y="405.5" font-size="9" fill="#111" stroke="#111" stroke-width="0.22">N 1s</text>
<text x="505" y="485.5" font-size="9" fill="#111" stroke="#111" stroke-width="0.22">N 1s</text>
<text x="505" y="565.5" font-size="9" fill="#111" stroke="#111" stroke-width="0.22">N 1s</text>
<text x="461.6" y="413.6" font-size="8.45" fill="#111" stroke="#111" stroke-width="0.22">N-H/NH<tspan font-size="5.91" dy="2.53">2</tspan></text>
<line x1="461.6" y1="415.2" x2="494.27" y2="415.2" stroke="#151515" stroke-width="1.25"/>
<text x="477" y="423.2" font-size="8.45" fill="#111" text-anchor="middle" stroke="#111" stroke-width="0.22">399.9</text>
<line x1="466.43" y1="425" x2="487.57" y2="425" stroke="#151515" stroke-width="1.25"/>
<line x1="466.6" y1="425" x2="430.2" y2="403.4" stroke="#151515" stroke-width="1.25"/>
<text x="342.8" y="434.6" font-size="8.45" fill="#111" text-anchor="middle" stroke="#111" stroke-width="0.22">C-N</text>
<line x1="335.29" y1="436.1" x2="350.31" y2="436.1" stroke="#151515" stroke-width="1.25"/>
<text x="342.8" y="444.4" font-size="8.45" fill="#111" text-anchor="middle" stroke="#111" stroke-width="0.22">401.9</text>
<line x1="332.23" y1="446.2" x2="353.37" y2="446.2" stroke="#151515" stroke-width="1.25"/>
<line x1="353.2" y1="446.2" x2="367.8" y2="453" stroke="#151515" stroke-width="1.25"/>
<text x="462.9" y="493.1" font-size="8.45" fill="#111" stroke="#111" stroke-width="0.22">N-H/NH<tspan font-size="5.91" dy="2.53">2</tspan></text>
<line x1="462.9" y1="494.7" x2="495.57" y2="494.7" stroke="#151515" stroke-width="1.25"/>
<text x="478" y="502.4" font-size="8.45" fill="#111" text-anchor="middle" stroke="#111" stroke-width="0.22">399.7</text>
<line x1="467.43" y1="504" x2="488.57" y2="504" stroke="#151515" stroke-width="1.25"/>
<line x1="467.6" y1="504" x2="437.6" y2="487.7" stroke="#151515" stroke-width="1.25"/>
<text x="346.8" y="517.5" font-size="8.45" fill="#111" text-anchor="middle" stroke="#111" stroke-width="0.22">CNO</text>
<line x1="337.41" y1="519" x2="356.19" y2="519" stroke="#151515" stroke-width="1.25"/>
<text x="346.4" y="526.6" font-size="8.45" fill="#111" text-anchor="middle" stroke="#111" stroke-width="0.22">402.2</text>
<line x1="335.83" y1="528.2" x2="356.97" y2="528.2" stroke="#151515" stroke-width="1.25"/>
<line x1="356.7" y1="528.2" x2="368" y2="535.4" stroke="#151515" stroke-width="1.25"/>
<text x="462.3" y="579.1" font-size="8.45" fill="#111" stroke="#111" stroke-width="0.22">N-H/NH<tspan font-size="5.91" dy="2.53">2</tspan></text>
<line x1="462.3" y1="580.7" x2="494.97" y2="580.7" stroke="#151515" stroke-width="1.25"/>
<text x="475.6" y="588.7" font-size="8.45" fill="#111" text-anchor="middle" stroke="#111" stroke-width="0.22">399.9</text>
<line x1="465.03" y1="590.4" x2="486.17" y2="590.4" stroke="#151515" stroke-width="1.25"/>
<line x1="465.2" y1="590.4" x2="432.4" y2="568.8" stroke="#151515" stroke-width="1.25"/>
<text x="339.8" y="597.4" font-size="8.45" fill="#111" text-anchor="middle" stroke="#111" stroke-width="0.22">CNO</text>
<line x1="330.41" y1="598.9" x2="349.19" y2="598.9" stroke="#151515" stroke-width="1.25"/>
<text x="340" y="607.8" font-size="8.45" fill="#111" text-anchor="middle" stroke="#111" stroke-width="0.22">402.3</text>
<line x1="329.43" y1="609.6" x2="350.57" y2="609.6" stroke="#151515" stroke-width="1.25"/>
<line x1="350.4" y1="609.6" x2="366.8" y2="616.4" stroke="#151515" stroke-width="1.25"/>
</svg>
</body></html>
